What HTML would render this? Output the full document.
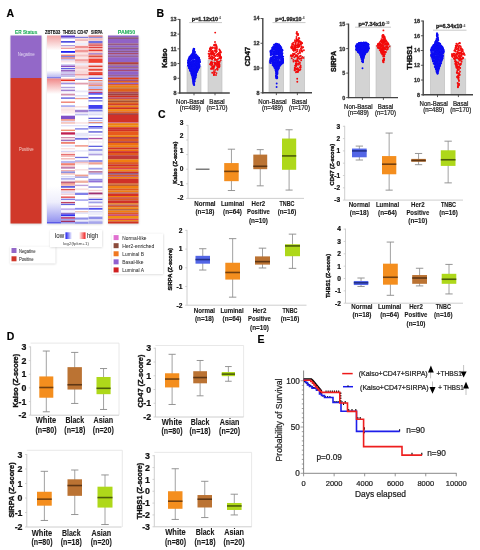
<!DOCTYPE html>
<html><head><meta charset="utf-8"><style>
html,body{margin:0;padding:0;background:#fff;width:480px;height:550px;overflow:hidden}
svg{display:block;will-change:transform}
text{font-family:"Liberation Sans", sans-serif;}
</style></head><body>
<svg width="480" height="550" viewBox="0 0 480 550">
<rect width="480" height="550" fill="#fff"/>
<text x="6.60" y="16.80" font-size="10.5" font-weight="bold" text-anchor="start" fill="#000" stroke="#000" stroke-width="0.15" >A</text>
<text x="26.20" y="33.80" font-size="5.5" font-weight="bold" text-anchor="middle" fill="#1fae5a" stroke="#1fae5a" stroke-width="0.1" textLength="22.3" lengthAdjust="spacingAndGlyphs" >ER Status</text>
<text x="52.60" y="33.50" font-size="4.9" font-weight="bold" text-anchor="middle" fill="#111" stroke="#111" stroke-width="0.12" textLength="15.4" lengthAdjust="spacingAndGlyphs" >ZBTB33</text>
<text x="69.30" y="33.50" font-size="4.9" font-weight="bold" text-anchor="middle" fill="#111" stroke="#111" stroke-width="0.12" textLength="13.3" lengthAdjust="spacingAndGlyphs" >THBS1</text>
<text x="82.70" y="33.50" font-size="4.9" font-weight="bold" text-anchor="middle" fill="#111" stroke="#111" stroke-width="0.12" textLength="10.7" lengthAdjust="spacingAndGlyphs" >CD47</text>
<text x="96.80" y="33.50" font-size="4.9" font-weight="bold" text-anchor="middle" fill="#111" stroke="#111" stroke-width="0.12" textLength="11.7" lengthAdjust="spacingAndGlyphs" >SIRPA</text>
<text x="126.50" y="33.80" font-size="5.5" font-weight="bold" text-anchor="middle" fill="#1fae5a" stroke="#1fae5a" stroke-width="0.1" textLength="17.3" lengthAdjust="spacingAndGlyphs" >PAM50</text>
<defs><filter id="sh" x="-20%" y="-20%" width="140%" height="140%"><feGaussianBlur stdDeviation="1.2"/></filter><linearGradient id="zr1" x1="0" y1="0" x2="0" y2="1"><stop offset="0" stop-color="#f2a2a2"/><stop offset="1" stop-color="#ffffff"/></linearGradient><linearGradient id="zb1" x1="0" y1="0" x2="0" y2="1"><stop offset="0" stop-color="#ffffff"/><stop offset="1" stop-color="#b8b8f0"/></linearGradient><linearGradient id="zr2" x1="0" y1="0" x2="0" y2="1"><stop offset="0" stop-color="#f08888"/><stop offset="1" stop-color="#ffffff"/></linearGradient><linearGradient id="zb2" x1="0" y1="0" x2="0" y2="1"><stop offset="0" stop-color="#ffffff"/><stop offset="0.45" stop-color="#eeeefc"/><stop offset="1" stop-color="#9494f0"/></linearGradient><linearGradient id="lb" x1="0" y1="0" x2="1" y2="0"><stop offset="0" stop-color="#2020f0"/><stop offset="1" stop-color="#ffffff"/></linearGradient><linearGradient id="lr" x1="0" y1="0" x2="1" y2="0"><stop offset="0" stop-color="#ffffff"/><stop offset="1" stop-color="#f02020"/></linearGradient></defs>
<rect x="10.80" y="36.30" width="31.00" height="188.00" fill="#000" opacity="0.18" filter="url(#sh)"/>
<rect x="47.30" y="36.30" width="55.50" height="188.00" fill="#000" opacity="0.18" filter="url(#sh)"/>
<rect x="108.30" y="36.30" width="30.50" height="188.00" fill="#000" opacity="0.18" filter="url(#sh)"/>
<rect x="10.50" y="35.50" width="31.00" height="42.50" fill="#9368c8" />
<rect x="10.50" y="78.00" width="31.00" height="145.50" fill="#d0382a" />
<text x="26.20" y="55.60" font-size="6.0" font-weight="normal" text-anchor="middle" fill="#e2d8f2" textLength="16.8" lengthAdjust="spacingAndGlyphs" >Negative</text>
<text x="26.30" y="151.40" font-size="6.0" font-weight="normal" text-anchor="middle" fill="#f3d2cc" textLength="14.4" lengthAdjust="spacingAndGlyphs" >Positive</text>
<rect x="47.00" y="35.50" width="14.00" height="188.00" fill="#fff" />
<rect x="47.00" y="35.50" width="14.00" height="15.00" fill="url(#zr1)" />
<rect x="47.00" y="70.50" width="14.00" height="6.80" fill="url(#zb1)" />
<rect x="47.00" y="77.20" width="14.00" height="1.30" fill="#6c6ce4" />
<rect x="47.00" y="78.50" width="14.00" height="15.50" fill="url(#zr2)" />
<rect x="47.00" y="186.00" width="14.00" height="36.00" fill="url(#zb2)" />
<rect x="47.00" y="222.00" width="14.00" height="1.50" fill="#5a5ae6" />
<rect x="61.00" y="35.50" width="14.00" height="188.00" fill="#fff" />
<rect x="61.00" y="35.50" width="14.00" height="2.20" fill="#6040d0" />
<rect x="61.00" y="37.70" width="14.00" height="0.90" fill="#b8a8e8" />
<rect x="61.00" y="41.00" width="14.00" height="1.70" fill="#5050e0" />
<rect x="61.00" y="45.00" width="14.00" height="1.40" fill="#b0a0e0" />
<rect x="61.00" y="46.40" width="14.00" height="1.40" fill="#f8dede" />
<rect x="61.00" y="47.80" width="14.00" height="1.20" fill="#f0a0a0" />
<rect x="61.00" y="51.00" width="14.00" height="1.80" fill="#2020f0" />
<rect x="61.00" y="54.60" width="14.00" height="1.40" fill="#e08080" />
<rect x="61.00" y="56.00" width="14.00" height="1.40" fill="#8080e0" />
<rect x="61.00" y="57.40" width="14.00" height="1.40" fill="#e07070" />
<rect x="61.00" y="58.80" width="14.00" height="1.80" fill="#c8c0ec" />
<rect x="61.00" y="60.60" width="14.00" height="1.80" fill="#fae6e6" />
<rect x="61.00" y="64.30" width="14.00" height="1.30" fill="#c0c0f0" />
<rect x="61.00" y="65.60" width="14.00" height="1.40" fill="#9050c0" />
<rect x="61.00" y="67.00" width="14.00" height="1.00" fill="#ece8f8" />
<rect x="61.00" y="68.00" width="14.00" height="1.30" fill="#6060e0" />
<rect x="61.00" y="70.20" width="14.00" height="1.40" fill="#8040b0" />
<rect x="61.00" y="71.60" width="14.00" height="2.40" fill="#d0c8f0" />
<rect x="61.00" y="74.00" width="14.00" height="1.40" fill="#c0a0d8" />
<rect x="61.00" y="75.40" width="14.00" height="1.40" fill="#b0b0e8" />
<rect x="61.00" y="78.00" width="14.00" height="1.50" fill="#f8d8d8" />
<rect x="61.00" y="79.50" width="14.00" height="1.70" fill="#e83020" />
<rect x="61.00" y="81.20" width="14.00" height="1.50" fill="#fae2e2" />
<rect x="61.00" y="82.70" width="14.00" height="1.60" fill="#a090e0" />
<rect x="61.00" y="86.80" width="14.00" height="1.40" fill="#b0a0e0" />
<rect x="61.00" y="89.60" width="14.00" height="1.40" fill="#a080d0" />
<rect x="61.00" y="91.00" width="14.00" height="1.30" fill="#ece8f8" />
<rect x="61.00" y="93.70" width="14.00" height="1.80" fill="#d090b0" />
<rect x="61.00" y="97.40" width="14.00" height="1.40" fill="#6060e0" />
<rect x="61.00" y="101.50" width="14.00" height="1.40" fill="#f08070" />
<rect x="61.00" y="105.20" width="14.00" height="1.80" fill="#b0b0f0" />
<rect x="61.00" y="107.00" width="14.00" height="2.00" fill="#fbeaea" />
<rect x="61.00" y="109.30" width="14.00" height="1.40" fill="#f8d6d6" />
<rect x="61.00" y="110.70" width="14.00" height="2.80" fill="#fcecec" />
<rect x="61.00" y="115.70" width="14.00" height="3.30" fill="#8050c8" />
<rect x="61.00" y="119.00" width="14.00" height="1.90" fill="#f0a090" />
<rect x="61.00" y="120.90" width="14.00" height="1.40" fill="#e4e0f8" />
<rect x="61.00" y="122.30" width="14.00" height="1.30" fill="#f4b4a8" />
<rect x="61.00" y="125.00" width="14.00" height="1.40" fill="#e4e0f8" />
<rect x="61.00" y="129.60" width="14.00" height="1.40" fill="#f09070" />
<rect x="61.00" y="132.30" width="14.00" height="2.30" fill="#c02050" />
<rect x="61.00" y="137.00" width="14.00" height="1.30" fill="#d090b0" />
<rect x="61.00" y="138.30" width="14.00" height="1.40" fill="#fae0e0" />
<rect x="61.00" y="139.70" width="14.00" height="1.30" fill="#a070c0" />
<rect x="61.00" y="141.00" width="14.00" height="1.00" fill="#ece8f8" />
<rect x="61.00" y="142.00" width="14.00" height="1.80" fill="#f08070" />
<rect x="61.00" y="145.20" width="14.00" height="1.40" fill="#e0e0f8" />
<rect x="61.00" y="148.00" width="14.00" height="1.40" fill="#fbe0e0" />
<rect x="61.00" y="150.80" width="14.00" height="1.40" fill="#d8d4f4" />
<rect x="61.00" y="152.20" width="14.00" height="1.80" fill="#fbe4e4" />
<rect x="61.00" y="154.00" width="14.00" height="1.40" fill="#e87070" />
<rect x="61.00" y="155.40" width="14.00" height="1.40" fill="#f0b0b0" />
<rect x="61.00" y="158.10" width="14.00" height="1.40" fill="#f0b8b8" />
<rect x="61.00" y="160.90" width="14.00" height="2.30" fill="#b8b8f0" />
<rect x="61.00" y="163.20" width="14.00" height="2.30" fill="#f08070" />
<rect x="61.00" y="165.50" width="14.00" height="1.30" fill="#f8d0d0" />
<rect x="61.00" y="166.80" width="14.00" height="1.90" fill="#c080b0" />
<rect x="61.00" y="170.00" width="14.00" height="1.40" fill="#f0b0b0" />
<rect x="61.00" y="171.40" width="14.00" height="1.90" fill="#9090e0" />
<rect x="61.00" y="173.30" width="14.00" height="1.30" fill="#f4b8b0" />
<rect x="61.00" y="176.00" width="14.00" height="1.40" fill="#dcdcf6" />
<rect x="61.00" y="178.30" width="14.00" height="1.40" fill="#9090e8" />
<rect x="61.00" y="179.70" width="14.00" height="1.80" fill="#f4eef8" />
<rect x="61.00" y="181.50" width="14.00" height="1.90" fill="#c06080" />
<rect x="61.00" y="183.40" width="14.00" height="1.30" fill="#f08070" />
<rect x="61.00" y="184.70" width="14.00" height="1.30" fill="#f4c0b8" />
<rect x="61.00" y="186.00" width="14.00" height="1.80" fill="#6060e0" />
<rect x="61.00" y="188.90" width="14.00" height="1.30" fill="#e05050" />
<rect x="61.00" y="190.20" width="14.00" height="1.30" fill="#f2b8b8" />
<rect x="61.00" y="191.50" width="14.00" height="2.10" fill="#dcd8f4" />
<rect x="61.00" y="193.60" width="14.00" height="1.40" fill="#f2d0d8" />
<rect x="61.00" y="196.40" width="14.00" height="1.70" fill="#e86060" />
<rect x="61.00" y="198.70" width="14.00" height="1.40" fill="#8080e8" />
<rect x="61.00" y="201.90" width="14.00" height="1.40" fill="#c04060" />
<rect x="61.00" y="203.80" width="14.00" height="1.30" fill="#6060e0" />
<rect x="61.00" y="208.30" width="14.00" height="1.90" fill="#c0b0f0" />
<rect x="61.00" y="211.60" width="14.00" height="1.30" fill="#e4e0f8" />
<rect x="61.00" y="212.90" width="14.00" height="1.40" fill="#9070c8" />
<rect x="61.00" y="214.30" width="14.00" height="1.80" fill="#3030f0" />
<rect x="61.00" y="216.10" width="14.00" height="0.90" fill="#c8c8f4" />
<rect x="61.00" y="217.00" width="14.00" height="1.90" fill="#c05080" />
<rect x="61.00" y="218.90" width="14.00" height="1.80" fill="#a0a0f0" />
<rect x="61.00" y="220.70" width="14.00" height="1.40" fill="#a03060" />
<rect x="61.00" y="222.10" width="14.00" height="1.40" fill="#9090ec" />
<rect x="75.00" y="35.50" width="13.50" height="188.00" fill="#fff" />
<rect x="75.00" y="35.50" width="13.50" height="42.50" fill="#fbe4e4" />
<rect x="75.00" y="35.50" width="13.50" height="1.30" fill="#fbeaea" />
<rect x="75.00" y="36.80" width="13.50" height="1.20" fill="#8080e0" />
<rect x="75.00" y="38.00" width="13.50" height="1.40" fill="#f8dcdc" />
<rect x="75.00" y="39.40" width="13.50" height="1.50" fill="#f0b0b0" />
<rect x="75.00" y="40.90" width="13.50" height="2.10" fill="#fcf0f0" />
<rect x="75.00" y="43.00" width="13.50" height="2.00" fill="#eeeefa" />
<rect x="75.00" y="46.00" width="13.50" height="2.20" fill="#f09090" />
<rect x="75.00" y="48.20" width="13.50" height="1.80" fill="#f8d4d4" />
<rect x="75.00" y="50.00" width="13.50" height="2.30" fill="#f09898" />
<rect x="75.00" y="54.60" width="13.50" height="1.90" fill="#f4c0c0" />
<rect x="75.00" y="59.20" width="13.50" height="2.30" fill="#f0a0a0" />
<rect x="75.00" y="61.50" width="13.50" height="1.90" fill="#f8d0d0" />
<rect x="75.00" y="63.40" width="13.50" height="2.20" fill="#eeeefa" />
<rect x="75.00" y="65.60" width="13.50" height="1.40" fill="#f8d4d4" />
<rect x="75.00" y="67.00" width="13.50" height="1.90" fill="#f6c8c8" />
<rect x="75.00" y="70.70" width="13.50" height="3.30" fill="#f8d8d8" />
<rect x="75.00" y="74.00" width="13.50" height="1.40" fill="#f0a0a0" />
<rect x="75.00" y="78.60" width="13.50" height="1.40" fill="#9090e0" />
<rect x="75.00" y="82.70" width="13.50" height="1.80" fill="#e0a0b0" />
<rect x="75.00" y="90.50" width="13.50" height="1.80" fill="#e8e6f8" />
<rect x="75.00" y="95.10" width="13.50" height="1.40" fill="#dcdcf6" />
<rect x="75.00" y="97.90" width="13.50" height="1.30" fill="#f0a090" />
<rect x="75.00" y="106.10" width="13.50" height="1.40" fill="#f8dcdc" />
<rect x="75.00" y="109.80" width="13.50" height="2.70" fill="#a080d0" />
<rect x="75.00" y="112.50" width="13.50" height="1.50" fill="#ece8f8" />
<rect x="75.00" y="114.00" width="13.50" height="1.40" fill="#c0c0f0" />
<rect x="75.00" y="122.30" width="13.50" height="1.30" fill="#f8dede" />
<rect x="75.00" y="125.00" width="13.50" height="1.40" fill="#e4e4f8" />
<rect x="75.00" y="128.20" width="13.50" height="1.40" fill="#8080e8" />
<rect x="75.00" y="132.80" width="13.50" height="3.70" fill="#e6e6f8" />
<rect x="75.00" y="137.90" width="13.50" height="1.80" fill="#7070e0" />
<rect x="75.00" y="145.20" width="13.50" height="1.40" fill="#f09080" />
<rect x="75.00" y="150.20" width="13.50" height="1.40" fill="#e4e4f8" />
<rect x="75.00" y="156.80" width="13.50" height="1.30" fill="#7070e0" />
<rect x="75.00" y="160.40" width="13.50" height="1.40" fill="#a0a0e8" />
<rect x="75.00" y="161.80" width="13.50" height="1.40" fill="#f4c0c0" />
<rect x="75.00" y="163.20" width="13.50" height="1.30" fill="#f8dcdc" />
<rect x="75.00" y="169.10" width="13.50" height="1.40" fill="#f8e0e0" />
<rect x="75.00" y="174.60" width="13.50" height="1.90" fill="#f0a090" />
<rect x="75.00" y="176.50" width="13.50" height="1.40" fill="#a0a0e8" />
<rect x="75.00" y="180.60" width="13.50" height="2.30" fill="#f0b0a0" />
<rect x="75.00" y="184.70" width="13.50" height="1.40" fill="#c0a0d8" />
<rect x="75.00" y="188.40" width="13.50" height="1.80" fill="#f8dede" />
<rect x="75.00" y="192.50" width="13.50" height="1.50" fill="#e4e4f8" />
<rect x="75.00" y="192.80" width="13.50" height="2.20" fill="#8080e8" />
<rect x="75.00" y="199.20" width="13.50" height="1.80" fill="#b0b0f0" />
<rect x="75.00" y="207.90" width="13.50" height="1.80" fill="#8888f0" />
<rect x="75.00" y="211.10" width="13.50" height="1.40" fill="#f0c0b0" />
<rect x="75.00" y="212.50" width="13.50" height="1.40" fill="#e0e0f8" />
<rect x="75.00" y="217.50" width="13.50" height="2.30" fill="#9090e8" />
<rect x="75.00" y="219.80" width="13.50" height="1.80" fill="#ececfa" />
<rect x="75.00" y="221.60" width="13.50" height="0.90" fill="#a0a0e8" />
<rect x="75.00" y="222.50" width="13.50" height="1.00" fill="#5050e0" />
<rect x="88.50" y="35.50" width="14.00" height="188.00" fill="#fff" />
<rect x="88.50" y="35.50" width="14.00" height="42.50" fill="#fad8d8" />
<rect x="88.50" y="35.50" width="14.00" height="1.30" fill="#e07070" />
<rect x="88.50" y="36.80" width="14.00" height="1.30" fill="#9090e0" />
<rect x="88.50" y="38.10" width="14.00" height="1.90" fill="#f4c0c0" />
<rect x="88.50" y="40.90" width="14.00" height="2.30" fill="#7070e0" />
<rect x="88.50" y="43.20" width="14.00" height="1.30" fill="#d08090" />
<rect x="88.50" y="44.50" width="14.00" height="1.40" fill="#e05050" />
<rect x="88.50" y="45.90" width="14.00" height="0.90" fill="#f4b8b8" />
<rect x="88.50" y="46.80" width="14.00" height="1.40" fill="#e04040" />
<rect x="88.50" y="49.60" width="14.00" height="1.80" fill="#e84030" />
<rect x="88.50" y="51.40" width="14.00" height="1.90" fill="#f6c8c8" />
<rect x="88.50" y="53.30" width="14.00" height="1.30" fill="#9070d0" />
<rect x="88.50" y="54.60" width="14.00" height="1.40" fill="#f09080" />
<rect x="88.50" y="56.00" width="14.00" height="1.40" fill="#e05040" />
<rect x="88.50" y="57.40" width="14.00" height="1.40" fill="#f4b0b0" />
<rect x="88.50" y="58.80" width="14.00" height="4.10" fill="#f04030" />
<rect x="88.50" y="62.90" width="14.00" height="1.40" fill="#ececfa" />
<rect x="88.50" y="65.60" width="14.00" height="1.40" fill="#e04030" />
<rect x="88.50" y="67.00" width="14.00" height="1.90" fill="#f6cccc" />
<rect x="88.50" y="68.90" width="14.00" height="1.80" fill="#e84838" />
<rect x="88.50" y="72.10" width="14.00" height="1.90" fill="#e84838" />
<rect x="88.50" y="74.00" width="14.00" height="1.40" fill="#e83020" />
<rect x="88.50" y="75.40" width="14.00" height="2.30" fill="#e4e4f8" />
<rect x="88.50" y="77.70" width="14.00" height="1.30" fill="#6060e0" />
<rect x="88.50" y="80.00" width="14.00" height="1.30" fill="#f08060" />
<rect x="88.50" y="81.30" width="14.00" height="1.40" fill="#c8c8f0" />
<rect x="88.50" y="82.70" width="14.00" height="0.90" fill="#f08870" />
<rect x="88.50" y="83.60" width="14.00" height="1.40" fill="#d8a0c0" />
<rect x="88.50" y="85.00" width="14.00" height="1.40" fill="#f09070" />
<rect x="88.50" y="86.40" width="14.00" height="2.60" fill="#c0c0f0" />
<rect x="88.50" y="89.00" width="14.00" height="1.50" fill="#f07050" />
<rect x="88.50" y="90.50" width="14.00" height="1.40" fill="#c8c8f0" />
<rect x="88.50" y="91.90" width="14.00" height="1.40" fill="#c04080" />
<rect x="88.50" y="93.30" width="14.00" height="1.30" fill="#3030f0" />
<rect x="88.50" y="97.00" width="14.00" height="1.80" fill="#5050e0" />
<rect x="88.50" y="100.10" width="14.00" height="1.40" fill="#8080e8" />
<rect x="88.50" y="105.00" width="14.00" height="3.90" fill="#4040f0" />
<rect x="88.50" y="108.90" width="14.00" height="1.30" fill="#c8c8f4" />
<rect x="88.50" y="110.20" width="14.00" height="1.40" fill="#6060e0" />
<rect x="88.50" y="111.60" width="14.00" height="2.40" fill="#eaeafa" />
<rect x="88.50" y="114.00" width="14.00" height="1.40" fill="#dcdcf6" />
<rect x="88.50" y="117.70" width="14.00" height="1.30" fill="#6060e0" />
<rect x="88.50" y="120.00" width="14.00" height="1.30" fill="#c0c0f0" />
<rect x="88.50" y="122.30" width="14.00" height="0.90" fill="#e06040" />
<rect x="88.50" y="123.20" width="14.00" height="0.80" fill="#c8c8f0" />
<rect x="88.50" y="126.00" width="14.00" height="1.30" fill="#4040e0" />
<rect x="88.50" y="127.30" width="14.00" height="1.40" fill="#8080e8" />
<rect x="88.50" y="131.00" width="14.00" height="1.80" fill="#8080e0" />
<rect x="88.50" y="134.20" width="14.00" height="1.80" fill="#e0e0f8" />
<rect x="88.50" y="137.90" width="14.00" height="1.30" fill="#b050a0" />
<rect x="88.50" y="141.00" width="14.00" height="2.00" fill="#f6f0f8" />
<rect x="88.50" y="145.70" width="14.00" height="1.30" fill="#6060e0" />
<rect x="88.50" y="148.90" width="14.00" height="2.30" fill="#a0a0e8" />
<rect x="88.50" y="152.50" width="14.00" height="1.50" fill="#d8d8f6" />
<rect x="88.50" y="154.00" width="14.00" height="1.40" fill="#b0a0e0" />
<rect x="88.50" y="160.00" width="14.00" height="2.30" fill="#9090e8" />
<rect x="88.50" y="162.30" width="14.00" height="2.20" fill="#f0a090" />
<rect x="88.50" y="167.80" width="14.00" height="1.80" fill="#a0a0e8" />
<rect x="88.50" y="171.00" width="14.00" height="1.80" fill="#c080a0" />
<rect x="88.50" y="172.80" width="14.00" height="1.80" fill="#b0b0f0" />
<rect x="88.50" y="178.80" width="14.00" height="1.80" fill="#9090e8" />
<rect x="88.50" y="180.60" width="14.00" height="1.80" fill="#9070d8" />
<rect x="88.50" y="186.10" width="14.00" height="1.90" fill="#a0a0e8" />
<rect x="88.50" y="189.80" width="14.00" height="1.40" fill="#f6d0d0" />
<rect x="88.50" y="192.50" width="14.00" height="2.10" fill="#a03070" />
<rect x="88.50" y="194.60" width="14.00" height="1.40" fill="#f8f0f8" />
<rect x="88.50" y="196.90" width="14.00" height="0.90" fill="#f6d8d8" />
<rect x="88.50" y="198.70" width="14.00" height="1.40" fill="#5050e0" />
<rect x="88.50" y="201.50" width="14.00" height="1.80" fill="#a0a0e8" />
<rect x="88.50" y="205.60" width="14.00" height="1.40" fill="#d0b0d0" />
<rect x="88.50" y="207.90" width="14.00" height="1.80" fill="#5050f0" />
<rect x="88.50" y="211.10" width="14.00" height="1.40" fill="#d4d4f4" />
<rect x="88.50" y="212.50" width="14.00" height="2.70" fill="#eeeefa" />
<rect x="88.50" y="216.60" width="14.00" height="2.80" fill="#9090e8" />
<rect x="88.50" y="219.40" width="14.00" height="1.80" fill="#dcdcf6" />
<rect x="88.50" y="221.20" width="14.00" height="1.40" fill="#a8a8ec" />
<rect x="88.50" y="222.60" width="14.00" height="0.90" fill="#7070e0" />
<rect x="108.00" y="35.50" width="30.50" height="1.70" fill="#9162c6" />
<rect x="108.00" y="37.20" width="30.50" height="1.80" fill="#8f5a82" />
<rect x="108.00" y="39.00" width="30.50" height="4.50" fill="#9162c6" />
<rect x="108.00" y="43.50" width="30.50" height="1.90" fill="#9a5a80" />
<rect x="108.00" y="45.40" width="30.50" height="2.20" fill="#9162c6" />
<rect x="108.00" y="47.60" width="30.50" height="1.40" fill="#8f5c84" />
<rect x="108.00" y="49.00" width="30.50" height="1.80" fill="#9162c6" />
<rect x="108.00" y="50.80" width="30.50" height="1.40" fill="#8f5a82" />
<rect x="108.00" y="52.20" width="30.50" height="0.80" fill="#9162c6" />
<rect x="108.00" y="53.00" width="30.50" height="1.50" fill="#a84c70" />
<rect x="108.00" y="54.50" width="30.50" height="1.30" fill="#9162c6" />
<rect x="108.00" y="55.80" width="30.50" height="1.40" fill="#9c6490" />
<rect x="108.00" y="57.20" width="30.50" height="5.00" fill="#9162c6" />
<rect x="108.00" y="62.20" width="30.50" height="2.30" fill="#b04040" />
<rect x="108.00" y="64.50" width="30.50" height="1.30" fill="#9c6490" />
<rect x="108.00" y="65.80" width="30.50" height="1.40" fill="#9162c6" />
<rect x="108.00" y="67.20" width="30.50" height="1.30" fill="#9a5470" />
<rect x="108.00" y="68.50" width="30.50" height="1.50" fill="#9162c6" />
<rect x="108.00" y="70.00" width="30.50" height="1.30" fill="#a84c70" />
<rect x="108.00" y="71.30" width="30.50" height="3.60" fill="#9162c6" />
<rect x="108.00" y="74.90" width="30.50" height="1.40" fill="#9c6490" />
<rect x="108.00" y="76.30" width="30.50" height="1.30" fill="#9162c6" />
<rect x="108.00" y="77.60" width="30.50" height="1.90" fill="#e04018" />
<rect x="108.00" y="79.50" width="30.50" height="1.50" fill="#a05080" />
<rect x="108.00" y="81.00" width="30.50" height="1.70" fill="#e06020" />
<rect x="108.00" y="82.70" width="30.50" height="1.40" fill="#9162c6" />
<rect x="108.00" y="84.10" width="30.50" height="1.40" fill="#e05020" />
<rect x="108.00" y="85.50" width="30.50" height="2.20" fill="#f08010" />
<rect x="108.00" y="87.70" width="30.50" height="0.90" fill="#c06020" />
<rect x="108.00" y="88.60" width="30.50" height="3.20" fill="#e06018" />
<rect x="108.00" y="91.80" width="30.50" height="1.80" fill="#b04858" />
<rect x="108.00" y="93.60" width="30.50" height="1.90" fill="#a04040" />
<rect x="108.00" y="95.50" width="30.50" height="1.80" fill="#d03020" />
<rect x="108.00" y="97.30" width="30.50" height="1.80" fill="#c05060" />
<rect x="108.00" y="99.10" width="30.50" height="1.40" fill="#e87020" />
<rect x="108.00" y="100.50" width="30.50" height="1.80" fill="#a85030" />
<rect x="108.00" y="102.30" width="30.50" height="1.80" fill="#e06020" />
<rect x="108.00" y="104.10" width="30.50" height="1.40" fill="#d03020" />
<rect x="108.00" y="105.50" width="30.50" height="1.80" fill="#f08010" />
<rect x="108.00" y="107.30" width="30.50" height="1.80" fill="#d03020" />
<rect x="108.00" y="109.10" width="30.50" height="2.30" fill="#f08818" />
<rect x="108.00" y="111.40" width="30.50" height="1.80" fill="#e06020" />
<rect x="108.00" y="113.20" width="30.50" height="1.80" fill="#a84040" />
<rect x="108.00" y="115.00" width="30.50" height="7.30" fill="#d03028" />
<rect x="108.00" y="122.30" width="30.50" height="0.90" fill="#d06080" />
<rect x="108.00" y="123.20" width="30.50" height="2.30" fill="#f08010" />
<rect x="108.00" y="125.50" width="30.50" height="1.80" fill="#f09010" />
<rect x="108.00" y="127.30" width="30.50" height="2.50" fill="#d03028" />
<rect x="108.00" y="129.80" width="30.50" height="1.40" fill="#d03028" />
<rect x="108.00" y="131.20" width="30.50" height="4.10" fill="#e85a1c" />
<rect x="108.00" y="135.30" width="30.50" height="1.70" fill="#f08010" />
<rect x="108.00" y="137.00" width="30.50" height="1.90" fill="#b84040" />
<rect x="108.00" y="138.90" width="30.50" height="2.30" fill="#e05a20" />
<rect x="108.00" y="141.20" width="30.50" height="1.80" fill="#b84040" />
<rect x="108.00" y="143.00" width="30.50" height="2.70" fill="#f07010" />
<rect x="108.00" y="145.70" width="30.50" height="1.80" fill="#f08010" />
<rect x="108.00" y="147.50" width="30.50" height="1.90" fill="#d03028" />
<rect x="108.00" y="149.40" width="30.50" height="1.80" fill="#f07010" />
<rect x="108.00" y="151.20" width="30.50" height="1.80" fill="#d03028" />
<rect x="108.00" y="153.00" width="30.50" height="2.30" fill="#e05a20" />
<rect x="108.00" y="155.30" width="30.50" height="4.10" fill="#c03838" />
<rect x="108.00" y="159.40" width="30.50" height="2.70" fill="#f08010" />
<rect x="108.00" y="162.10" width="30.50" height="2.30" fill="#e05a20" />
<rect x="108.00" y="164.40" width="30.50" height="1.80" fill="#d03028" />
<rect x="108.00" y="166.20" width="30.50" height="1.80" fill="#e05a20" />
<rect x="108.00" y="168.00" width="30.50" height="1.40" fill="#e04050" />
<rect x="108.00" y="169.40" width="30.50" height="2.20" fill="#f08818" />
<rect x="108.00" y="171.60" width="30.50" height="1.40" fill="#d03028" />
<rect x="108.00" y="173.00" width="30.50" height="1.80" fill="#9a5a80" />
<rect x="108.00" y="174.80" width="30.50" height="1.40" fill="#e05a20" />
<rect x="108.00" y="176.20" width="30.50" height="0.80" fill="#c05070" />
<rect x="108.00" y="177.00" width="30.50" height="1.70" fill="#f08010" />
<rect x="108.00" y="178.70" width="30.50" height="4.60" fill="#d03028" />
<rect x="108.00" y="183.30" width="30.50" height="1.30" fill="#e05a20" />
<rect x="108.00" y="184.60" width="30.50" height="1.40" fill="#c06030" />
<rect x="108.00" y="186.00" width="30.50" height="2.70" fill="#f08010" />
<rect x="108.00" y="188.70" width="30.50" height="1.80" fill="#e05a20" />
<rect x="108.00" y="190.50" width="30.50" height="1.90" fill="#f08010" />
<rect x="108.00" y="192.40" width="30.50" height="1.30" fill="#c06050" />
<rect x="108.00" y="193.70" width="30.50" height="2.30" fill="#d83020" />
<rect x="108.00" y="196.00" width="30.50" height="1.40" fill="#f08010" />
<rect x="108.00" y="197.40" width="30.50" height="1.30" fill="#d03028" />
<rect x="108.00" y="198.70" width="30.50" height="1.80" fill="#e05a20" />
<rect x="108.00" y="200.50" width="30.50" height="2.80" fill="#d03028" />
<rect x="108.00" y="203.30" width="30.50" height="1.30" fill="#f08010" />
<rect x="108.00" y="204.60" width="30.50" height="1.40" fill="#c06060" />
<rect x="108.00" y="206.00" width="30.50" height="1.40" fill="#e05a20" />
<rect x="108.00" y="207.40" width="30.50" height="1.80" fill="#f08818" />
<rect x="108.00" y="209.20" width="30.50" height="1.30" fill="#b05030" />
<rect x="108.00" y="210.50" width="30.50" height="1.90" fill="#f08010" />
<rect x="108.00" y="212.40" width="30.50" height="1.80" fill="#e05a20" />
<rect x="108.00" y="214.20" width="30.50" height="1.80" fill="#d05070" />
<rect x="108.00" y="216.00" width="30.50" height="2.70" fill="#f09010" />
<rect x="108.00" y="218.70" width="30.50" height="1.40" fill="#e04050" />
<rect x="108.00" y="220.10" width="30.50" height="1.40" fill="#f08010" />
<rect x="108.00" y="221.50" width="30.50" height="2.00" fill="#d03020" />
<rect x="10.30" y="247.10" width="45.50" height="17.00" fill="#000" opacity="0.16" filter="url(#sh)"/>
<rect x="10.00" y="246.50" width="45.50" height="17.00" fill="#fff" />
<rect x="11.50" y="248.00" width="5.00" height="5.00" fill="#9368c8" />
<rect x="11.50" y="256.30" width="5.00" height="5.00" fill="#d0382a" />
<text x="19.00" y="252.60" font-size="4.6" font-weight="normal" text-anchor="start" fill="#333" stroke="#333" stroke-width="0.05" textLength="16.5" lengthAdjust="spacingAndGlyphs" >Negative</text>
<text x="19.00" y="260.80" font-size="4.6" font-weight="normal" text-anchor="start" fill="#333" stroke="#333" stroke-width="0.05" textLength="14.5" lengthAdjust="spacingAndGlyphs" >Positive</text>
<rect x="50.30" y="230.60" width="52.00" height="17.00" fill="#000" opacity="0.16" filter="url(#sh)"/>
<rect x="50.00" y="230.00" width="52.00" height="17.00" fill="#fff" />
<text x="55.00" y="237.60" font-size="6.4" font-weight="normal" text-anchor="start" fill="#222" stroke="#222" stroke-width="0.05" textLength="9.2" lengthAdjust="spacingAndGlyphs" >low</text>
<rect x="65.50" y="232.30" width="6.50" height="6.70" fill="url(#lb)" />
<rect x="79.00" y="232.30" width="6.50" height="6.70" fill="url(#lr)" />
<text x="87.00" y="237.60" font-size="6.4" font-weight="normal" text-anchor="start" fill="#222" stroke="#222" stroke-width="0.05" textLength="11.2" lengthAdjust="spacingAndGlyphs" >high</text>
<text x="76.00" y="245.00" font-size="4.2" font-weight="normal" text-anchor="middle" fill="#444" textLength="26" lengthAdjust="spacingAndGlyphs" >log2(fpkm+1)</text>
<rect x="112.30" y="234.10" width="51.00" height="40.50" fill="#000" opacity="0.16" filter="url(#sh)"/>
<rect x="112.00" y="233.50" width="51.00" height="40.50" fill="#fff" />
<rect x="113.60" y="235.10" width="5.00" height="5.00" fill="#e070d0" />
<text x="122.30" y="239.50" font-size="5.2" font-weight="normal" text-anchor="start" fill="#333" stroke="#333" stroke-width="0.05" textLength="24.2" lengthAdjust="spacingAndGlyphs" >Normal-like</text>
<rect x="113.60" y="243.18" width="5.00" height="5.00" fill="#8b4a3a" />
<text x="122.30" y="247.58" font-size="5.2" font-weight="normal" text-anchor="start" fill="#333" stroke="#333" stroke-width="0.05" textLength="31.9" lengthAdjust="spacingAndGlyphs" >Her2-enriched</text>
<rect x="113.60" y="251.26" width="5.00" height="5.00" fill="#f07820" />
<text x="122.30" y="255.66" font-size="5.2" font-weight="normal" text-anchor="start" fill="#333" stroke="#333" stroke-width="0.05" textLength="21.6" lengthAdjust="spacingAndGlyphs" >Luminal B</text>
<rect x="113.60" y="259.34" width="5.00" height="5.00" fill="#9060d0" />
<text x="122.30" y="263.74" font-size="5.2" font-weight="normal" text-anchor="start" fill="#333" stroke="#333" stroke-width="0.05" textLength="21.2" lengthAdjust="spacingAndGlyphs" >Basal-like</text>
<rect x="113.60" y="267.42" width="5.00" height="5.00" fill="#d02020" />
<text x="122.30" y="271.82" font-size="5.2" font-weight="normal" text-anchor="start" fill="#333" stroke="#333" stroke-width="0.05" textLength="21.7" lengthAdjust="spacingAndGlyphs" >Luminal A</text>
<text x="156.60" y="16.80" font-size="10.5" font-weight="bold" text-anchor="start" fill="#000" stroke="#000" stroke-width="0.15" >B</text>
<rect x="187.00" y="66.50" width="14.00" height="26.50" fill="#d3d3d3" stroke="#bdbdbd" stroke-width="0.6"/>
<rect x="208.00" y="60.03" width="14.00" height="32.97" fill="#d3d3d3" stroke="#bdbdbd" stroke-width="0.6"/>
<circle cx="192.5" cy="67.1" r="0.95" fill="#0c0cf2"/>
<circle cx="195.5" cy="76.0" r="0.95" fill="#0c0cf2"/>
<circle cx="195.2" cy="71.0" r="0.95" fill="#0c0cf2"/>
<circle cx="197.8" cy="58.7" r="0.95" fill="#0c0cf2"/>
<circle cx="193.8" cy="60.4" r="0.95" fill="#0c0cf2"/>
<circle cx="193.5" cy="74.8" r="0.95" fill="#0c0cf2"/>
<circle cx="194.3" cy="49.0" r="0.95" fill="#0c0cf2"/>
<circle cx="195.5" cy="72.7" r="0.95" fill="#0c0cf2"/>
<circle cx="193.1" cy="71.7" r="0.95" fill="#0c0cf2"/>
<circle cx="190.2" cy="63.9" r="0.95" fill="#0c0cf2"/>
<circle cx="196.4" cy="60.5" r="0.95" fill="#0c0cf2"/>
<circle cx="188.6" cy="60.1" r="0.95" fill="#0c0cf2"/>
<circle cx="197.5" cy="59.6" r="0.95" fill="#0c0cf2"/>
<circle cx="188.5" cy="63.4" r="0.95" fill="#0c0cf2"/>
<circle cx="190.7" cy="64.6" r="0.95" fill="#0c0cf2"/>
<circle cx="192.3" cy="65.5" r="0.95" fill="#0c0cf2"/>
<circle cx="193.7" cy="84.4" r="0.95" fill="#0c0cf2"/>
<circle cx="194.1" cy="71.6" r="0.95" fill="#0c0cf2"/>
<circle cx="190.6" cy="67.0" r="0.95" fill="#0c0cf2"/>
<circle cx="193.7" cy="83.5" r="0.95" fill="#0c0cf2"/>
<circle cx="191.3" cy="58.5" r="0.95" fill="#0c0cf2"/>
<circle cx="193.2" cy="57.1" r="0.95" fill="#0c0cf2"/>
<circle cx="196.3" cy="66.8" r="0.95" fill="#0c0cf2"/>
<circle cx="193.1" cy="52.8" r="0.95" fill="#0c0cf2"/>
<circle cx="194.4" cy="52.1" r="0.95" fill="#0c0cf2"/>
<circle cx="199.2" cy="64.8" r="0.95" fill="#0c0cf2"/>
<circle cx="195.4" cy="63.8" r="0.95" fill="#0c0cf2"/>
<circle cx="194.8" cy="77.3" r="0.95" fill="#0c0cf2"/>
<circle cx="191.2" cy="67.0" r="0.95" fill="#0c0cf2"/>
<circle cx="193.8" cy="64.7" r="0.95" fill="#0c0cf2"/>
<circle cx="193.2" cy="64.3" r="0.95" fill="#0c0cf2"/>
<circle cx="189.8" cy="59.4" r="0.95" fill="#0c0cf2"/>
<circle cx="193.5" cy="49.6" r="0.95" fill="#0c0cf2"/>
<circle cx="198.6" cy="58.0" r="0.95" fill="#0c0cf2"/>
<circle cx="190.9" cy="68.5" r="0.95" fill="#0c0cf2"/>
<circle cx="193.6" cy="58.1" r="0.95" fill="#0c0cf2"/>
<circle cx="193.4" cy="61.7" r="0.95" fill="#0c0cf2"/>
<circle cx="193.6" cy="48.7" r="0.95" fill="#0c0cf2"/>
<circle cx="192.1" cy="73.0" r="0.95" fill="#0c0cf2"/>
<circle cx="193.0" cy="57.2" r="0.95" fill="#0c0cf2"/>
<circle cx="197.6" cy="59.8" r="0.95" fill="#0c0cf2"/>
<circle cx="195.9" cy="75.1" r="0.95" fill="#0c0cf2"/>
<circle cx="196.0" cy="64.8" r="0.95" fill="#0c0cf2"/>
<circle cx="194.8" cy="73.6" r="0.95" fill="#0c0cf2"/>
<circle cx="196.8" cy="67.4" r="0.95" fill="#0c0cf2"/>
<circle cx="197.6" cy="69.9" r="0.95" fill="#0c0cf2"/>
<circle cx="191.2" cy="55.4" r="0.95" fill="#0c0cf2"/>
<circle cx="188.0" cy="65.3" r="0.95" fill="#0c0cf2"/>
<circle cx="199.1" cy="64.8" r="0.95" fill="#0c0cf2"/>
<circle cx="194.4" cy="74.9" r="0.95" fill="#0c0cf2"/>
<circle cx="196.1" cy="61.7" r="0.95" fill="#0c0cf2"/>
<circle cx="199.3" cy="66.4" r="0.95" fill="#0c0cf2"/>
<circle cx="193.2" cy="53.9" r="0.95" fill="#0c0cf2"/>
<circle cx="188.0" cy="62.2" r="0.95" fill="#0c0cf2"/>
<circle cx="196.3" cy="61.0" r="0.95" fill="#0c0cf2"/>
<circle cx="197.2" cy="57.0" r="0.95" fill="#0c0cf2"/>
<circle cx="192.9" cy="72.6" r="0.95" fill="#0c0cf2"/>
<circle cx="189.4" cy="61.9" r="0.95" fill="#0c0cf2"/>
<circle cx="193.6" cy="82.1" r="0.95" fill="#0c0cf2"/>
<circle cx="199.2" cy="66.2" r="0.95" fill="#0c0cf2"/>
<circle cx="198.6" cy="66.5" r="0.95" fill="#0c0cf2"/>
<circle cx="197.7" cy="67.4" r="0.95" fill="#0c0cf2"/>
<circle cx="189.0" cy="68.2" r="0.95" fill="#0c0cf2"/>
<circle cx="191.5" cy="57.1" r="0.95" fill="#0c0cf2"/>
<circle cx="197.6" cy="63.2" r="0.95" fill="#0c0cf2"/>
<circle cx="190.7" cy="59.2" r="0.95" fill="#0c0cf2"/>
<circle cx="199.3" cy="62.5" r="0.95" fill="#0c0cf2"/>
<circle cx="195.3" cy="55.4" r="0.95" fill="#0c0cf2"/>
<circle cx="194.5" cy="80.8" r="0.95" fill="#0c0cf2"/>
<circle cx="194.1" cy="58.5" r="0.95" fill="#0c0cf2"/>
<circle cx="194.4" cy="67.9" r="0.95" fill="#0c0cf2"/>
<circle cx="188.8" cy="60.5" r="0.95" fill="#0c0cf2"/>
<circle cx="195.2" cy="74.8" r="0.95" fill="#0c0cf2"/>
<circle cx="192.0" cy="67.9" r="0.95" fill="#0c0cf2"/>
<circle cx="193.5" cy="56.5" r="0.95" fill="#0c0cf2"/>
<circle cx="192.8" cy="73.7" r="0.95" fill="#0c0cf2"/>
<circle cx="194.2" cy="79.1" r="0.95" fill="#0c0cf2"/>
<circle cx="193.4" cy="76.5" r="0.95" fill="#0c0cf2"/>
<circle cx="196.4" cy="65.9" r="0.95" fill="#0c0cf2"/>
<circle cx="189.5" cy="56.8" r="0.95" fill="#0c0cf2"/>
<circle cx="196.1" cy="58.2" r="0.95" fill="#0c0cf2"/>
<circle cx="194.6" cy="77.7" r="0.95" fill="#0c0cf2"/>
<circle cx="193.5" cy="65.4" r="0.95" fill="#0c0cf2"/>
<circle cx="193.4" cy="57.9" r="0.95" fill="#0c0cf2"/>
<circle cx="193.0" cy="75.3" r="0.95" fill="#0c0cf2"/>
<circle cx="190.8" cy="67.2" r="0.95" fill="#0c0cf2"/>
<circle cx="189.8" cy="65.8" r="0.95" fill="#0c0cf2"/>
<circle cx="193.5" cy="61.9" r="0.95" fill="#0c0cf2"/>
<circle cx="196.8" cy="62.6" r="0.95" fill="#0c0cf2"/>
<circle cx="191.4" cy="59.3" r="0.95" fill="#0c0cf2"/>
<circle cx="193.9" cy="52.4" r="0.95" fill="#0c0cf2"/>
<circle cx="192.1" cy="74.8" r="0.95" fill="#0c0cf2"/>
<circle cx="193.6" cy="64.0" r="0.95" fill="#0c0cf2"/>
<circle cx="188.5" cy="65.5" r="0.95" fill="#0c0cf2"/>
<circle cx="198.4" cy="60.9" r="0.95" fill="#0c0cf2"/>
<circle cx="190.0" cy="70.4" r="0.95" fill="#0c0cf2"/>
<circle cx="193.7" cy="51.2" r="0.95" fill="#0c0cf2"/>
<circle cx="188.6" cy="62.0" r="0.95" fill="#0c0cf2"/>
<circle cx="194.5" cy="51.5" r="0.95" fill="#0c0cf2"/>
<circle cx="193.5" cy="56.3" r="0.95" fill="#0c0cf2"/>
<circle cx="193.6" cy="81.1" r="0.95" fill="#0c0cf2"/>
<circle cx="192.8" cy="67.7" r="0.95" fill="#0c0cf2"/>
<circle cx="188.7" cy="62.9" r="0.95" fill="#0c0cf2"/>
<circle cx="199.6" cy="65.0" r="0.95" fill="#0c0cf2"/>
<circle cx="194.6" cy="74.9" r="0.95" fill="#0c0cf2"/>
<circle cx="194.8" cy="61.3" r="0.95" fill="#0c0cf2"/>
<circle cx="195.0" cy="66.3" r="0.95" fill="#0c0cf2"/>
<circle cx="194.4" cy="68.4" r="0.95" fill="#0c0cf2"/>
<circle cx="194.9" cy="61.5" r="0.95" fill="#0c0cf2"/>
<circle cx="189.7" cy="64.9" r="0.95" fill="#0c0cf2"/>
<circle cx="196.3" cy="70.7" r="0.95" fill="#0c0cf2"/>
<circle cx="194.1" cy="76.6" r="0.95" fill="#0c0cf2"/>
<circle cx="193.0" cy="57.1" r="0.95" fill="#0c0cf2"/>
<circle cx="193.5" cy="78.1" r="0.95" fill="#0c0cf2"/>
<circle cx="194.1" cy="49.0" r="0.95" fill="#0c0cf2"/>
<circle cx="190.8" cy="70.3" r="0.95" fill="#0c0cf2"/>
<circle cx="196.5" cy="72.3" r="0.95" fill="#0c0cf2"/>
<circle cx="191.6" cy="56.6" r="0.95" fill="#0c0cf2"/>
<circle cx="198.2" cy="62.7" r="0.95" fill="#0c0cf2"/>
<circle cx="191.2" cy="72.5" r="0.95" fill="#0c0cf2"/>
<circle cx="193.5" cy="49.9" r="0.95" fill="#0c0cf2"/>
<circle cx="198.6" cy="67.1" r="0.95" fill="#0c0cf2"/>
<circle cx="191.6" cy="71.4" r="0.95" fill="#0c0cf2"/>
<circle cx="194.2" cy="64.8" r="0.95" fill="#0c0cf2"/>
<circle cx="193.4" cy="69.6" r="0.95" fill="#0c0cf2"/>
<circle cx="192.3" cy="58.8" r="0.95" fill="#0c0cf2"/>
<circle cx="196.5" cy="58.4" r="0.95" fill="#0c0cf2"/>
<circle cx="197.7" cy="61.6" r="0.95" fill="#0c0cf2"/>
<circle cx="196.7" cy="57.7" r="0.95" fill="#0c0cf2"/>
<circle cx="198.4" cy="61.2" r="0.95" fill="#0c0cf2"/>
<circle cx="193.8" cy="79.2" r="0.95" fill="#0c0cf2"/>
<circle cx="194.0" cy="66.0" r="0.95" fill="#0c0cf2"/>
<circle cx="189.5" cy="61.2" r="0.95" fill="#0c0cf2"/>
<circle cx="188.7" cy="59.7" r="0.95" fill="#0c0cf2"/>
<circle cx="193.0" cy="79.5" r="0.95" fill="#0c0cf2"/>
<circle cx="192.1" cy="63.4" r="0.95" fill="#0c0cf2"/>
<circle cx="193.6" cy="82.4" r="0.95" fill="#0c0cf2"/>
<circle cx="191.8" cy="64.6" r="0.95" fill="#0c0cf2"/>
<circle cx="190.8" cy="64.9" r="0.95" fill="#0c0cf2"/>
<circle cx="195.0" cy="76.0" r="0.95" fill="#0c0cf2"/>
<circle cx="197.1" cy="70.0" r="0.95" fill="#0c0cf2"/>
<circle cx="191.6" cy="66.2" r="0.95" fill="#0c0cf2"/>
<circle cx="190.8" cy="63.1" r="0.95" fill="#0c0cf2"/>
<circle cx="193.6" cy="75.0" r="0.95" fill="#0c0cf2"/>
<circle cx="199.3" cy="62.8" r="0.95" fill="#0c0cf2"/>
<circle cx="194.6" cy="77.4" r="0.95" fill="#0c0cf2"/>
<circle cx="192.1" cy="54.4" r="0.95" fill="#0c0cf2"/>
<circle cx="196.3" cy="63.3" r="0.95" fill="#0c0cf2"/>
<circle cx="199.0" cy="64.7" r="0.95" fill="#0c0cf2"/>
<circle cx="192.9" cy="79.5" r="0.95" fill="#0c0cf2"/>
<circle cx="198.9" cy="59.4" r="0.95" fill="#0c0cf2"/>
<circle cx="196.6" cy="71.9" r="0.95" fill="#0c0cf2"/>
<circle cx="189.7" cy="68.3" r="0.95" fill="#0c0cf2"/>
<circle cx="193.5" cy="69.3" r="0.95" fill="#0c0cf2"/>
<circle cx="196.5" cy="67.2" r="0.95" fill="#0c0cf2"/>
<circle cx="194.7" cy="81.4" r="0.95" fill="#0c0cf2"/>
<circle cx="197.7" cy="61.0" r="0.95" fill="#0c0cf2"/>
<circle cx="197.4" cy="62.4" r="0.95" fill="#0c0cf2"/>
<circle cx="199.1" cy="58.4" r="0.95" fill="#0c0cf2"/>
<circle cx="193.8" cy="53.3" r="0.95" fill="#0c0cf2"/>
<circle cx="198.7" cy="58.6" r="0.95" fill="#0c0cf2"/>
<circle cx="195.5" cy="77.1" r="0.95" fill="#0c0cf2"/>
<circle cx="193.2" cy="73.4" r="0.95" fill="#0c0cf2"/>
<circle cx="193.7" cy="56.0" r="0.95" fill="#0c0cf2"/>
<circle cx="192.5" cy="66.5" r="0.95" fill="#0c0cf2"/>
<circle cx="189.4" cy="64.0" r="0.95" fill="#0c0cf2"/>
<circle cx="197.0" cy="66.2" r="0.95" fill="#0c0cf2"/>
<circle cx="195.7" cy="67.8" r="0.95" fill="#0c0cf2"/>
<circle cx="190.6" cy="60.6" r="0.95" fill="#0c0cf2"/>
<circle cx="193.4" cy="80.3" r="0.95" fill="#0c0cf2"/>
<circle cx="197.1" cy="63.7" r="0.95" fill="#0c0cf2"/>
<circle cx="191.9" cy="67.0" r="0.95" fill="#0c0cf2"/>
<circle cx="190.5" cy="67.3" r="0.95" fill="#0c0cf2"/>
<circle cx="195.9" cy="57.7" r="0.95" fill="#0c0cf2"/>
<circle cx="193.0" cy="54.1" r="0.95" fill="#0c0cf2"/>
<circle cx="188.1" cy="62.8" r="0.95" fill="#0c0cf2"/>
<circle cx="194.5" cy="70.6" r="0.95" fill="#0c0cf2"/>
<circle cx="193.0" cy="72.3" r="0.95" fill="#0c0cf2"/>
<circle cx="194.7" cy="69.7" r="0.95" fill="#0c0cf2"/>
<circle cx="195.5" cy="55.9" r="0.95" fill="#0c0cf2"/>
<circle cx="195.6" cy="76.9" r="0.95" fill="#0c0cf2"/>
<circle cx="192.3" cy="71.8" r="0.95" fill="#0c0cf2"/>
<circle cx="196.2" cy="75.0" r="0.95" fill="#0c0cf2"/>
<circle cx="195.2" cy="64.9" r="0.95" fill="#0c0cf2"/>
<circle cx="195.4" cy="77.2" r="0.95" fill="#0c0cf2"/>
<circle cx="193.9" cy="52.9" r="0.95" fill="#0c0cf2"/>
<circle cx="194.3" cy="51.6" r="0.95" fill="#0c0cf2"/>
<circle cx="193.6" cy="50.6" r="0.95" fill="#0c0cf2"/>
<circle cx="188.7" cy="59.3" r="0.95" fill="#0c0cf2"/>
<circle cx="189.1" cy="59.4" r="0.95" fill="#0c0cf2"/>
<circle cx="192.2" cy="57.9" r="0.95" fill="#0c0cf2"/>
<circle cx="188.0" cy="65.6" r="0.95" fill="#0c0cf2"/>
<circle cx="193.8" cy="52.6" r="0.95" fill="#0c0cf2"/>
<circle cx="196.5" cy="66.1" r="0.95" fill="#0c0cf2"/>
<circle cx="191.5" cy="57.3" r="0.95" fill="#0c0cf2"/>
<circle cx="197.7" cy="68.4" r="0.95" fill="#0c0cf2"/>
<circle cx="193.2" cy="50.7" r="0.95" fill="#0c0cf2"/>
<circle cx="188.1" cy="60.6" r="0.95" fill="#0c0cf2"/>
<circle cx="192.6" cy="78.5" r="0.95" fill="#0c0cf2"/>
<circle cx="195.6" cy="65.1" r="0.95" fill="#0c0cf2"/>
<circle cx="191.8" cy="72.2" r="0.95" fill="#0c0cf2"/>
<circle cx="192.2" cy="67.9" r="0.95" fill="#0c0cf2"/>
<circle cx="189.0" cy="66.6" r="0.95" fill="#0c0cf2"/>
<circle cx="195.7" cy="58.1" r="0.95" fill="#0c0cf2"/>
<circle cx="195.4" cy="66.0" r="0.95" fill="#0c0cf2"/>
<circle cx="193.4" cy="52.4" r="0.95" fill="#0c0cf2"/>
<circle cx="196.8" cy="72.0" r="0.95" fill="#0c0cf2"/>
<circle cx="194.2" cy="80.4" r="0.95" fill="#0c0cf2"/>
<circle cx="191.4" cy="74.0" r="0.95" fill="#0c0cf2"/>
<circle cx="192.5" cy="53.5" r="0.95" fill="#0c0cf2"/>
<circle cx="196.3" cy="61.1" r="0.95" fill="#0c0cf2"/>
<circle cx="197.4" cy="60.9" r="0.95" fill="#0c0cf2"/>
<circle cx="191.4" cy="55.9" r="0.95" fill="#0c0cf2"/>
<circle cx="197.9" cy="66.9" r="0.95" fill="#0c0cf2"/>
<circle cx="192.2" cy="71.9" r="0.95" fill="#0c0cf2"/>
<circle cx="192.7" cy="60.8" r="0.95" fill="#0c0cf2"/>
<circle cx="193.9" cy="74.4" r="0.95" fill="#0c0cf2"/>
<circle cx="193.5" cy="71.6" r="0.95" fill="#0c0cf2"/>
<circle cx="195.8" cy="56.4" r="0.95" fill="#0c0cf2"/>
<circle cx="196.7" cy="70.7" r="0.95" fill="#0c0cf2"/>
<circle cx="193.1" cy="75.5" r="0.95" fill="#0c0cf2"/>
<circle cx="198.4" cy="58.1" r="0.95" fill="#0c0cf2"/>
<circle cx="188.8" cy="66.0" r="0.95" fill="#0c0cf2"/>
<circle cx="199.3" cy="67.2" r="0.95" fill="#0c0cf2"/>
<circle cx="188.7" cy="66.7" r="0.95" fill="#0c0cf2"/>
<circle cx="193.9" cy="55.5" r="0.95" fill="#0c0cf2"/>
<circle cx="198.5" cy="67.8" r="0.95" fill="#0c0cf2"/>
<circle cx="189.8" cy="67.3" r="0.95" fill="#0c0cf2"/>
<circle cx="193.4" cy="72.7" r="0.95" fill="#0c0cf2"/>
<circle cx="194.7" cy="72.0" r="0.95" fill="#0c0cf2"/>
<circle cx="194.8" cy="61.1" r="0.95" fill="#0c0cf2"/>
<circle cx="196.7" cy="69.4" r="0.95" fill="#0c0cf2"/>
<circle cx="194.9" cy="74.5" r="0.95" fill="#0c0cf2"/>
<circle cx="193.8" cy="75.7" r="0.95" fill="#0c0cf2"/>
<circle cx="194.3" cy="57.5" r="0.95" fill="#0c0cf2"/>
<circle cx="193.8" cy="51.1" r="0.95" fill="#0c0cf2"/>
<circle cx="189.3" cy="67.7" r="0.95" fill="#0c0cf2"/>
<circle cx="188.8" cy="58.5" r="0.95" fill="#0c0cf2"/>
<circle cx="192.4" cy="65.8" r="0.95" fill="#0c0cf2"/>
<circle cx="193.4" cy="79.0" r="0.95" fill="#0c0cf2"/>
<circle cx="189.9" cy="62.1" r="0.95" fill="#0c0cf2"/>
<circle cx="199.2" cy="59.6" r="0.95" fill="#0c0cf2"/>
<circle cx="193.5" cy="63.6" r="0.95" fill="#0c0cf2"/>
<circle cx="191.7" cy="67.8" r="0.95" fill="#0c0cf2"/>
<circle cx="192.3" cy="55.7" r="0.95" fill="#0c0cf2"/>
<circle cx="191.9" cy="62.2" r="0.95" fill="#0c0cf2"/>
<circle cx="197.8" cy="56.6" r="0.95" fill="#0c0cf2"/>
<circle cx="197.1" cy="67.8" r="0.95" fill="#0c0cf2"/>
<circle cx="193.2" cy="73.1" r="0.95" fill="#0c0cf2"/>
<circle cx="188.6" cy="62.0" r="0.95" fill="#0c0cf2"/>
<circle cx="195.4" cy="61.8" r="0.95" fill="#0c0cf2"/>
<circle cx="196.0" cy="65.1" r="0.95" fill="#0c0cf2"/>
<circle cx="199.1" cy="58.7" r="0.95" fill="#0c0cf2"/>
<circle cx="197.4" cy="59.5" r="0.95" fill="#0c0cf2"/>
<circle cx="199.7" cy="61.0" r="0.95" fill="#0c0cf2"/>
<circle cx="198.5" cy="63.6" r="0.95" fill="#0c0cf2"/>
<circle cx="194.7" cy="55.0" r="0.95" fill="#0c0cf2"/>
<circle cx="191.5" cy="70.3" r="0.95" fill="#0c0cf2"/>
<circle cx="191.3" cy="66.1" r="0.95" fill="#0c0cf2"/>
<circle cx="189.4" cy="60.3" r="0.95" fill="#0c0cf2"/>
<circle cx="196.3" cy="54.8" r="0.95" fill="#0c0cf2"/>
<circle cx="190.2" cy="70.5" r="0.95" fill="#0c0cf2"/>
<circle cx="190.7" cy="56.4" r="0.95" fill="#0c0cf2"/>
<circle cx="194.6" cy="56.5" r="0.95" fill="#0c0cf2"/>
<circle cx="193.3" cy="56.5" r="0.95" fill="#0c0cf2"/>
<circle cx="194.8" cy="54.8" r="0.95" fill="#0c0cf2"/>
<circle cx="193.5" cy="76.5" r="0.95" fill="#0c0cf2"/>
<circle cx="198.6" cy="59.8" r="0.95" fill="#0c0cf2"/>
<circle cx="196.6" cy="60.5" r="0.95" fill="#0c0cf2"/>
<circle cx="196.2" cy="73.1" r="0.95" fill="#0c0cf2"/>
<circle cx="194.0" cy="66.8" r="0.95" fill="#0c0cf2"/>
<circle cx="195.7" cy="58.1" r="0.95" fill="#0c0cf2"/>
<circle cx="189.4" cy="63.1" r="0.95" fill="#0c0cf2"/>
<circle cx="191.8" cy="75.5" r="0.95" fill="#0c0cf2"/>
<circle cx="199.5" cy="61.9" r="0.95" fill="#0c0cf2"/>
<circle cx="190.8" cy="68.9" r="0.95" fill="#0c0cf2"/>
<circle cx="191.1" cy="55.4" r="0.95" fill="#0c0cf2"/>
<circle cx="194.7" cy="69.5" r="0.95" fill="#0c0cf2"/>
<circle cx="191.0" cy="71.0" r="0.95" fill="#0c0cf2"/>
<circle cx="195.7" cy="73.0" r="0.95" fill="#0c0cf2"/>
<circle cx="190.3" cy="68.2" r="0.95" fill="#0c0cf2"/>
<circle cx="195.5" cy="61.9" r="0.95" fill="#0c0cf2"/>
<circle cx="195.5" cy="54.2" r="0.95" fill="#0c0cf2"/>
<circle cx="194.0" cy="64.8" r="0.95" fill="#0c0cf2"/>
<circle cx="194.4" cy="70.4" r="0.95" fill="#0c0cf2"/>
<circle cx="196.3" cy="58.1" r="0.95" fill="#0c0cf2"/>
<circle cx="199.6" cy="59.6" r="0.95" fill="#0c0cf2"/>
<circle cx="192.9" cy="65.3" r="0.95" fill="#0c0cf2"/>
<circle cx="196.1" cy="70.2" r="0.95" fill="#0c0cf2"/>
<circle cx="194.5" cy="75.9" r="0.95" fill="#0c0cf2"/>
<circle cx="194.0" cy="56.4" r="0.95" fill="#0c0cf2"/>
<circle cx="193.6" cy="58.0" r="0.95" fill="#0c0cf2"/>
<circle cx="192.5" cy="71.8" r="0.95" fill="#0c0cf2"/>
<circle cx="192.0" cy="67.6" r="0.95" fill="#0c0cf2"/>
<circle cx="193.1" cy="69.4" r="0.95" fill="#0c0cf2"/>
<circle cx="194.2" cy="84.7" r="0.95" fill="#0c0cf2"/>
<circle cx="195.3" cy="78.5" r="0.95" fill="#0c0cf2"/>
<circle cx="191.6" cy="73.5" r="0.95" fill="#0c0cf2"/>
<circle cx="190.7" cy="71.1" r="0.95" fill="#0c0cf2"/>
<circle cx="190.0" cy="62.4" r="0.95" fill="#0c0cf2"/>
<circle cx="191.8" cy="67.3" r="0.95" fill="#0c0cf2"/>
<circle cx="197.2" cy="57.9" r="0.95" fill="#0c0cf2"/>
<circle cx="192.6" cy="70.6" r="0.95" fill="#0c0cf2"/>
<circle cx="190.1" cy="70.5" r="0.95" fill="#0c0cf2"/>
<circle cx="198.0" cy="69.3" r="0.95" fill="#0c0cf2"/>
<circle cx="198.5" cy="63.3" r="0.95" fill="#0c0cf2"/>
<circle cx="191.4" cy="62.1" r="0.95" fill="#0c0cf2"/>
<circle cx="191.3" cy="62.9" r="0.95" fill="#0c0cf2"/>
<circle cx="193.1" cy="52.0" r="0.95" fill="#0c0cf2"/>
<circle cx="195.3" cy="73.5" r="0.95" fill="#0c0cf2"/>
<circle cx="189.5" cy="65.3" r="0.95" fill="#0c0cf2"/>
<circle cx="191.4" cy="62.2" r="0.95" fill="#0c0cf2"/>
<circle cx="197.0" cy="65.4" r="0.95" fill="#0c0cf2"/>
<circle cx="190.1" cy="69.5" r="0.95" fill="#0c0cf2"/>
<circle cx="199.9" cy="62.1" r="0.95" fill="#0c0cf2"/>
<circle cx="195.4" cy="73.0" r="0.95" fill="#0c0cf2"/>
<circle cx="195.2" cy="77.2" r="0.95" fill="#0c0cf2"/>
<circle cx="198.7" cy="62.2" r="0.95" fill="#0c0cf2"/>
<circle cx="197.3" cy="56.8" r="0.95" fill="#0c0cf2"/>
<circle cx="195.6" cy="70.4" r="0.95" fill="#0c0cf2"/>
<circle cx="193.7" cy="83.9" r="0.95" fill="#0c0cf2"/>
<circle cx="194.8" cy="56.9" r="0.95" fill="#0c0cf2"/>
<circle cx="197.7" cy="69.2" r="0.95" fill="#0c0cf2"/>
<circle cx="192.1" cy="72.6" r="0.95" fill="#0c0cf2"/>
<circle cx="195.0" cy="77.3" r="0.95" fill="#0c0cf2"/>
<circle cx="194.0" cy="56.3" r="0.95" fill="#0c0cf2"/>
<circle cx="195.0" cy="55.4" r="0.95" fill="#0c0cf2"/>
<circle cx="193.5" cy="83.2" r="0.95" fill="#0c0cf2"/>
<circle cx="197.0" cy="56.1" r="0.95" fill="#0c0cf2"/>
<circle cx="189.4" cy="57.7" r="0.95" fill="#0c0cf2"/>
<circle cx="192.4" cy="65.9" r="0.95" fill="#0c0cf2"/>
<circle cx="195.0" cy="63.4" r="0.95" fill="#0c0cf2"/>
<circle cx="192.6" cy="70.3" r="0.95" fill="#0c0cf2"/>
<circle cx="195.1" cy="58.0" r="0.95" fill="#0c0cf2"/>
<circle cx="194.6" cy="77.1" r="0.95" fill="#0c0cf2"/>
<circle cx="197.3" cy="58.6" r="0.95" fill="#0c0cf2"/>
<circle cx="197.3" cy="70.8" r="0.95" fill="#0c0cf2"/>
<circle cx="192.2" cy="54.2" r="0.95" fill="#0c0cf2"/>
<circle cx="191.4" cy="64.0" r="0.95" fill="#0c0cf2"/>
<circle cx="194.1" cy="52.0" r="0.95" fill="#0c0cf2"/>
<circle cx="188.9" cy="60.7" r="0.95" fill="#0c0cf2"/>
<circle cx="188.6" cy="60.8" r="0.95" fill="#0c0cf2"/>
<circle cx="197.2" cy="69.5" r="0.95" fill="#0c0cf2"/>
<circle cx="189.3" cy="63.5" r="0.95" fill="#0c0cf2"/>
<circle cx="193.8" cy="53.8" r="0.95" fill="#0c0cf2"/>
<circle cx="193.9" cy="84.2" r="0.95" fill="#0c0cf2"/>
<circle cx="193.5" cy="75.5" r="0.95" fill="#0c0cf2"/>
<circle cx="195.3" cy="77.1" r="0.95" fill="#0c0cf2"/>
<circle cx="190.1" cy="59.4" r="0.95" fill="#0c0cf2"/>
<circle cx="193.8" cy="62.4" r="0.95" fill="#0c0cf2"/>
<circle cx="189.3" cy="59.0" r="0.95" fill="#0c0cf2"/>
<circle cx="197.5" cy="56.3" r="0.95" fill="#0c0cf2"/>
<circle cx="193.4" cy="51.9" r="0.95" fill="#0c0cf2"/>
<circle cx="191.7" cy="64.6" r="0.95" fill="#0c0cf2"/>
<circle cx="190.2" cy="56.4" r="0.95" fill="#0c0cf2"/>
<circle cx="189.8" cy="57.6" r="0.95" fill="#0c0cf2"/>
<circle cx="192.9" cy="74.3" r="0.95" fill="#0c0cf2"/>
<circle cx="198.8" cy="64.2" r="0.95" fill="#0c0cf2"/>
<circle cx="191.4" cy="58.0" r="0.95" fill="#0c0cf2"/>
<circle cx="192.8" cy="67.9" r="0.95" fill="#0c0cf2"/>
<circle cx="197.0" cy="59.8" r="0.95" fill="#0c0cf2"/>
<circle cx="196.4" cy="64.9" r="0.95" fill="#0c0cf2"/>
<circle cx="199.5" cy="60.2" r="0.95" fill="#0c0cf2"/>
<circle cx="198.4" cy="64.8" r="0.95" fill="#0c0cf2"/>
<circle cx="192.3" cy="67.2" r="0.95" fill="#0c0cf2"/>
<circle cx="196.8" cy="65.1" r="0.95" fill="#0c0cf2"/>
<circle cx="192.5" cy="62.3" r="0.95" fill="#0c0cf2"/>
<circle cx="194.3" cy="71.7" r="0.95" fill="#0c0cf2"/>
<circle cx="196.0" cy="74.9" r="0.95" fill="#0c0cf2"/>
<circle cx="198.9" cy="57.7" r="0.95" fill="#0c0cf2"/>
<circle cx="192.6" cy="56.8" r="0.95" fill="#0c0cf2"/>
<circle cx="190.9" cy="56.0" r="0.95" fill="#0c0cf2"/>
<circle cx="193.5" cy="82.4" r="0.95" fill="#0c0cf2"/>
<circle cx="195.0" cy="78.7" r="0.95" fill="#0c0cf2"/>
<circle cx="195.8" cy="59.0" r="0.95" fill="#0c0cf2"/>
<circle cx="193.1" cy="81.3" r="0.95" fill="#0c0cf2"/>
<circle cx="193.9" cy="58.3" r="0.95" fill="#0c0cf2"/>
<circle cx="194.0" cy="64.4" r="0.95" fill="#0c0cf2"/>
<circle cx="195.9" cy="64.5" r="0.95" fill="#0c0cf2"/>
<circle cx="192.3" cy="77.1" r="0.95" fill="#0c0cf2"/>
<circle cx="194.7" cy="52.5" r="0.95" fill="#0c0cf2"/>
<circle cx="194.3" cy="60.6" r="0.95" fill="#0c0cf2"/>
<circle cx="199.2" cy="66.4" r="0.95" fill="#0c0cf2"/>
<circle cx="193.5" cy="54.2" r="0.95" fill="#0c0cf2"/>
<circle cx="196.3" cy="59.1" r="0.95" fill="#0c0cf2"/>
<circle cx="196.8" cy="63.9" r="0.95" fill="#0c0cf2"/>
<circle cx="192.0" cy="75.2" r="0.95" fill="#0c0cf2"/>
<circle cx="197.5" cy="70.6" r="0.95" fill="#0c0cf2"/>
<circle cx="195.5" cy="72.8" r="0.95" fill="#0c0cf2"/>
<circle cx="193.6" cy="70.5" r="0.95" fill="#0c0cf2"/>
<circle cx="194.9" cy="69.0" r="0.95" fill="#0c0cf2"/>
<circle cx="194.9" cy="73.9" r="0.95" fill="#0c0cf2"/>
<circle cx="196.0" cy="68.3" r="0.95" fill="#0c0cf2"/>
<circle cx="193.2" cy="69.8" r="0.95" fill="#0c0cf2"/>
<circle cx="193.8" cy="60.4" r="0.95" fill="#0c0cf2"/>
<circle cx="191.4" cy="57.3" r="0.95" fill="#0c0cf2"/>
<circle cx="193.4" cy="70.3" r="0.95" fill="#0c0cf2"/>
<circle cx="197.2" cy="57.3" r="0.95" fill="#0c0cf2"/>
<circle cx="193.4" cy="77.5" r="0.95" fill="#0c0cf2"/>
<circle cx="198.7" cy="66.5" r="0.95" fill="#0c0cf2"/>
<circle cx="194.6" cy="61.0" r="0.95" fill="#0c0cf2"/>
<circle cx="194.3" cy="78.5" r="0.95" fill="#0c0cf2"/>
<circle cx="190.4" cy="57.3" r="0.95" fill="#0c0cf2"/>
<circle cx="196.0" cy="64.9" r="0.95" fill="#0c0cf2"/>
<circle cx="194.8" cy="55.4" r="0.95" fill="#0c0cf2"/>
<circle cx="193.6" cy="80.9" r="0.95" fill="#0c0cf2"/>
<circle cx="190.9" cy="66.0" r="0.95" fill="#0c0cf2"/>
<circle cx="195.1" cy="71.9" r="0.95" fill="#0c0cf2"/>
<circle cx="188.7" cy="60.0" r="0.95" fill="#0c0cf2"/>
<circle cx="195.9" cy="72.0" r="0.95" fill="#0c0cf2"/>
<circle cx="192.3" cy="69.0" r="0.95" fill="#0c0cf2"/>
<circle cx="189.5" cy="67.5" r="0.95" fill="#0c0cf2"/>
<circle cx="194.1" cy="79.5" r="0.95" fill="#0c0cf2"/>
<circle cx="193.2" cy="63.1" r="0.95" fill="#0c0cf2"/>
<circle cx="196.7" cy="62.7" r="0.95" fill="#0c0cf2"/>
<circle cx="196.2" cy="68.6" r="0.95" fill="#0c0cf2"/>
<circle cx="191.6" cy="73.2" r="0.95" fill="#0c0cf2"/>
<circle cx="195.4" cy="61.2" r="0.95" fill="#0c0cf2"/>
<circle cx="197.7" cy="68.2" r="0.95" fill="#0c0cf2"/>
<circle cx="196.7" cy="58.3" r="0.95" fill="#0c0cf2"/>
<circle cx="196.4" cy="65.4" r="0.95" fill="#0c0cf2"/>
<circle cx="192.6" cy="70.8" r="0.95" fill="#0c0cf2"/>
<circle cx="194.0" cy="54.2" r="0.95" fill="#0c0cf2"/>
<circle cx="195.1" cy="69.6" r="0.95" fill="#0c0cf2"/>
<circle cx="193.7" cy="50.2" r="0.95" fill="#0c0cf2"/>
<circle cx="193.6" cy="80.2" r="0.95" fill="#0c0cf2"/>
<circle cx="193.4" cy="63.9" r="0.95" fill="#0c0cf2"/>
<circle cx="187.9" cy="62.7" r="0.95" fill="#0c0cf2"/>
<circle cx="191.4" cy="69.4" r="0.95" fill="#0c0cf2"/>
<circle cx="188.6" cy="64.9" r="0.95" fill="#0c0cf2"/>
<circle cx="197.2" cy="69.7" r="0.95" fill="#0c0cf2"/>
<circle cx="191.5" cy="55.0" r="0.95" fill="#0c0cf2"/>
<circle cx="189.2" cy="65.7" r="0.95" fill="#0c0cf2"/>
<circle cx="189.2" cy="65.7" r="0.95" fill="#0c0cf2"/>
<circle cx="193.9" cy="78.1" r="0.95" fill="#0c0cf2"/>
<circle cx="193.5" cy="52.3" r="0.95" fill="#0c0cf2"/>
<circle cx="196.5" cy="63.5" r="0.95" fill="#0c0cf2"/>
<circle cx="192.4" cy="67.3" r="0.95" fill="#0c0cf2"/>
<circle cx="189.4" cy="65.6" r="0.95" fill="#0c0cf2"/>
<circle cx="193.5" cy="54.7" r="0.95" fill="#0c0cf2"/>
<circle cx="197.8" cy="66.3" r="0.95" fill="#0c0cf2"/>
<circle cx="189.9" cy="58.9" r="0.95" fill="#0c0cf2"/>
<circle cx="197.2" cy="58.1" r="0.95" fill="#0c0cf2"/>
<circle cx="194.4" cy="75.3" r="0.95" fill="#0c0cf2"/>
<circle cx="198.9" cy="58.3" r="0.95" fill="#0c0cf2"/>
<circle cx="195.7" cy="63.6" r="0.95" fill="#0c0cf2"/>
<circle cx="192.9" cy="70.1" r="0.95" fill="#0c0cf2"/>
<circle cx="197.8" cy="69.0" r="0.95" fill="#0c0cf2"/>
<circle cx="192.6" cy="65.4" r="0.95" fill="#0c0cf2"/>
<circle cx="195.2" cy="72.0" r="0.95" fill="#0c0cf2"/>
<circle cx="197.6" cy="63.7" r="0.95" fill="#0c0cf2"/>
<circle cx="195.7" cy="66.8" r="0.95" fill="#0c0cf2"/>
<circle cx="193.7" cy="72.6" r="0.95" fill="#0c0cf2"/>
<circle cx="192.9" cy="68.2" r="0.95" fill="#0c0cf2"/>
<circle cx="190.6" cy="67.4" r="0.95" fill="#0c0cf2"/>
<circle cx="193.4" cy="62.4" r="0.95" fill="#0c0cf2"/>
<circle cx="197.7" cy="65.5" r="0.95" fill="#0c0cf2"/>
<circle cx="199.4" cy="62.5" r="0.95" fill="#0c0cf2"/>
<circle cx="195.1" cy="70.1" r="0.95" fill="#0c0cf2"/>
<circle cx="197.9" cy="62.0" r="0.95" fill="#0c0cf2"/>
<circle cx="197.0" cy="63.9" r="0.95" fill="#0c0cf2"/>
<circle cx="196.5" cy="70.4" r="0.95" fill="#0c0cf2"/>
<circle cx="196.1" cy="64.5" r="0.95" fill="#0c0cf2"/>
<circle cx="191.9" cy="61.2" r="0.95" fill="#0c0cf2"/>
<circle cx="191.9" cy="72.8" r="0.95" fill="#0c0cf2"/>
<circle cx="192.3" cy="62.1" r="0.95" fill="#0c0cf2"/>
<circle cx="195.8" cy="73.6" r="0.95" fill="#0c0cf2"/>
<circle cx="195.2" cy="71.3" r="0.95" fill="#0c0cf2"/>
<circle cx="190.4" cy="63.5" r="0.95" fill="#0c0cf2"/>
<circle cx="190.3" cy="69.2" r="0.95" fill="#0c0cf2"/>
<circle cx="194.8" cy="51.9" r="0.95" fill="#0c0cf2"/>
<circle cx="197.1" cy="62.2" r="0.95" fill="#0c0cf2"/>
<circle cx="193.9" cy="74.3" r="0.95" fill="#0c0cf2"/>
<circle cx="193.2" cy="66.1" r="0.95" fill="#0c0cf2"/>
<circle cx="194.0" cy="65.5" r="0.95" fill="#0c0cf2"/>
<circle cx="191.9" cy="67.8" r="0.95" fill="#0c0cf2"/>
<circle cx="198.7" cy="68.2" r="0.95" fill="#0c0cf2"/>
<circle cx="190.5" cy="66.1" r="0.95" fill="#0c0cf2"/>
<circle cx="189.4" cy="63.1" r="0.95" fill="#0c0cf2"/>
<circle cx="197.5" cy="58.0" r="0.95" fill="#0c0cf2"/>
<circle cx="193.0" cy="60.3" r="0.95" fill="#0c0cf2"/>
<circle cx="189.2" cy="60.2" r="0.95" fill="#0c0cf2"/>
<circle cx="192.0" cy="63.0" r="0.95" fill="#0c0cf2"/>
<circle cx="194.2" cy="84.9" r="0.95" fill="#0c0cf2"/>
<circle cx="199.9" cy="61.6" r="0.95" fill="#0c0cf2"/>
<circle cx="189.5" cy="63.5" r="0.95" fill="#0c0cf2"/>
<circle cx="189.7" cy="61.9" r="0.95" fill="#0c0cf2"/>
<circle cx="199.5" cy="65.9" r="0.95" fill="#0c0cf2"/>
<circle cx="193.1" cy="79.2" r="0.95" fill="#0c0cf2"/>
<circle cx="209.9" cy="48.8" r="0.95" fill="#f20c0c"/>
<circle cx="211.8" cy="62.4" r="0.95" fill="#f20c0c"/>
<circle cx="210.5" cy="57.8" r="0.95" fill="#f20c0c"/>
<circle cx="214.1" cy="45.1" r="0.95" fill="#f20c0c"/>
<circle cx="215.2" cy="64.2" r="0.95" fill="#f20c0c"/>
<circle cx="211.5" cy="52.9" r="0.95" fill="#f20c0c"/>
<circle cx="217.2" cy="66.1" r="0.95" fill="#f20c0c"/>
<circle cx="209.2" cy="58.5" r="0.95" fill="#f20c0c"/>
<circle cx="215.8" cy="59.8" r="0.95" fill="#f20c0c"/>
<circle cx="213.9" cy="57.6" r="0.95" fill="#f20c0c"/>
<circle cx="215.0" cy="63.1" r="0.95" fill="#f20c0c"/>
<circle cx="214.0" cy="74.7" r="0.95" fill="#f20c0c"/>
<circle cx="217.6" cy="66.5" r="0.95" fill="#f20c0c"/>
<circle cx="210.7" cy="47.7" r="0.95" fill="#f20c0c"/>
<circle cx="210.9" cy="58.6" r="0.95" fill="#f20c0c"/>
<circle cx="221.0" cy="52.1" r="0.95" fill="#f20c0c"/>
<circle cx="215.2" cy="48.7" r="0.95" fill="#f20c0c"/>
<circle cx="209.0" cy="51.3" r="0.95" fill="#f20c0c"/>
<circle cx="220.5" cy="52.7" r="0.95" fill="#f20c0c"/>
<circle cx="214.3" cy="72.7" r="0.95" fill="#f20c0c"/>
<circle cx="211.1" cy="65.0" r="0.95" fill="#f20c0c"/>
<circle cx="217.3" cy="68.4" r="0.95" fill="#f20c0c"/>
<circle cx="216.9" cy="63.8" r="0.95" fill="#f20c0c"/>
<circle cx="211.3" cy="54.1" r="0.95" fill="#f20c0c"/>
<circle cx="217.4" cy="56.1" r="0.95" fill="#f20c0c"/>
<circle cx="214.1" cy="57.3" r="0.95" fill="#f20c0c"/>
<circle cx="208.6" cy="53.8" r="0.95" fill="#f20c0c"/>
<circle cx="212.1" cy="56.7" r="0.95" fill="#f20c0c"/>
<circle cx="211.9" cy="65.9" r="0.95" fill="#f20c0c"/>
<circle cx="214.0" cy="47.8" r="0.95" fill="#f20c0c"/>
<circle cx="210.3" cy="53.3" r="0.95" fill="#f20c0c"/>
<circle cx="210.9" cy="58.3" r="0.95" fill="#f20c0c"/>
<circle cx="210.7" cy="63.2" r="0.95" fill="#f20c0c"/>
<circle cx="211.0" cy="62.4" r="0.95" fill="#f20c0c"/>
<circle cx="218.7" cy="64.5" r="0.95" fill="#f20c0c"/>
<circle cx="210.5" cy="48.8" r="0.95" fill="#f20c0c"/>
<circle cx="214.8" cy="50.9" r="0.95" fill="#f20c0c"/>
<circle cx="218.5" cy="54.1" r="0.95" fill="#f20c0c"/>
<circle cx="214.8" cy="53.4" r="0.95" fill="#f20c0c"/>
<circle cx="214.3" cy="65.3" r="0.95" fill="#f20c0c"/>
<circle cx="213.9" cy="75.0" r="0.95" fill="#f20c0c"/>
<circle cx="211.9" cy="63.2" r="0.95" fill="#f20c0c"/>
<circle cx="216.6" cy="46.2" r="0.95" fill="#f20c0c"/>
<circle cx="211.0" cy="53.7" r="0.95" fill="#f20c0c"/>
<circle cx="212.9" cy="66.7" r="0.95" fill="#f20c0c"/>
<circle cx="213.9" cy="71.1" r="0.95" fill="#f20c0c"/>
<circle cx="217.1" cy="61.1" r="0.95" fill="#f20c0c"/>
<circle cx="219.4" cy="55.2" r="0.95" fill="#f20c0c"/>
<circle cx="214.2" cy="55.1" r="0.95" fill="#f20c0c"/>
<circle cx="211.4" cy="62.0" r="0.95" fill="#f20c0c"/>
<circle cx="211.1" cy="68.9" r="0.95" fill="#f20c0c"/>
<circle cx="216.9" cy="54.8" r="0.95" fill="#f20c0c"/>
<circle cx="212.0" cy="51.2" r="0.95" fill="#f20c0c"/>
<circle cx="214.5" cy="44.6" r="0.95" fill="#f20c0c"/>
<circle cx="210.1" cy="49.8" r="0.95" fill="#f20c0c"/>
<circle cx="211.3" cy="68.4" r="0.95" fill="#f20c0c"/>
<circle cx="219.8" cy="61.8" r="0.95" fill="#f20c0c"/>
<circle cx="216.0" cy="75.0" r="0.95" fill="#f20c0c"/>
<circle cx="212.4" cy="47.8" r="0.95" fill="#f20c0c"/>
<circle cx="214.2" cy="55.3" r="0.95" fill="#f20c0c"/>
<circle cx="219.5" cy="66.4" r="0.95" fill="#f20c0c"/>
<circle cx="212.6" cy="62.6" r="0.95" fill="#f20c0c"/>
<circle cx="210.6" cy="47.5" r="0.95" fill="#f20c0c"/>
<circle cx="209.3" cy="56.3" r="0.95" fill="#f20c0c"/>
<circle cx="217.2" cy="62.3" r="0.95" fill="#f20c0c"/>
<circle cx="218.9" cy="63.4" r="0.95" fill="#f20c0c"/>
<circle cx="212.5" cy="57.7" r="0.95" fill="#f20c0c"/>
<circle cx="220.3" cy="51.2" r="0.95" fill="#f20c0c"/>
<circle cx="214.0" cy="73.1" r="0.95" fill="#f20c0c"/>
<circle cx="220.6" cy="58.0" r="0.95" fill="#f20c0c"/>
<circle cx="210.0" cy="64.2" r="0.95" fill="#f20c0c"/>
<circle cx="216.9" cy="59.8" r="0.95" fill="#f20c0c"/>
<circle cx="215.4" cy="48.0" r="0.95" fill="#f20c0c"/>
<circle cx="220.2" cy="52.2" r="0.95" fill="#f20c0c"/>
<circle cx="212.2" cy="47.4" r="0.95" fill="#f20c0c"/>
<circle cx="212.8" cy="51.0" r="0.95" fill="#f20c0c"/>
<circle cx="211.1" cy="51.5" r="0.95" fill="#f20c0c"/>
<circle cx="220.9" cy="56.6" r="0.95" fill="#f20c0c"/>
<circle cx="212.1" cy="54.2" r="0.95" fill="#f20c0c"/>
<circle cx="209.5" cy="55.5" r="0.95" fill="#f20c0c"/>
<circle cx="218.0" cy="67.3" r="0.95" fill="#f20c0c"/>
<circle cx="215.3" cy="45.6" r="0.95" fill="#f20c0c"/>
<circle cx="216.8" cy="48.8" r="0.95" fill="#f20c0c"/>
<circle cx="213.7" cy="66.8" r="0.95" fill="#f20c0c"/>
<circle cx="212.1" cy="59.5" r="0.95" fill="#f20c0c"/>
<circle cx="220.1" cy="57.2" r="0.95" fill="#f20c0c"/>
<circle cx="213.0" cy="53.2" r="0.95" fill="#f20c0c"/>
<circle cx="214.7" cy="59.9" r="0.95" fill="#f20c0c"/>
<circle cx="212.8" cy="51.9" r="0.95" fill="#f20c0c"/>
<circle cx="213.4" cy="68.7" r="0.95" fill="#f20c0c"/>
<circle cx="219.0" cy="67.4" r="0.95" fill="#f20c0c"/>
<circle cx="218.8" cy="54.3" r="0.95" fill="#f20c0c"/>
<circle cx="216.1" cy="45.8" r="0.95" fill="#f20c0c"/>
<circle cx="217.5" cy="69.7" r="0.95" fill="#f20c0c"/>
<circle cx="217.5" cy="54.0" r="0.95" fill="#f20c0c"/>
<circle cx="212.0" cy="62.8" r="0.95" fill="#f20c0c"/>
<circle cx="212.3" cy="68.5" r="0.95" fill="#f20c0c"/>
<circle cx="214.2" cy="66.4" r="0.95" fill="#f20c0c"/>
<circle cx="217.2" cy="68.8" r="0.95" fill="#f20c0c"/>
<circle cx="220.5" cy="58.3" r="0.95" fill="#f20c0c"/>
<circle cx="212.9" cy="67.9" r="0.95" fill="#f20c0c"/>
<circle cx="219.9" cy="57.9" r="0.95" fill="#f20c0c"/>
<circle cx="212.6" cy="53.0" r="0.95" fill="#f20c0c"/>
<circle cx="219.1" cy="58.3" r="0.95" fill="#f20c0c"/>
<circle cx="218.8" cy="54.6" r="0.95" fill="#f20c0c"/>
<circle cx="214.5" cy="65.7" r="0.95" fill="#f20c0c"/>
<circle cx="213.7" cy="67.8" r="0.95" fill="#f20c0c"/>
<circle cx="216.4" cy="50.0" r="0.95" fill="#f20c0c"/>
<circle cx="215.2" cy="50.5" r="0.95" fill="#f20c0c"/>
<circle cx="215.3" cy="55.9" r="0.95" fill="#f20c0c"/>
<circle cx="221.2" cy="57.7" r="0.95" fill="#f20c0c"/>
<circle cx="212.2" cy="72.8" r="0.95" fill="#f20c0c"/>
<circle cx="215.0" cy="72.1" r="0.95" fill="#f20c0c"/>
<circle cx="216.5" cy="73.1" r="0.95" fill="#f20c0c"/>
<circle cx="217.2" cy="64.5" r="0.95" fill="#f20c0c"/>
<circle cx="215.3" cy="63.3" r="0.95" fill="#f20c0c"/>
<circle cx="219.0" cy="53.0" r="0.95" fill="#f20c0c"/>
<circle cx="220.1" cy="55.7" r="0.95" fill="#f20c0c"/>
<circle cx="215.7" cy="44.4" r="0.95" fill="#f20c0c"/>
<circle cx="213.5" cy="67.8" r="0.95" fill="#f20c0c"/>
<circle cx="212.6" cy="53.2" r="0.95" fill="#f20c0c"/>
<circle cx="212.3" cy="47.9" r="0.95" fill="#f20c0c"/>
<circle cx="209.7" cy="54.2" r="0.95" fill="#f20c0c"/>
<circle cx="213.9" cy="54.5" r="0.95" fill="#f20c0c"/>
<circle cx="212.3" cy="64.4" r="0.95" fill="#f20c0c"/>
<circle cx="215.7" cy="44.7" r="0.95" fill="#f20c0c"/>
<circle cx="216.1" cy="52.1" r="0.95" fill="#f20c0c"/>
<circle cx="215.2" cy="69.9" r="0.95" fill="#f20c0c"/>
<circle cx="212.8" cy="68.6" r="0.95" fill="#f20c0c"/>
<circle cx="217.2" cy="61.9" r="0.95" fill="#f20c0c"/>
<circle cx="220.8" cy="60.1" r="0.95" fill="#f20c0c"/>
<circle cx="211.5" cy="51.9" r="0.95" fill="#f20c0c"/>
<circle cx="217.4" cy="69.2" r="0.95" fill="#f20c0c"/>
<circle cx="219.3" cy="65.5" r="0.95" fill="#f20c0c"/>
<circle cx="215.2" cy="59.0" r="0.95" fill="#f20c0c"/>
<circle cx="219.9" cy="50.4" r="0.95" fill="#f20c0c"/>
<circle cx="216.1" cy="51.8" r="0.95" fill="#f20c0c"/>
<circle cx="215.7" cy="55.8" r="0.95" fill="#f20c0c"/>
<circle cx="220.1" cy="54.6" r="0.95" fill="#f20c0c"/>
<circle cx="216.8" cy="47.5" r="0.95" fill="#f20c0c"/>
<circle cx="209.2" cy="56.6" r="0.95" fill="#f20c0c"/>
<circle cx="214.3" cy="57.6" r="0.95" fill="#f20c0c"/>
<circle cx="212.2" cy="53.6" r="0.95" fill="#f20c0c"/>
<circle cx="219.0" cy="55.9" r="0.95" fill="#f20c0c"/>
<circle cx="212.1" cy="54.5" r="0.95" fill="#f20c0c"/>
<circle cx="219.4" cy="55.7" r="0.95" fill="#f20c0c"/>
<circle cx="219.0" cy="61.6" r="0.95" fill="#f20c0c"/>
<circle cx="212.2" cy="58.6" r="0.95" fill="#f20c0c"/>
<circle cx="216.8" cy="51.3" r="0.95" fill="#f20c0c"/>
<circle cx="218.6" cy="66.6" r="0.95" fill="#f20c0c"/>
<circle cx="218.0" cy="59.0" r="0.95" fill="#f20c0c"/>
<circle cx="213.3" cy="57.8" r="0.95" fill="#f20c0c"/>
<circle cx="219.4" cy="64.2" r="0.95" fill="#f20c0c"/>
<circle cx="219.4" cy="65.1" r="0.95" fill="#f20c0c"/>
<circle cx="211.8" cy="68.1" r="0.95" fill="#f20c0c"/>
<circle cx="212.9" cy="67.0" r="0.95" fill="#f20c0c"/>
<circle cx="214.8" cy="63.0" r="0.95" fill="#f20c0c"/>
<circle cx="217.8" cy="64.2" r="0.95" fill="#f20c0c"/>
<circle cx="210.5" cy="50.4" r="0.95" fill="#f20c0c"/>
<circle cx="218.4" cy="63.7" r="0.95" fill="#f20c0c"/>
<circle cx="219.6" cy="52.8" r="0.95" fill="#f20c0c"/>
<circle cx="213.1" cy="52.8" r="0.95" fill="#f20c0c"/>
<circle cx="211.3" cy="49.2" r="0.95" fill="#f20c0c"/>
<circle cx="211.3" cy="56.3" r="0.95" fill="#f20c0c"/>
<circle cx="214.2" cy="45.5" r="0.95" fill="#f20c0c"/>
<circle cx="214.4" cy="62.5" r="0.95" fill="#f20c0c"/>
<circle cx="216.5" cy="65.1" r="0.95" fill="#f20c0c"/>
<circle cx="218.8" cy="66.0" r="0.95" fill="#f20c0c"/>
<circle cx="219.3" cy="49.5" r="0.95" fill="#f20c0c"/>
<circle cx="218.6" cy="62.2" r="0.95" fill="#f20c0c"/>
<circle cx="215.2" cy="32.6" r="0.95" fill="#f20c0c"/>
<circle cx="215.0" cy="42.0" r="0.95" fill="#f20c0c"/>
<line x1="179.80" y1="18.90" x2="179.80" y2="93.60" stroke="#444" stroke-width="1.4" />
<line x1="179.20" y1="93.00" x2="229.80" y2="93.00" stroke="#444" stroke-width="1.4" />
<line x1="177.50" y1="93.00" x2="179.80" y2="93.00" stroke="#444" stroke-width="0.9" />
<text x="176.50" y="94.95" font-size="5.4" font-weight="bold" text-anchor="end" fill="#333" stroke="#333" stroke-width="0.3" >8</text>
<line x1="177.50" y1="78.28" x2="179.80" y2="78.28" stroke="#444" stroke-width="0.9" />
<text x="176.50" y="80.23" font-size="5.4" font-weight="bold" text-anchor="end" fill="#333" stroke="#333" stroke-width="0.3" >9</text>
<line x1="177.50" y1="63.56" x2="179.80" y2="63.56" stroke="#444" stroke-width="0.9" />
<text x="176.50" y="65.51" font-size="5.4" font-weight="bold" text-anchor="end" fill="#333" stroke="#333" stroke-width="0.3" >10</text>
<line x1="177.50" y1="48.84" x2="179.80" y2="48.84" stroke="#444" stroke-width="0.9" />
<text x="176.50" y="50.79" font-size="5.4" font-weight="bold" text-anchor="end" fill="#333" stroke="#333" stroke-width="0.3" >11</text>
<line x1="177.50" y1="34.12" x2="179.80" y2="34.12" stroke="#444" stroke-width="0.9" />
<text x="176.50" y="36.07" font-size="5.4" font-weight="bold" text-anchor="end" fill="#333" stroke="#333" stroke-width="0.3" >12</text>
<line x1="177.50" y1="19.40" x2="179.80" y2="19.40" stroke="#444" stroke-width="0.9" />
<text x="176.50" y="21.35" font-size="5.4" font-weight="bold" text-anchor="end" fill="#333" stroke="#333" stroke-width="0.3" >13</text>
<line x1="194.00" y1="93.00" x2="194.00" y2="95.30" stroke="#444" stroke-width="0.9" />
<line x1="215.00" y1="93.00" x2="215.00" y2="95.30" stroke="#444" stroke-width="0.9" />
<text x="167.20" y="58.00" font-size="7.4" font-weight="bold" text-anchor="middle" fill="#111" stroke="#111" stroke-width="0.4" textLength="19.3" lengthAdjust="spacingAndGlyphs" transform="rotate(-90 167.20 58.00)" >Kaiso</text>
<text x="191.80" y="21.00" font-size="5.4" font-weight="bold" text-anchor="start" fill="#222" stroke="#222" stroke-width="0.3" textLength="26.3" lengthAdjust="spacingAndGlyphs" >p=1.12x10</text>
<text x="218.60" y="19.30" font-size="2.9" font-weight="bold" text-anchor="start" fill="#555" stroke="#555" stroke-width="0.1" >-6</text>
<line x1="189.20" y1="22.60" x2="222.00" y2="22.60" stroke="#c8c8c8" stroke-width="1.0" />
<text x="190.20" y="103.90" font-size="6.6" font-weight="normal" text-anchor="middle" fill="#222" stroke="#222" stroke-width="0.22" textLength="28.4" lengthAdjust="spacingAndGlyphs" >Non-Basal</text>
<text x="190.20" y="109.90" font-size="6.6" font-weight="normal" text-anchor="middle" fill="#222" stroke="#222" stroke-width="0.22" textLength="21" lengthAdjust="spacingAndGlyphs" >(n=489)</text>
<text x="217.00" y="103.90" font-size="6.6" font-weight="normal" text-anchor="middle" fill="#222" stroke="#222" stroke-width="0.22" textLength="15.5" lengthAdjust="spacingAndGlyphs" >Basal</text>
<text x="217.00" y="109.90" font-size="6.6" font-weight="normal" text-anchor="middle" fill="#222" stroke="#222" stroke-width="0.22" textLength="21" lengthAdjust="spacingAndGlyphs" >(n=170)</text>
<rect x="269.00" y="60.98" width="14.70" height="31.82" fill="#d3d3d3" stroke="#bdbdbd" stroke-width="0.6"/>
<rect x="290.00" y="56.65" width="14.70" height="36.15" fill="#d3d3d3" stroke="#bdbdbd" stroke-width="0.6"/>
<circle cx="270.8" cy="52.3" r="0.95" fill="#0c0cf2"/>
<circle cx="276.4" cy="57.9" r="0.95" fill="#0c0cf2"/>
<circle cx="276.0" cy="75.9" r="0.95" fill="#0c0cf2"/>
<circle cx="274.6" cy="59.5" r="0.95" fill="#0c0cf2"/>
<circle cx="272.6" cy="57.3" r="0.95" fill="#0c0cf2"/>
<circle cx="275.7" cy="63.7" r="0.95" fill="#0c0cf2"/>
<circle cx="278.8" cy="53.0" r="0.95" fill="#0c0cf2"/>
<circle cx="274.7" cy="65.2" r="0.95" fill="#0c0cf2"/>
<circle cx="278.5" cy="44.4" r="0.95" fill="#0c0cf2"/>
<circle cx="278.5" cy="51.3" r="0.95" fill="#0c0cf2"/>
<circle cx="279.2" cy="49.8" r="0.95" fill="#0c0cf2"/>
<circle cx="275.7" cy="51.7" r="0.95" fill="#0c0cf2"/>
<circle cx="276.7" cy="71.8" r="0.95" fill="#0c0cf2"/>
<circle cx="276.3" cy="44.7" r="0.95" fill="#0c0cf2"/>
<circle cx="270.7" cy="52.6" r="0.95" fill="#0c0cf2"/>
<circle cx="273.8" cy="58.8" r="0.95" fill="#0c0cf2"/>
<circle cx="280.8" cy="61.8" r="0.95" fill="#0c0cf2"/>
<circle cx="278.6" cy="63.4" r="0.95" fill="#0c0cf2"/>
<circle cx="273.5" cy="54.6" r="0.95" fill="#0c0cf2"/>
<circle cx="281.0" cy="50.7" r="0.95" fill="#0c0cf2"/>
<circle cx="274.5" cy="66.1" r="0.95" fill="#0c0cf2"/>
<circle cx="281.4" cy="48.1" r="0.95" fill="#0c0cf2"/>
<circle cx="277.6" cy="46.6" r="0.95" fill="#0c0cf2"/>
<circle cx="277.9" cy="51.1" r="0.95" fill="#0c0cf2"/>
<circle cx="273.3" cy="57.1" r="0.95" fill="#0c0cf2"/>
<circle cx="277.1" cy="71.5" r="0.95" fill="#0c0cf2"/>
<circle cx="279.5" cy="62.2" r="0.95" fill="#0c0cf2"/>
<circle cx="279.5" cy="58.5" r="0.95" fill="#0c0cf2"/>
<circle cx="275.7" cy="57.8" r="0.95" fill="#0c0cf2"/>
<circle cx="278.4" cy="61.6" r="0.95" fill="#0c0cf2"/>
<circle cx="270.4" cy="60.1" r="0.95" fill="#0c0cf2"/>
<circle cx="279.4" cy="53.4" r="0.95" fill="#0c0cf2"/>
<circle cx="277.9" cy="47.5" r="0.95" fill="#0c0cf2"/>
<circle cx="271.3" cy="50.4" r="0.95" fill="#0c0cf2"/>
<circle cx="280.5" cy="63.7" r="0.95" fill="#0c0cf2"/>
<circle cx="275.8" cy="60.2" r="0.95" fill="#0c0cf2"/>
<circle cx="274.2" cy="64.1" r="0.95" fill="#0c0cf2"/>
<circle cx="278.1" cy="45.8" r="0.95" fill="#0c0cf2"/>
<circle cx="275.6" cy="68.3" r="0.95" fill="#0c0cf2"/>
<circle cx="272.7" cy="54.3" r="0.95" fill="#0c0cf2"/>
<circle cx="275.9" cy="70.1" r="0.95" fill="#0c0cf2"/>
<circle cx="273.4" cy="59.2" r="0.95" fill="#0c0cf2"/>
<circle cx="277.8" cy="58.2" r="0.95" fill="#0c0cf2"/>
<circle cx="279.8" cy="64.8" r="0.95" fill="#0c0cf2"/>
<circle cx="281.8" cy="60.1" r="0.95" fill="#0c0cf2"/>
<circle cx="272.0" cy="61.1" r="0.95" fill="#0c0cf2"/>
<circle cx="273.5" cy="49.4" r="0.95" fill="#0c0cf2"/>
<circle cx="273.6" cy="59.6" r="0.95" fill="#0c0cf2"/>
<circle cx="272.8" cy="54.1" r="0.95" fill="#0c0cf2"/>
<circle cx="274.3" cy="46.8" r="0.95" fill="#0c0cf2"/>
<circle cx="278.0" cy="48.7" r="0.95" fill="#0c0cf2"/>
<circle cx="274.2" cy="56.7" r="0.95" fill="#0c0cf2"/>
<circle cx="281.2" cy="51.6" r="0.95" fill="#0c0cf2"/>
<circle cx="279.5" cy="63.3" r="0.95" fill="#0c0cf2"/>
<circle cx="277.3" cy="48.4" r="0.95" fill="#0c0cf2"/>
<circle cx="277.2" cy="44.2" r="0.95" fill="#0c0cf2"/>
<circle cx="276.7" cy="78.3" r="0.95" fill="#0c0cf2"/>
<circle cx="277.5" cy="53.0" r="0.95" fill="#0c0cf2"/>
<circle cx="280.8" cy="57.5" r="0.95" fill="#0c0cf2"/>
<circle cx="280.6" cy="50.5" r="0.95" fill="#0c0cf2"/>
<circle cx="280.1" cy="50.6" r="0.95" fill="#0c0cf2"/>
<circle cx="282.0" cy="55.0" r="0.95" fill="#0c0cf2"/>
<circle cx="272.7" cy="63.8" r="0.95" fill="#0c0cf2"/>
<circle cx="277.7" cy="45.5" r="0.95" fill="#0c0cf2"/>
<circle cx="276.1" cy="65.3" r="0.95" fill="#0c0cf2"/>
<circle cx="276.3" cy="77.4" r="0.95" fill="#0c0cf2"/>
<circle cx="270.7" cy="58.4" r="0.95" fill="#0c0cf2"/>
<circle cx="274.4" cy="54.1" r="0.95" fill="#0c0cf2"/>
<circle cx="282.1" cy="51.1" r="0.95" fill="#0c0cf2"/>
<circle cx="280.5" cy="49.9" r="0.95" fill="#0c0cf2"/>
<circle cx="282.5" cy="53.2" r="0.95" fill="#0c0cf2"/>
<circle cx="275.8" cy="65.7" r="0.95" fill="#0c0cf2"/>
<circle cx="276.6" cy="43.7" r="0.95" fill="#0c0cf2"/>
<circle cx="273.6" cy="63.9" r="0.95" fill="#0c0cf2"/>
<circle cx="281.9" cy="60.8" r="0.95" fill="#0c0cf2"/>
<circle cx="276.7" cy="44.5" r="0.95" fill="#0c0cf2"/>
<circle cx="274.3" cy="46.8" r="0.95" fill="#0c0cf2"/>
<circle cx="275.4" cy="62.6" r="0.95" fill="#0c0cf2"/>
<circle cx="273.2" cy="61.0" r="0.95" fill="#0c0cf2"/>
<circle cx="276.3" cy="53.0" r="0.95" fill="#0c0cf2"/>
<circle cx="273.8" cy="66.4" r="0.95" fill="#0c0cf2"/>
<circle cx="272.4" cy="50.4" r="0.95" fill="#0c0cf2"/>
<circle cx="280.4" cy="55.6" r="0.95" fill="#0c0cf2"/>
<circle cx="277.9" cy="48.1" r="0.95" fill="#0c0cf2"/>
<circle cx="270.4" cy="60.5" r="0.95" fill="#0c0cf2"/>
<circle cx="281.2" cy="47.1" r="0.95" fill="#0c0cf2"/>
<circle cx="282.1" cy="49.7" r="0.95" fill="#0c0cf2"/>
<circle cx="273.3" cy="63.2" r="0.95" fill="#0c0cf2"/>
<circle cx="272.9" cy="57.0" r="0.95" fill="#0c0cf2"/>
<circle cx="275.9" cy="60.7" r="0.95" fill="#0c0cf2"/>
<circle cx="277.3" cy="62.5" r="0.95" fill="#0c0cf2"/>
<circle cx="270.5" cy="59.5" r="0.95" fill="#0c0cf2"/>
<circle cx="282.4" cy="50.2" r="0.95" fill="#0c0cf2"/>
<circle cx="279.8" cy="61.5" r="0.95" fill="#0c0cf2"/>
<circle cx="278.8" cy="48.1" r="0.95" fill="#0c0cf2"/>
<circle cx="275.1" cy="51.9" r="0.95" fill="#0c0cf2"/>
<circle cx="282.2" cy="56.0" r="0.95" fill="#0c0cf2"/>
<circle cx="272.6" cy="48.0" r="0.95" fill="#0c0cf2"/>
<circle cx="280.4" cy="47.7" r="0.95" fill="#0c0cf2"/>
<circle cx="271.7" cy="60.6" r="0.95" fill="#0c0cf2"/>
<circle cx="281.2" cy="62.7" r="0.95" fill="#0c0cf2"/>
<circle cx="272.2" cy="54.3" r="0.95" fill="#0c0cf2"/>
<circle cx="273.6" cy="54.6" r="0.95" fill="#0c0cf2"/>
<circle cx="282.4" cy="50.3" r="0.95" fill="#0c0cf2"/>
<circle cx="271.8" cy="57.7" r="0.95" fill="#0c0cf2"/>
<circle cx="283.1" cy="59.0" r="0.95" fill="#0c0cf2"/>
<circle cx="276.2" cy="70.7" r="0.95" fill="#0c0cf2"/>
<circle cx="276.9" cy="45.5" r="0.95" fill="#0c0cf2"/>
<circle cx="278.2" cy="68.7" r="0.95" fill="#0c0cf2"/>
<circle cx="277.2" cy="77.5" r="0.95" fill="#0c0cf2"/>
<circle cx="277.8" cy="53.6" r="0.95" fill="#0c0cf2"/>
<circle cx="276.9" cy="62.2" r="0.95" fill="#0c0cf2"/>
<circle cx="273.3" cy="64.8" r="0.95" fill="#0c0cf2"/>
<circle cx="274.1" cy="60.5" r="0.95" fill="#0c0cf2"/>
<circle cx="279.3" cy="52.3" r="0.95" fill="#0c0cf2"/>
<circle cx="271.6" cy="59.8" r="0.95" fill="#0c0cf2"/>
<circle cx="277.7" cy="67.0" r="0.95" fill="#0c0cf2"/>
<circle cx="278.9" cy="47.9" r="0.95" fill="#0c0cf2"/>
<circle cx="277.4" cy="56.8" r="0.95" fill="#0c0cf2"/>
<circle cx="274.4" cy="44.8" r="0.95" fill="#0c0cf2"/>
<circle cx="278.5" cy="65.6" r="0.95" fill="#0c0cf2"/>
<circle cx="277.0" cy="63.4" r="0.95" fill="#0c0cf2"/>
<circle cx="276.2" cy="45.7" r="0.95" fill="#0c0cf2"/>
<circle cx="278.8" cy="62.8" r="0.95" fill="#0c0cf2"/>
<circle cx="273.7" cy="61.5" r="0.95" fill="#0c0cf2"/>
<circle cx="278.4" cy="48.5" r="0.95" fill="#0c0cf2"/>
<circle cx="281.6" cy="57.8" r="0.95" fill="#0c0cf2"/>
<circle cx="283.0" cy="61.5" r="0.95" fill="#0c0cf2"/>
<circle cx="281.9" cy="53.5" r="0.95" fill="#0c0cf2"/>
<circle cx="279.5" cy="57.3" r="0.95" fill="#0c0cf2"/>
<circle cx="276.1" cy="75.5" r="0.95" fill="#0c0cf2"/>
<circle cx="278.1" cy="60.2" r="0.95" fill="#0c0cf2"/>
<circle cx="280.6" cy="57.1" r="0.95" fill="#0c0cf2"/>
<circle cx="280.3" cy="46.6" r="0.95" fill="#0c0cf2"/>
<circle cx="276.4" cy="48.2" r="0.95" fill="#0c0cf2"/>
<circle cx="276.1" cy="66.0" r="0.95" fill="#0c0cf2"/>
<circle cx="275.7" cy="62.8" r="0.95" fill="#0c0cf2"/>
<circle cx="274.9" cy="65.3" r="0.95" fill="#0c0cf2"/>
<circle cx="275.8" cy="58.8" r="0.95" fill="#0c0cf2"/>
<circle cx="281.0" cy="58.7" r="0.95" fill="#0c0cf2"/>
<circle cx="271.4" cy="58.0" r="0.95" fill="#0c0cf2"/>
<circle cx="270.2" cy="62.3" r="0.95" fill="#0c0cf2"/>
<circle cx="271.2" cy="53.5" r="0.95" fill="#0c0cf2"/>
<circle cx="274.1" cy="57.1" r="0.95" fill="#0c0cf2"/>
<circle cx="273.3" cy="56.4" r="0.95" fill="#0c0cf2"/>
<circle cx="270.4" cy="60.8" r="0.95" fill="#0c0cf2"/>
<circle cx="277.5" cy="50.8" r="0.95" fill="#0c0cf2"/>
<circle cx="275.1" cy="44.8" r="0.95" fill="#0c0cf2"/>
<circle cx="277.9" cy="47.4" r="0.95" fill="#0c0cf2"/>
<circle cx="274.7" cy="49.7" r="0.95" fill="#0c0cf2"/>
<circle cx="279.5" cy="66.1" r="0.95" fill="#0c0cf2"/>
<circle cx="281.1" cy="62.0" r="0.95" fill="#0c0cf2"/>
<circle cx="277.5" cy="62.9" r="0.95" fill="#0c0cf2"/>
<circle cx="279.1" cy="55.9" r="0.95" fill="#0c0cf2"/>
<circle cx="278.9" cy="47.7" r="0.95" fill="#0c0cf2"/>
<circle cx="274.3" cy="56.3" r="0.95" fill="#0c0cf2"/>
<circle cx="276.0" cy="66.5" r="0.95" fill="#0c0cf2"/>
<circle cx="282.5" cy="57.4" r="0.95" fill="#0c0cf2"/>
<circle cx="271.5" cy="60.2" r="0.95" fill="#0c0cf2"/>
<circle cx="278.9" cy="54.4" r="0.95" fill="#0c0cf2"/>
<circle cx="280.7" cy="48.9" r="0.95" fill="#0c0cf2"/>
<circle cx="270.9" cy="60.0" r="0.95" fill="#0c0cf2"/>
<circle cx="273.1" cy="56.7" r="0.95" fill="#0c0cf2"/>
<circle cx="280.8" cy="53.7" r="0.95" fill="#0c0cf2"/>
<circle cx="270.7" cy="51.5" r="0.95" fill="#0c0cf2"/>
<circle cx="275.5" cy="61.6" r="0.95" fill="#0c0cf2"/>
<circle cx="280.8" cy="53.1" r="0.95" fill="#0c0cf2"/>
<circle cx="282.9" cy="59.0" r="0.95" fill="#0c0cf2"/>
<circle cx="270.5" cy="51.7" r="0.95" fill="#0c0cf2"/>
<circle cx="277.8" cy="62.8" r="0.95" fill="#0c0cf2"/>
<circle cx="271.2" cy="54.5" r="0.95" fill="#0c0cf2"/>
<circle cx="275.3" cy="56.7" r="0.95" fill="#0c0cf2"/>
<circle cx="276.1" cy="70.1" r="0.95" fill="#0c0cf2"/>
<circle cx="273.3" cy="62.1" r="0.95" fill="#0c0cf2"/>
<circle cx="277.4" cy="62.4" r="0.95" fill="#0c0cf2"/>
<circle cx="279.5" cy="53.5" r="0.95" fill="#0c0cf2"/>
<circle cx="280.2" cy="65.5" r="0.95" fill="#0c0cf2"/>
<circle cx="281.7" cy="54.5" r="0.95" fill="#0c0cf2"/>
<circle cx="276.9" cy="77.1" r="0.95" fill="#0c0cf2"/>
<circle cx="276.2" cy="68.1" r="0.95" fill="#0c0cf2"/>
<circle cx="278.4" cy="60.8" r="0.95" fill="#0c0cf2"/>
<circle cx="277.0" cy="65.0" r="0.95" fill="#0c0cf2"/>
<circle cx="273.0" cy="58.0" r="0.95" fill="#0c0cf2"/>
<circle cx="282.9" cy="62.5" r="0.95" fill="#0c0cf2"/>
<circle cx="274.1" cy="48.5" r="0.95" fill="#0c0cf2"/>
<circle cx="276.7" cy="77.0" r="0.95" fill="#0c0cf2"/>
<circle cx="275.5" cy="64.1" r="0.95" fill="#0c0cf2"/>
<circle cx="279.0" cy="48.9" r="0.95" fill="#0c0cf2"/>
<circle cx="278.2" cy="51.3" r="0.95" fill="#0c0cf2"/>
<circle cx="279.0" cy="58.9" r="0.95" fill="#0c0cf2"/>
<circle cx="282.1" cy="63.2" r="0.95" fill="#0c0cf2"/>
<circle cx="280.8" cy="49.1" r="0.95" fill="#0c0cf2"/>
<circle cx="276.6" cy="73.4" r="0.95" fill="#0c0cf2"/>
<circle cx="274.0" cy="53.8" r="0.95" fill="#0c0cf2"/>
<circle cx="276.2" cy="78.1" r="0.95" fill="#0c0cf2"/>
<circle cx="275.4" cy="62.8" r="0.95" fill="#0c0cf2"/>
<circle cx="275.7" cy="56.8" r="0.95" fill="#0c0cf2"/>
<circle cx="281.4" cy="54.0" r="0.95" fill="#0c0cf2"/>
<circle cx="275.6" cy="47.4" r="0.95" fill="#0c0cf2"/>
<circle cx="277.2" cy="47.3" r="0.95" fill="#0c0cf2"/>
<circle cx="273.0" cy="59.9" r="0.95" fill="#0c0cf2"/>
<circle cx="273.3" cy="63.4" r="0.95" fill="#0c0cf2"/>
<circle cx="277.2" cy="68.6" r="0.95" fill="#0c0cf2"/>
<circle cx="273.7" cy="54.1" r="0.95" fill="#0c0cf2"/>
<circle cx="277.0" cy="71.1" r="0.95" fill="#0c0cf2"/>
<circle cx="273.8" cy="52.4" r="0.95" fill="#0c0cf2"/>
<circle cx="277.5" cy="71.2" r="0.95" fill="#0c0cf2"/>
<circle cx="276.2" cy="69.3" r="0.95" fill="#0c0cf2"/>
<circle cx="278.9" cy="49.1" r="0.95" fill="#0c0cf2"/>
<circle cx="273.8" cy="66.4" r="0.95" fill="#0c0cf2"/>
<circle cx="279.3" cy="61.9" r="0.95" fill="#0c0cf2"/>
<circle cx="282.1" cy="61.7" r="0.95" fill="#0c0cf2"/>
<circle cx="279.0" cy="65.4" r="0.95" fill="#0c0cf2"/>
<circle cx="276.1" cy="57.8" r="0.95" fill="#0c0cf2"/>
<circle cx="282.0" cy="57.3" r="0.95" fill="#0c0cf2"/>
<circle cx="277.3" cy="54.3" r="0.95" fill="#0c0cf2"/>
<circle cx="276.2" cy="66.3" r="0.95" fill="#0c0cf2"/>
<circle cx="278.9" cy="68.2" r="0.95" fill="#0c0cf2"/>
<circle cx="275.6" cy="49.4" r="0.95" fill="#0c0cf2"/>
<circle cx="279.8" cy="63.3" r="0.95" fill="#0c0cf2"/>
<circle cx="280.7" cy="52.0" r="0.95" fill="#0c0cf2"/>
<circle cx="275.9" cy="49.9" r="0.95" fill="#0c0cf2"/>
<circle cx="275.4" cy="50.3" r="0.95" fill="#0c0cf2"/>
<circle cx="275.6" cy="58.7" r="0.95" fill="#0c0cf2"/>
<circle cx="271.5" cy="52.0" r="0.95" fill="#0c0cf2"/>
<circle cx="280.8" cy="51.3" r="0.95" fill="#0c0cf2"/>
<circle cx="276.7" cy="47.5" r="0.95" fill="#0c0cf2"/>
<circle cx="280.9" cy="53.4" r="0.95" fill="#0c0cf2"/>
<circle cx="278.6" cy="63.5" r="0.95" fill="#0c0cf2"/>
<circle cx="277.1" cy="44.8" r="0.95" fill="#0c0cf2"/>
<circle cx="276.2" cy="56.8" r="0.95" fill="#0c0cf2"/>
<circle cx="273.2" cy="59.4" r="0.95" fill="#0c0cf2"/>
<circle cx="275.8" cy="45.8" r="0.95" fill="#0c0cf2"/>
<circle cx="277.4" cy="52.6" r="0.95" fill="#0c0cf2"/>
<circle cx="278.0" cy="68.5" r="0.95" fill="#0c0cf2"/>
<circle cx="277.2" cy="77.9" r="0.95" fill="#0c0cf2"/>
<circle cx="277.1" cy="65.9" r="0.95" fill="#0c0cf2"/>
<circle cx="280.5" cy="49.5" r="0.95" fill="#0c0cf2"/>
<circle cx="270.5" cy="63.0" r="0.95" fill="#0c0cf2"/>
<circle cx="274.0" cy="56.1" r="0.95" fill="#0c0cf2"/>
<circle cx="277.1" cy="49.5" r="0.95" fill="#0c0cf2"/>
<circle cx="283.2" cy="56.6" r="0.95" fill="#0c0cf2"/>
<circle cx="275.5" cy="69.8" r="0.95" fill="#0c0cf2"/>
<circle cx="276.9" cy="67.1" r="0.95" fill="#0c0cf2"/>
<circle cx="279.8" cy="54.8" r="0.95" fill="#0c0cf2"/>
<circle cx="273.5" cy="46.6" r="0.95" fill="#0c0cf2"/>
<circle cx="276.6" cy="68.4" r="0.95" fill="#0c0cf2"/>
<circle cx="276.5" cy="76.7" r="0.95" fill="#0c0cf2"/>
<circle cx="282.0" cy="57.4" r="0.95" fill="#0c0cf2"/>
<circle cx="271.3" cy="50.9" r="0.95" fill="#0c0cf2"/>
<circle cx="276.7" cy="58.2" r="0.95" fill="#0c0cf2"/>
<circle cx="270.8" cy="61.7" r="0.95" fill="#0c0cf2"/>
<circle cx="281.9" cy="56.9" r="0.95" fill="#0c0cf2"/>
<circle cx="276.4" cy="53.7" r="0.95" fill="#0c0cf2"/>
<circle cx="277.1" cy="51.3" r="0.95" fill="#0c0cf2"/>
<circle cx="281.6" cy="52.4" r="0.95" fill="#0c0cf2"/>
<circle cx="277.9" cy="45.9" r="0.95" fill="#0c0cf2"/>
<circle cx="274.5" cy="51.6" r="0.95" fill="#0c0cf2"/>
<circle cx="277.5" cy="72.6" r="0.95" fill="#0c0cf2"/>
<circle cx="275.8" cy="43.8" r="0.95" fill="#0c0cf2"/>
<circle cx="277.8" cy="62.2" r="0.95" fill="#0c0cf2"/>
<circle cx="272.8" cy="63.8" r="0.95" fill="#0c0cf2"/>
<circle cx="279.7" cy="55.0" r="0.95" fill="#0c0cf2"/>
<circle cx="276.6" cy="59.3" r="0.95" fill="#0c0cf2"/>
<circle cx="270.6" cy="50.7" r="0.95" fill="#0c0cf2"/>
<circle cx="278.4" cy="61.0" r="0.95" fill="#0c0cf2"/>
<circle cx="282.7" cy="61.8" r="0.95" fill="#0c0cf2"/>
<circle cx="280.8" cy="62.4" r="0.95" fill="#0c0cf2"/>
<circle cx="282.0" cy="57.0" r="0.95" fill="#0c0cf2"/>
<circle cx="276.3" cy="74.8" r="0.95" fill="#0c0cf2"/>
<circle cx="276.1" cy="66.6" r="0.95" fill="#0c0cf2"/>
<circle cx="282.7" cy="58.8" r="0.95" fill="#0c0cf2"/>
<circle cx="277.8" cy="61.3" r="0.95" fill="#0c0cf2"/>
<circle cx="277.9" cy="51.9" r="0.95" fill="#0c0cf2"/>
<circle cx="276.5" cy="71.6" r="0.95" fill="#0c0cf2"/>
<circle cx="282.9" cy="60.4" r="0.95" fill="#0c0cf2"/>
<circle cx="277.8" cy="67.9" r="0.95" fill="#0c0cf2"/>
<circle cx="274.2" cy="52.3" r="0.95" fill="#0c0cf2"/>
<circle cx="276.2" cy="76.3" r="0.95" fill="#0c0cf2"/>
<circle cx="276.0" cy="47.9" r="0.95" fill="#0c0cf2"/>
<circle cx="276.9" cy="57.8" r="0.95" fill="#0c0cf2"/>
<circle cx="276.4" cy="47.9" r="0.95" fill="#0c0cf2"/>
<circle cx="279.2" cy="50.0" r="0.95" fill="#0c0cf2"/>
<circle cx="272.5" cy="63.1" r="0.95" fill="#0c0cf2"/>
<circle cx="273.3" cy="46.5" r="0.95" fill="#0c0cf2"/>
<circle cx="276.6" cy="54.6" r="0.95" fill="#0c0cf2"/>
<circle cx="271.9" cy="50.1" r="0.95" fill="#0c0cf2"/>
<circle cx="278.7" cy="65.8" r="0.95" fill="#0c0cf2"/>
<circle cx="279.7" cy="47.0" r="0.95" fill="#0c0cf2"/>
<circle cx="270.8" cy="53.6" r="0.95" fill="#0c0cf2"/>
<circle cx="278.5" cy="66.1" r="0.95" fill="#0c0cf2"/>
<circle cx="279.0" cy="61.4" r="0.95" fill="#0c0cf2"/>
<circle cx="279.0" cy="61.9" r="0.95" fill="#0c0cf2"/>
<circle cx="277.1" cy="77.5" r="0.95" fill="#0c0cf2"/>
<circle cx="274.1" cy="44.8" r="0.95" fill="#0c0cf2"/>
<circle cx="277.9" cy="60.8" r="0.95" fill="#0c0cf2"/>
<circle cx="278.1" cy="62.9" r="0.95" fill="#0c0cf2"/>
<circle cx="283.1" cy="62.7" r="0.95" fill="#0c0cf2"/>
<circle cx="273.1" cy="62.0" r="0.95" fill="#0c0cf2"/>
<circle cx="275.4" cy="46.8" r="0.95" fill="#0c0cf2"/>
<circle cx="278.6" cy="47.0" r="0.95" fill="#0c0cf2"/>
<circle cx="282.0" cy="63.4" r="0.95" fill="#0c0cf2"/>
<circle cx="282.1" cy="59.5" r="0.95" fill="#0c0cf2"/>
<circle cx="273.6" cy="51.8" r="0.95" fill="#0c0cf2"/>
<circle cx="277.2" cy="44.0" r="0.95" fill="#0c0cf2"/>
<circle cx="271.5" cy="57.9" r="0.95" fill="#0c0cf2"/>
<circle cx="273.6" cy="47.4" r="0.95" fill="#0c0cf2"/>
<circle cx="275.9" cy="62.7" r="0.95" fill="#0c0cf2"/>
<circle cx="277.5" cy="53.7" r="0.95" fill="#0c0cf2"/>
<circle cx="281.2" cy="64.3" r="0.95" fill="#0c0cf2"/>
<circle cx="278.8" cy="47.4" r="0.95" fill="#0c0cf2"/>
<circle cx="280.1" cy="57.0" r="0.95" fill="#0c0cf2"/>
<circle cx="279.9" cy="47.7" r="0.95" fill="#0c0cf2"/>
<circle cx="273.7" cy="63.5" r="0.95" fill="#0c0cf2"/>
<circle cx="282.1" cy="58.5" r="0.95" fill="#0c0cf2"/>
<circle cx="270.7" cy="51.1" r="0.95" fill="#0c0cf2"/>
<circle cx="277.5" cy="73.7" r="0.95" fill="#0c0cf2"/>
<circle cx="270.9" cy="61.1" r="0.95" fill="#0c0cf2"/>
<circle cx="281.8" cy="53.4" r="0.95" fill="#0c0cf2"/>
<circle cx="278.1" cy="66.0" r="0.95" fill="#0c0cf2"/>
<circle cx="275.8" cy="54.6" r="0.95" fill="#0c0cf2"/>
<circle cx="276.6" cy="71.6" r="0.95" fill="#0c0cf2"/>
<circle cx="274.2" cy="52.6" r="0.95" fill="#0c0cf2"/>
<circle cx="276.8" cy="76.3" r="0.95" fill="#0c0cf2"/>
<circle cx="274.9" cy="46.3" r="0.95" fill="#0c0cf2"/>
<circle cx="274.9" cy="62.6" r="0.95" fill="#0c0cf2"/>
<circle cx="278.4" cy="52.3" r="0.95" fill="#0c0cf2"/>
<circle cx="270.8" cy="55.5" r="0.95" fill="#0c0cf2"/>
<circle cx="278.2" cy="60.2" r="0.95" fill="#0c0cf2"/>
<circle cx="280.1" cy="45.7" r="0.95" fill="#0c0cf2"/>
<circle cx="276.8" cy="50.9" r="0.95" fill="#0c0cf2"/>
<circle cx="272.1" cy="47.9" r="0.95" fill="#0c0cf2"/>
<circle cx="282.1" cy="62.5" r="0.95" fill="#0c0cf2"/>
<circle cx="272.6" cy="50.8" r="0.95" fill="#0c0cf2"/>
<circle cx="279.8" cy="57.2" r="0.95" fill="#0c0cf2"/>
<circle cx="270.8" cy="53.4" r="0.95" fill="#0c0cf2"/>
<circle cx="275.5" cy="51.0" r="0.95" fill="#0c0cf2"/>
<circle cx="275.8" cy="70.7" r="0.95" fill="#0c0cf2"/>
<circle cx="275.9" cy="57.4" r="0.95" fill="#0c0cf2"/>
<circle cx="281.6" cy="60.4" r="0.95" fill="#0c0cf2"/>
<circle cx="281.7" cy="61.7" r="0.95" fill="#0c0cf2"/>
<circle cx="277.7" cy="64.8" r="0.95" fill="#0c0cf2"/>
<circle cx="278.9" cy="51.7" r="0.95" fill="#0c0cf2"/>
<circle cx="274.6" cy="46.9" r="0.95" fill="#0c0cf2"/>
<circle cx="272.7" cy="56.6" r="0.95" fill="#0c0cf2"/>
<circle cx="279.6" cy="49.5" r="0.95" fill="#0c0cf2"/>
<circle cx="276.0" cy="44.6" r="0.95" fill="#0c0cf2"/>
<circle cx="275.8" cy="69.6" r="0.95" fill="#0c0cf2"/>
<circle cx="281.8" cy="59.9" r="0.95" fill="#0c0cf2"/>
<circle cx="274.5" cy="55.2" r="0.95" fill="#0c0cf2"/>
<circle cx="274.7" cy="48.7" r="0.95" fill="#0c0cf2"/>
<circle cx="280.6" cy="63.2" r="0.95" fill="#0c0cf2"/>
<circle cx="273.1" cy="58.0" r="0.95" fill="#0c0cf2"/>
<circle cx="279.7" cy="49.5" r="0.95" fill="#0c0cf2"/>
<circle cx="276.3" cy="76.3" r="0.95" fill="#0c0cf2"/>
<circle cx="276.2" cy="72.3" r="0.95" fill="#0c0cf2"/>
<circle cx="276.5" cy="70.0" r="0.95" fill="#0c0cf2"/>
<circle cx="277.8" cy="65.0" r="0.95" fill="#0c0cf2"/>
<circle cx="272.6" cy="57.7" r="0.95" fill="#0c0cf2"/>
<circle cx="273.8" cy="52.5" r="0.95" fill="#0c0cf2"/>
<circle cx="282.4" cy="60.5" r="0.95" fill="#0c0cf2"/>
<circle cx="272.6" cy="49.0" r="0.95" fill="#0c0cf2"/>
<circle cx="282.9" cy="59.9" r="0.95" fill="#0c0cf2"/>
<circle cx="277.9" cy="46.6" r="0.95" fill="#0c0cf2"/>
<circle cx="276.3" cy="44.3" r="0.95" fill="#0c0cf2"/>
<circle cx="280.7" cy="62.0" r="0.95" fill="#0c0cf2"/>
<circle cx="276.6" cy="53.7" r="0.95" fill="#0c0cf2"/>
<circle cx="278.7" cy="61.7" r="0.95" fill="#0c0cf2"/>
<circle cx="274.2" cy="63.6" r="0.95" fill="#0c0cf2"/>
<circle cx="274.5" cy="65.2" r="0.95" fill="#0c0cf2"/>
<circle cx="280.7" cy="59.9" r="0.95" fill="#0c0cf2"/>
<circle cx="279.1" cy="65.8" r="0.95" fill="#0c0cf2"/>
<circle cx="275.9" cy="60.8" r="0.95" fill="#0c0cf2"/>
<circle cx="275.8" cy="70.2" r="0.95" fill="#0c0cf2"/>
<circle cx="274.6" cy="68.0" r="0.95" fill="#0c0cf2"/>
<circle cx="279.4" cy="45.8" r="0.95" fill="#0c0cf2"/>
<circle cx="280.1" cy="51.8" r="0.95" fill="#0c0cf2"/>
<circle cx="270.7" cy="54.8" r="0.95" fill="#0c0cf2"/>
<circle cx="275.7" cy="51.5" r="0.95" fill="#0c0cf2"/>
<circle cx="281.4" cy="49.7" r="0.95" fill="#0c0cf2"/>
<circle cx="275.0" cy="66.9" r="0.95" fill="#0c0cf2"/>
<circle cx="277.0" cy="44.9" r="0.95" fill="#0c0cf2"/>
<circle cx="272.3" cy="49.6" r="0.95" fill="#0c0cf2"/>
<circle cx="272.6" cy="63.1" r="0.95" fill="#0c0cf2"/>
<circle cx="278.9" cy="50.8" r="0.95" fill="#0c0cf2"/>
<circle cx="276.2" cy="51.8" r="0.95" fill="#0c0cf2"/>
<circle cx="277.1" cy="74.4" r="0.95" fill="#0c0cf2"/>
<circle cx="278.6" cy="63.1" r="0.95" fill="#0c0cf2"/>
<circle cx="281.6" cy="55.8" r="0.95" fill="#0c0cf2"/>
<circle cx="273.3" cy="48.5" r="0.95" fill="#0c0cf2"/>
<circle cx="277.8" cy="51.9" r="0.95" fill="#0c0cf2"/>
<circle cx="276.4" cy="76.2" r="0.95" fill="#0c0cf2"/>
<circle cx="278.0" cy="64.0" r="0.95" fill="#0c0cf2"/>
<circle cx="276.5" cy="46.8" r="0.95" fill="#0c0cf2"/>
<circle cx="270.3" cy="61.7" r="0.95" fill="#0c0cf2"/>
<circle cx="275.7" cy="54.4" r="0.95" fill="#0c0cf2"/>
<circle cx="274.4" cy="62.1" r="0.95" fill="#0c0cf2"/>
<circle cx="276.4" cy="52.4" r="0.95" fill="#0c0cf2"/>
<circle cx="280.8" cy="48.4" r="0.95" fill="#0c0cf2"/>
<circle cx="279.0" cy="44.5" r="0.95" fill="#0c0cf2"/>
<circle cx="275.2" cy="52.6" r="0.95" fill="#0c0cf2"/>
<circle cx="277.2" cy="66.3" r="0.95" fill="#0c0cf2"/>
<circle cx="278.2" cy="67.7" r="0.95" fill="#0c0cf2"/>
<circle cx="272.8" cy="61.4" r="0.95" fill="#0c0cf2"/>
<circle cx="270.6" cy="62.9" r="0.95" fill="#0c0cf2"/>
<circle cx="276.5" cy="50.0" r="0.95" fill="#0c0cf2"/>
<circle cx="275.7" cy="53.8" r="0.95" fill="#0c0cf2"/>
<circle cx="276.6" cy="68.1" r="0.95" fill="#0c0cf2"/>
<circle cx="277.2" cy="76.9" r="0.95" fill="#0c0cf2"/>
<circle cx="273.9" cy="55.9" r="0.95" fill="#0c0cf2"/>
<circle cx="273.4" cy="63.5" r="0.95" fill="#0c0cf2"/>
<circle cx="277.2" cy="70.6" r="0.95" fill="#0c0cf2"/>
<circle cx="277.0" cy="78.2" r="0.95" fill="#0c0cf2"/>
<circle cx="275.3" cy="52.6" r="0.95" fill="#0c0cf2"/>
<circle cx="277.2" cy="60.5" r="0.95" fill="#0c0cf2"/>
<circle cx="280.9" cy="54.6" r="0.95" fill="#0c0cf2"/>
<circle cx="274.1" cy="56.4" r="0.95" fill="#0c0cf2"/>
<circle cx="278.1" cy="56.4" r="0.95" fill="#0c0cf2"/>
<circle cx="275.6" cy="52.0" r="0.95" fill="#0c0cf2"/>
<circle cx="278.9" cy="44.6" r="0.95" fill="#0c0cf2"/>
<circle cx="276.1" cy="63.1" r="0.95" fill="#0c0cf2"/>
<circle cx="275.7" cy="61.7" r="0.95" fill="#0c0cf2"/>
<circle cx="273.6" cy="65.6" r="0.95" fill="#0c0cf2"/>
<circle cx="273.1" cy="49.0" r="0.95" fill="#0c0cf2"/>
<circle cx="277.4" cy="51.2" r="0.95" fill="#0c0cf2"/>
<circle cx="271.3" cy="59.2" r="0.95" fill="#0c0cf2"/>
<circle cx="275.8" cy="71.0" r="0.95" fill="#0c0cf2"/>
<circle cx="279.8" cy="56.5" r="0.95" fill="#0c0cf2"/>
<circle cx="272.6" cy="50.3" r="0.95" fill="#0c0cf2"/>
<circle cx="272.3" cy="59.2" r="0.95" fill="#0c0cf2"/>
<circle cx="276.0" cy="73.3" r="0.95" fill="#0c0cf2"/>
<circle cx="275.7" cy="66.6" r="0.95" fill="#0c0cf2"/>
<circle cx="277.9" cy="68.2" r="0.95" fill="#0c0cf2"/>
<circle cx="280.1" cy="55.1" r="0.95" fill="#0c0cf2"/>
<circle cx="277.5" cy="51.9" r="0.95" fill="#0c0cf2"/>
<circle cx="275.6" cy="66.7" r="0.95" fill="#0c0cf2"/>
<circle cx="279.2" cy="63.7" r="0.95" fill="#0c0cf2"/>
<circle cx="274.6" cy="65.9" r="0.95" fill="#0c0cf2"/>
<circle cx="274.8" cy="54.6" r="0.95" fill="#0c0cf2"/>
<circle cx="275.0" cy="52.3" r="0.95" fill="#0c0cf2"/>
<circle cx="280.3" cy="51.3" r="0.95" fill="#0c0cf2"/>
<circle cx="277.3" cy="66.8" r="0.95" fill="#0c0cf2"/>
<circle cx="278.2" cy="69.6" r="0.95" fill="#0c0cf2"/>
<circle cx="277.7" cy="54.1" r="0.95" fill="#0c0cf2"/>
<circle cx="278.5" cy="66.7" r="0.95" fill="#0c0cf2"/>
<circle cx="279.9" cy="54.4" r="0.95" fill="#0c0cf2"/>
<circle cx="278.7" cy="55.9" r="0.95" fill="#0c0cf2"/>
<circle cx="282.1" cy="58.7" r="0.95" fill="#0c0cf2"/>
<circle cx="275.9" cy="50.9" r="0.95" fill="#0c0cf2"/>
<circle cx="272.7" cy="52.0" r="0.95" fill="#0c0cf2"/>
<circle cx="279.4" cy="51.7" r="0.95" fill="#0c0cf2"/>
<circle cx="279.8" cy="51.9" r="0.95" fill="#0c0cf2"/>
<circle cx="278.4" cy="57.5" r="0.95" fill="#0c0cf2"/>
<circle cx="277.4" cy="47.7" r="0.95" fill="#0c0cf2"/>
<circle cx="280.6" cy="63.5" r="0.95" fill="#0c0cf2"/>
<circle cx="281.6" cy="49.7" r="0.95" fill="#0c0cf2"/>
<circle cx="280.6" cy="56.0" r="0.95" fill="#0c0cf2"/>
<circle cx="283.1" cy="60.4" r="0.95" fill="#0c0cf2"/>
<circle cx="276.7" cy="48.9" r="0.95" fill="#0c0cf2"/>
<circle cx="279.8" cy="55.1" r="0.95" fill="#0c0cf2"/>
<circle cx="278.4" cy="58.7" r="0.95" fill="#0c0cf2"/>
<circle cx="270.6" cy="58.2" r="0.95" fill="#0c0cf2"/>
<circle cx="278.1" cy="67.8" r="0.95" fill="#0c0cf2"/>
<circle cx="275.4" cy="63.8" r="0.95" fill="#0c0cf2"/>
<circle cx="276.8" cy="48.3" r="0.95" fill="#0c0cf2"/>
<circle cx="272.6" cy="65.1" r="0.95" fill="#0c0cf2"/>
<circle cx="276.8" cy="58.3" r="0.95" fill="#0c0cf2"/>
<circle cx="272.5" cy="61.3" r="0.95" fill="#0c0cf2"/>
<circle cx="274.0" cy="49.4" r="0.95" fill="#0c0cf2"/>
<circle cx="279.5" cy="56.5" r="0.95" fill="#0c0cf2"/>
<circle cx="282.5" cy="61.6" r="0.95" fill="#0c0cf2"/>
<circle cx="281.2" cy="64.2" r="0.95" fill="#0c0cf2"/>
<circle cx="278.1" cy="64.2" r="0.95" fill="#0c0cf2"/>
<circle cx="281.4" cy="50.7" r="0.95" fill="#0c0cf2"/>
<circle cx="273.6" cy="65.1" r="0.95" fill="#0c0cf2"/>
<circle cx="273.5" cy="58.8" r="0.95" fill="#0c0cf2"/>
<circle cx="271.3" cy="60.8" r="0.95" fill="#0c0cf2"/>
<circle cx="277.0" cy="65.9" r="0.95" fill="#0c0cf2"/>
<circle cx="280.8" cy="55.1" r="0.95" fill="#0c0cf2"/>
<circle cx="278.2" cy="69.3" r="0.95" fill="#0c0cf2"/>
<circle cx="279.0" cy="67.3" r="0.95" fill="#0c0cf2"/>
<circle cx="275.6" cy="64.4" r="0.95" fill="#0c0cf2"/>
<circle cx="282.1" cy="54.4" r="0.95" fill="#0c0cf2"/>
<circle cx="276.5" cy="57.7" r="0.95" fill="#0c0cf2"/>
<circle cx="279.0" cy="49.7" r="0.95" fill="#0c0cf2"/>
<circle cx="278.3" cy="63.1" r="0.95" fill="#0c0cf2"/>
<circle cx="278.0" cy="67.7" r="0.95" fill="#0c0cf2"/>
<circle cx="273.9" cy="49.3" r="0.95" fill="#0c0cf2"/>
<circle cx="281.2" cy="62.9" r="0.95" fill="#0c0cf2"/>
<circle cx="276.7" cy="83.5" r="0.95" fill="#0c0cf2"/>
<circle cx="276.6" cy="87.0" r="0.95" fill="#0c0cf2"/>
<circle cx="299.2" cy="58.9" r="0.95" fill="#f20c0c"/>
<circle cx="300.6" cy="43.3" r="0.95" fill="#f20c0c"/>
<circle cx="296.5" cy="37.0" r="0.95" fill="#f20c0c"/>
<circle cx="297.6" cy="68.1" r="0.95" fill="#f20c0c"/>
<circle cx="294.7" cy="68.9" r="0.95" fill="#f20c0c"/>
<circle cx="301.6" cy="46.5" r="0.95" fill="#f20c0c"/>
<circle cx="295.7" cy="56.4" r="0.95" fill="#f20c0c"/>
<circle cx="298.1" cy="33.9" r="0.95" fill="#f20c0c"/>
<circle cx="301.0" cy="49.9" r="0.95" fill="#f20c0c"/>
<circle cx="300.3" cy="58.6" r="0.95" fill="#f20c0c"/>
<circle cx="293.0" cy="48.9" r="0.95" fill="#f20c0c"/>
<circle cx="299.9" cy="62.4" r="0.95" fill="#f20c0c"/>
<circle cx="294.8" cy="67.7" r="0.95" fill="#f20c0c"/>
<circle cx="298.5" cy="42.0" r="0.95" fill="#f20c0c"/>
<circle cx="291.8" cy="58.2" r="0.95" fill="#f20c0c"/>
<circle cx="294.1" cy="49.3" r="0.95" fill="#f20c0c"/>
<circle cx="295.6" cy="43.6" r="0.95" fill="#f20c0c"/>
<circle cx="300.9" cy="48.5" r="0.95" fill="#f20c0c"/>
<circle cx="296.1" cy="52.2" r="0.95" fill="#f20c0c"/>
<circle cx="296.0" cy="66.6" r="0.95" fill="#f20c0c"/>
<circle cx="295.1" cy="60.6" r="0.95" fill="#f20c0c"/>
<circle cx="296.9" cy="32.0" r="0.95" fill="#f20c0c"/>
<circle cx="298.9" cy="38.0" r="0.95" fill="#f20c0c"/>
<circle cx="296.0" cy="72.3" r="0.95" fill="#f20c0c"/>
<circle cx="293.2" cy="54.5" r="0.95" fill="#f20c0c"/>
<circle cx="297.5" cy="55.8" r="0.95" fill="#f20c0c"/>
<circle cx="295.1" cy="48.7" r="0.95" fill="#f20c0c"/>
<circle cx="298.2" cy="63.5" r="0.95" fill="#f20c0c"/>
<circle cx="294.3" cy="54.4" r="0.95" fill="#f20c0c"/>
<circle cx="295.7" cy="55.3" r="0.95" fill="#f20c0c"/>
<circle cx="298.4" cy="45.7" r="0.95" fill="#f20c0c"/>
<circle cx="296.4" cy="61.1" r="0.95" fill="#f20c0c"/>
<circle cx="301.0" cy="44.7" r="0.95" fill="#f20c0c"/>
<circle cx="295.7" cy="42.2" r="0.95" fill="#f20c0c"/>
<circle cx="292.0" cy="55.7" r="0.95" fill="#f20c0c"/>
<circle cx="296.6" cy="63.6" r="0.95" fill="#f20c0c"/>
<circle cx="301.6" cy="47.0" r="0.95" fill="#f20c0c"/>
<circle cx="303.2" cy="47.3" r="0.95" fill="#f20c0c"/>
<circle cx="293.3" cy="42.7" r="0.95" fill="#f20c0c"/>
<circle cx="300.7" cy="55.6" r="0.95" fill="#f20c0c"/>
<circle cx="297.6" cy="60.8" r="0.95" fill="#f20c0c"/>
<circle cx="294.9" cy="41.9" r="0.95" fill="#f20c0c"/>
<circle cx="294.4" cy="53.6" r="0.95" fill="#f20c0c"/>
<circle cx="294.4" cy="53.8" r="0.95" fill="#f20c0c"/>
<circle cx="299.7" cy="40.9" r="0.95" fill="#f20c0c"/>
<circle cx="298.4" cy="53.6" r="0.95" fill="#f20c0c"/>
<circle cx="291.7" cy="46.3" r="0.95" fill="#f20c0c"/>
<circle cx="295.4" cy="44.4" r="0.95" fill="#f20c0c"/>
<circle cx="296.6" cy="71.6" r="0.95" fill="#f20c0c"/>
<circle cx="298.3" cy="40.1" r="0.95" fill="#f20c0c"/>
<circle cx="291.6" cy="48.4" r="0.95" fill="#f20c0c"/>
<circle cx="292.3" cy="56.0" r="0.95" fill="#f20c0c"/>
<circle cx="293.1" cy="50.1" r="0.95" fill="#f20c0c"/>
<circle cx="297.1" cy="33.8" r="0.95" fill="#f20c0c"/>
<circle cx="296.0" cy="65.2" r="0.95" fill="#f20c0c"/>
<circle cx="299.5" cy="45.4" r="0.95" fill="#f20c0c"/>
<circle cx="303.9" cy="50.2" r="0.95" fill="#f20c0c"/>
<circle cx="300.2" cy="67.3" r="0.95" fill="#f20c0c"/>
<circle cx="294.6" cy="70.2" r="0.95" fill="#f20c0c"/>
<circle cx="300.1" cy="67.4" r="0.95" fill="#f20c0c"/>
<circle cx="301.8" cy="50.2" r="0.95" fill="#f20c0c"/>
<circle cx="293.3" cy="59.9" r="0.95" fill="#f20c0c"/>
<circle cx="296.0" cy="64.2" r="0.95" fill="#f20c0c"/>
<circle cx="300.3" cy="44.1" r="0.95" fill="#f20c0c"/>
<circle cx="299.7" cy="70.2" r="0.95" fill="#f20c0c"/>
<circle cx="296.2" cy="40.6" r="0.95" fill="#f20c0c"/>
<circle cx="294.3" cy="57.3" r="0.95" fill="#f20c0c"/>
<circle cx="296.2" cy="45.5" r="0.95" fill="#f20c0c"/>
<circle cx="293.4" cy="44.7" r="0.95" fill="#f20c0c"/>
<circle cx="300.5" cy="42.1" r="0.95" fill="#f20c0c"/>
<circle cx="296.7" cy="68.9" r="0.95" fill="#f20c0c"/>
<circle cx="300.9" cy="41.9" r="0.95" fill="#f20c0c"/>
<circle cx="300.7" cy="67.3" r="0.95" fill="#f20c0c"/>
<circle cx="298.4" cy="43.1" r="0.95" fill="#f20c0c"/>
<circle cx="294.0" cy="48.0" r="0.95" fill="#f20c0c"/>
<circle cx="298.5" cy="44.6" r="0.95" fill="#f20c0c"/>
<circle cx="298.0" cy="71.6" r="0.95" fill="#f20c0c"/>
<circle cx="295.0" cy="40.3" r="0.95" fill="#f20c0c"/>
<circle cx="298.0" cy="64.8" r="0.95" fill="#f20c0c"/>
<circle cx="294.8" cy="47.2" r="0.95" fill="#f20c0c"/>
<circle cx="298.6" cy="69.4" r="0.95" fill="#f20c0c"/>
<circle cx="301.2" cy="60.2" r="0.95" fill="#f20c0c"/>
<circle cx="295.3" cy="46.3" r="0.95" fill="#f20c0c"/>
<circle cx="300.0" cy="53.1" r="0.95" fill="#f20c0c"/>
<circle cx="301.9" cy="42.9" r="0.95" fill="#f20c0c"/>
<circle cx="299.6" cy="50.1" r="0.95" fill="#f20c0c"/>
<circle cx="298.1" cy="35.0" r="0.95" fill="#f20c0c"/>
<circle cx="303.5" cy="57.9" r="0.95" fill="#f20c0c"/>
<circle cx="291.1" cy="55.3" r="0.95" fill="#f20c0c"/>
<circle cx="298.1" cy="46.3" r="0.95" fill="#f20c0c"/>
<circle cx="296.5" cy="33.2" r="0.95" fill="#f20c0c"/>
<circle cx="297.8" cy="68.7" r="0.95" fill="#f20c0c"/>
<circle cx="299.5" cy="41.6" r="0.95" fill="#f20c0c"/>
<circle cx="302.1" cy="47.9" r="0.95" fill="#f20c0c"/>
<circle cx="297.2" cy="34.9" r="0.95" fill="#f20c0c"/>
<circle cx="293.4" cy="49.5" r="0.95" fill="#f20c0c"/>
<circle cx="295.3" cy="50.0" r="0.95" fill="#f20c0c"/>
<circle cx="293.0" cy="53.7" r="0.95" fill="#f20c0c"/>
<circle cx="292.2" cy="47.8" r="0.95" fill="#f20c0c"/>
<circle cx="297.8" cy="45.8" r="0.95" fill="#f20c0c"/>
<circle cx="295.7" cy="61.4" r="0.95" fill="#f20c0c"/>
<circle cx="292.9" cy="46.5" r="0.95" fill="#f20c0c"/>
<circle cx="293.1" cy="48.2" r="0.95" fill="#f20c0c"/>
<circle cx="299.9" cy="52.4" r="0.95" fill="#f20c0c"/>
<circle cx="299.4" cy="46.5" r="0.95" fill="#f20c0c"/>
<circle cx="297.2" cy="59.2" r="0.95" fill="#f20c0c"/>
<circle cx="296.8" cy="39.7" r="0.95" fill="#f20c0c"/>
<circle cx="295.2" cy="47.8" r="0.95" fill="#f20c0c"/>
<circle cx="293.8" cy="50.7" r="0.95" fill="#f20c0c"/>
<circle cx="295.3" cy="45.9" r="0.95" fill="#f20c0c"/>
<circle cx="299.8" cy="64.0" r="0.95" fill="#f20c0c"/>
<circle cx="295.4" cy="48.7" r="0.95" fill="#f20c0c"/>
<circle cx="301.6" cy="50.6" r="0.95" fill="#f20c0c"/>
<circle cx="299.4" cy="51.9" r="0.95" fill="#f20c0c"/>
<circle cx="296.4" cy="63.5" r="0.95" fill="#f20c0c"/>
<circle cx="298.5" cy="44.7" r="0.95" fill="#f20c0c"/>
<circle cx="296.2" cy="63.3" r="0.95" fill="#f20c0c"/>
<circle cx="300.4" cy="69.2" r="0.95" fill="#f20c0c"/>
<circle cx="291.9" cy="46.2" r="0.95" fill="#f20c0c"/>
<circle cx="302.1" cy="43.3" r="0.95" fill="#f20c0c"/>
<circle cx="298.4" cy="61.5" r="0.95" fill="#f20c0c"/>
<circle cx="297.9" cy="47.4" r="0.95" fill="#f20c0c"/>
<circle cx="299.1" cy="45.0" r="0.95" fill="#f20c0c"/>
<circle cx="298.1" cy="39.4" r="0.95" fill="#f20c0c"/>
<circle cx="291.6" cy="55.9" r="0.95" fill="#f20c0c"/>
<circle cx="295.6" cy="68.6" r="0.95" fill="#f20c0c"/>
<circle cx="295.1" cy="65.8" r="0.95" fill="#f20c0c"/>
<circle cx="296.4" cy="55.2" r="0.95" fill="#f20c0c"/>
<circle cx="297.2" cy="51.2" r="0.95" fill="#f20c0c"/>
<circle cx="298.2" cy="70.8" r="0.95" fill="#f20c0c"/>
<circle cx="298.3" cy="57.3" r="0.95" fill="#f20c0c"/>
<circle cx="296.9" cy="69.5" r="0.95" fill="#f20c0c"/>
<circle cx="298.6" cy="57.9" r="0.95" fill="#f20c0c"/>
<circle cx="297.7" cy="58.1" r="0.95" fill="#f20c0c"/>
<circle cx="301.7" cy="58.3" r="0.95" fill="#f20c0c"/>
<circle cx="298.6" cy="41.6" r="0.95" fill="#f20c0c"/>
<circle cx="294.4" cy="45.9" r="0.95" fill="#f20c0c"/>
<circle cx="296.4" cy="38.6" r="0.95" fill="#f20c0c"/>
<circle cx="295.5" cy="68.4" r="0.95" fill="#f20c0c"/>
<circle cx="297.7" cy="72.1" r="0.95" fill="#f20c0c"/>
<circle cx="293.2" cy="55.6" r="0.95" fill="#f20c0c"/>
<circle cx="300.3" cy="42.7" r="0.95" fill="#f20c0c"/>
<circle cx="296.9" cy="41.6" r="0.95" fill="#f20c0c"/>
<circle cx="301.3" cy="51.3" r="0.95" fill="#f20c0c"/>
<circle cx="297.4" cy="49.8" r="0.95" fill="#f20c0c"/>
<circle cx="297.4" cy="44.1" r="0.95" fill="#f20c0c"/>
<circle cx="297.7" cy="40.2" r="0.95" fill="#f20c0c"/>
<circle cx="302.3" cy="56.9" r="0.95" fill="#f20c0c"/>
<circle cx="293.5" cy="61.6" r="0.95" fill="#f20c0c"/>
<circle cx="299.3" cy="38.6" r="0.95" fill="#f20c0c"/>
<circle cx="291.1" cy="47.3" r="0.95" fill="#f20c0c"/>
<circle cx="298.2" cy="47.1" r="0.95" fill="#f20c0c"/>
<circle cx="298.0" cy="53.8" r="0.95" fill="#f20c0c"/>
<circle cx="290.8" cy="55.7" r="0.95" fill="#f20c0c"/>
<circle cx="293.9" cy="50.4" r="0.95" fill="#f20c0c"/>
<circle cx="296.2" cy="65.2" r="0.95" fill="#f20c0c"/>
<circle cx="295.9" cy="49.7" r="0.95" fill="#f20c0c"/>
<circle cx="296.3" cy="47.2" r="0.95" fill="#f20c0c"/>
<circle cx="295.9" cy="60.6" r="0.95" fill="#f20c0c"/>
<circle cx="296.0" cy="63.8" r="0.95" fill="#f20c0c"/>
<circle cx="300.6" cy="65.8" r="0.95" fill="#f20c0c"/>
<circle cx="301.2" cy="43.2" r="0.95" fill="#f20c0c"/>
<circle cx="292.4" cy="44.2" r="0.95" fill="#f20c0c"/>
<circle cx="302.3" cy="51.6" r="0.95" fill="#f20c0c"/>
<circle cx="294.9" cy="70.2" r="0.95" fill="#f20c0c"/>
<circle cx="299.9" cy="56.2" r="0.95" fill="#f20c0c"/>
<circle cx="297.2" cy="56.4" r="0.95" fill="#f20c0c"/>
<circle cx="294.9" cy="47.9" r="0.95" fill="#f20c0c"/>
<circle cx="297.7" cy="71.8" r="0.95" fill="#f20c0c"/>
<circle cx="292.3" cy="43.9" r="0.95" fill="#f20c0c"/>
<circle cx="297.2" cy="78.8" r="0.95" fill="#f20c0c"/>
<circle cx="297.3" cy="81.7" r="0.95" fill="#f20c0c"/>
<line x1="262.80" y1="18.02" x2="262.80" y2="93.40" stroke="#444" stroke-width="1.4" />
<line x1="262.20" y1="92.80" x2="312.00" y2="92.80" stroke="#444" stroke-width="1.4" />
<line x1="260.50" y1="92.80" x2="262.80" y2="92.80" stroke="#444" stroke-width="0.9" />
<text x="259.50" y="94.75" font-size="5.4" font-weight="bold" text-anchor="end" fill="#333" stroke="#333" stroke-width="0.3" >8</text>
<line x1="260.50" y1="68.04" x2="262.80" y2="68.04" stroke="#444" stroke-width="0.9" />
<text x="259.50" y="69.99" font-size="5.4" font-weight="bold" text-anchor="end" fill="#333" stroke="#333" stroke-width="0.3" >10</text>
<line x1="260.50" y1="43.28" x2="262.80" y2="43.28" stroke="#444" stroke-width="0.9" />
<text x="259.50" y="45.23" font-size="5.4" font-weight="bold" text-anchor="end" fill="#333" stroke="#333" stroke-width="0.3" >12</text>
<line x1="260.50" y1="18.52" x2="262.80" y2="18.52" stroke="#444" stroke-width="0.9" />
<text x="259.50" y="20.47" font-size="5.4" font-weight="bold" text-anchor="end" fill="#333" stroke="#333" stroke-width="0.3" >14</text>
<line x1="276.35" y1="92.80" x2="276.35" y2="95.10" stroke="#444" stroke-width="0.9" />
<line x1="297.35" y1="92.80" x2="297.35" y2="95.10" stroke="#444" stroke-width="0.9" />
<text x="250.00" y="56.50" font-size="7.4" font-weight="bold" text-anchor="middle" fill="#111" stroke="#111" stroke-width="0.4" textLength="19.3" lengthAdjust="spacingAndGlyphs" transform="rotate(-90 250.00 56.50)" >CD47</text>
<text x="275.30" y="21.00" font-size="5.4" font-weight="bold" text-anchor="start" fill="#222" stroke="#222" stroke-width="0.3" textLength="26.3" lengthAdjust="spacingAndGlyphs" >p=1.99x10</text>
<text x="302.10" y="19.30" font-size="2.9" font-weight="bold" text-anchor="start" fill="#555" stroke="#555" stroke-width="0.1" >-6</text>
<line x1="272.50" y1="22.60" x2="305.50" y2="22.60" stroke="#c8c8c8" stroke-width="1.0" />
<text x="272.50" y="103.70" font-size="6.6" font-weight="normal" text-anchor="middle" fill="#222" stroke="#222" stroke-width="0.22" textLength="28.4" lengthAdjust="spacingAndGlyphs" >Non-Basal</text>
<text x="272.50" y="109.70" font-size="6.6" font-weight="normal" text-anchor="middle" fill="#222" stroke="#222" stroke-width="0.22" textLength="21" lengthAdjust="spacingAndGlyphs" >(n=489)</text>
<text x="299.50" y="103.70" font-size="6.6" font-weight="normal" text-anchor="middle" fill="#222" stroke="#222" stroke-width="0.22" textLength="15.5" lengthAdjust="spacingAndGlyphs" >Basal</text>
<text x="299.50" y="109.70" font-size="6.6" font-weight="normal" text-anchor="middle" fill="#222" stroke="#222" stroke-width="0.22" textLength="21" lengthAdjust="spacingAndGlyphs" >(n=170)</text>
<rect x="355.30" y="48.60" width="14.20" height="49.00" fill="#d3d3d3" stroke="#bdbdbd" stroke-width="0.6"/>
<rect x="376.00" y="45.66" width="14.80" height="51.94" fill="#d3d3d3" stroke="#bdbdbd" stroke-width="0.6"/>
<circle cx="368.2" cy="47.6" r="0.95" fill="#0c0cf2"/>
<circle cx="360.0" cy="47.2" r="0.95" fill="#0c0cf2"/>
<circle cx="363.5" cy="44.1" r="0.95" fill="#0c0cf2"/>
<circle cx="359.0" cy="50.1" r="0.95" fill="#0c0cf2"/>
<circle cx="362.4" cy="61.1" r="0.95" fill="#0c0cf2"/>
<circle cx="361.2" cy="46.4" r="0.95" fill="#0c0cf2"/>
<circle cx="365.9" cy="51.9" r="0.95" fill="#0c0cf2"/>
<circle cx="364.0" cy="56.5" r="0.95" fill="#0c0cf2"/>
<circle cx="359.6" cy="46.2" r="0.95" fill="#0c0cf2"/>
<circle cx="362.0" cy="57.1" r="0.95" fill="#0c0cf2"/>
<circle cx="359.9" cy="52.3" r="0.95" fill="#0c0cf2"/>
<circle cx="360.1" cy="50.7" r="0.95" fill="#0c0cf2"/>
<circle cx="361.8" cy="45.5" r="0.95" fill="#0c0cf2"/>
<circle cx="356.6" cy="46.5" r="0.95" fill="#0c0cf2"/>
<circle cx="367.7" cy="44.1" r="0.95" fill="#0c0cf2"/>
<circle cx="361.0" cy="56.1" r="0.95" fill="#0c0cf2"/>
<circle cx="361.2" cy="53.6" r="0.95" fill="#0c0cf2"/>
<circle cx="363.7" cy="43.9" r="0.95" fill="#0c0cf2"/>
<circle cx="358.4" cy="49.4" r="0.95" fill="#0c0cf2"/>
<circle cx="361.9" cy="45.6" r="0.95" fill="#0c0cf2"/>
<circle cx="359.3" cy="52.8" r="0.95" fill="#0c0cf2"/>
<circle cx="363.3" cy="49.8" r="0.95" fill="#0c0cf2"/>
<circle cx="363.2" cy="58.4" r="0.95" fill="#0c0cf2"/>
<circle cx="361.0" cy="52.1" r="0.95" fill="#0c0cf2"/>
<circle cx="359.5" cy="44.3" r="0.95" fill="#0c0cf2"/>
<circle cx="358.7" cy="47.6" r="0.95" fill="#0c0cf2"/>
<circle cx="356.9" cy="49.7" r="0.95" fill="#0c0cf2"/>
<circle cx="361.2" cy="56.8" r="0.95" fill="#0c0cf2"/>
<circle cx="364.2" cy="47.6" r="0.95" fill="#0c0cf2"/>
<circle cx="364.1" cy="45.3" r="0.95" fill="#0c0cf2"/>
<circle cx="367.6" cy="46.4" r="0.95" fill="#0c0cf2"/>
<circle cx="361.6" cy="46.1" r="0.95" fill="#0c0cf2"/>
<circle cx="358.1" cy="44.8" r="0.95" fill="#0c0cf2"/>
<circle cx="360.5" cy="47.1" r="0.95" fill="#0c0cf2"/>
<circle cx="368.0" cy="45.9" r="0.95" fill="#0c0cf2"/>
<circle cx="363.0" cy="49.0" r="0.95" fill="#0c0cf2"/>
<circle cx="362.7" cy="56.0" r="0.95" fill="#0c0cf2"/>
<circle cx="361.8" cy="59.1" r="0.95" fill="#0c0cf2"/>
<circle cx="358.3" cy="45.1" r="0.95" fill="#0c0cf2"/>
<circle cx="365.6" cy="49.7" r="0.95" fill="#0c0cf2"/>
<circle cx="366.5" cy="51.1" r="0.95" fill="#0c0cf2"/>
<circle cx="360.2" cy="44.8" r="0.95" fill="#0c0cf2"/>
<circle cx="367.2" cy="49.4" r="0.95" fill="#0c0cf2"/>
<circle cx="359.8" cy="45.5" r="0.95" fill="#0c0cf2"/>
<circle cx="361.3" cy="47.4" r="0.95" fill="#0c0cf2"/>
<circle cx="358.9" cy="47.0" r="0.95" fill="#0c0cf2"/>
<circle cx="363.7" cy="53.8" r="0.95" fill="#0c0cf2"/>
<circle cx="360.1" cy="45.7" r="0.95" fill="#0c0cf2"/>
<circle cx="368.1" cy="49.4" r="0.95" fill="#0c0cf2"/>
<circle cx="364.0" cy="50.0" r="0.95" fill="#0c0cf2"/>
<circle cx="361.1" cy="47.1" r="0.95" fill="#0c0cf2"/>
<circle cx="362.1" cy="57.8" r="0.95" fill="#0c0cf2"/>
<circle cx="357.2" cy="46.9" r="0.95" fill="#0c0cf2"/>
<circle cx="360.9" cy="47.0" r="0.95" fill="#0c0cf2"/>
<circle cx="362.8" cy="51.5" r="0.95" fill="#0c0cf2"/>
<circle cx="360.6" cy="48.9" r="0.95" fill="#0c0cf2"/>
<circle cx="364.3" cy="52.0" r="0.95" fill="#0c0cf2"/>
<circle cx="362.4" cy="44.8" r="0.95" fill="#0c0cf2"/>
<circle cx="367.8" cy="44.9" r="0.95" fill="#0c0cf2"/>
<circle cx="358.7" cy="52.1" r="0.95" fill="#0c0cf2"/>
<circle cx="361.8" cy="47.8" r="0.95" fill="#0c0cf2"/>
<circle cx="363.6" cy="55.0" r="0.95" fill="#0c0cf2"/>
<circle cx="367.0" cy="45.8" r="0.95" fill="#0c0cf2"/>
<circle cx="365.3" cy="45.9" r="0.95" fill="#0c0cf2"/>
<circle cx="362.8" cy="55.2" r="0.95" fill="#0c0cf2"/>
<circle cx="361.1" cy="47.5" r="0.95" fill="#0c0cf2"/>
<circle cx="364.2" cy="44.3" r="0.95" fill="#0c0cf2"/>
<circle cx="365.2" cy="45.6" r="0.95" fill="#0c0cf2"/>
<circle cx="364.3" cy="52.7" r="0.95" fill="#0c0cf2"/>
<circle cx="363.4" cy="46.3" r="0.95" fill="#0c0cf2"/>
<circle cx="366.2" cy="49.8" r="0.95" fill="#0c0cf2"/>
<circle cx="360.2" cy="54.4" r="0.95" fill="#0c0cf2"/>
<circle cx="364.2" cy="50.1" r="0.95" fill="#0c0cf2"/>
<circle cx="365.5" cy="52.4" r="0.95" fill="#0c0cf2"/>
<circle cx="362.8" cy="60.5" r="0.95" fill="#0c0cf2"/>
<circle cx="364.2" cy="46.5" r="0.95" fill="#0c0cf2"/>
<circle cx="363.9" cy="55.6" r="0.95" fill="#0c0cf2"/>
<circle cx="362.3" cy="49.6" r="0.95" fill="#0c0cf2"/>
<circle cx="360.5" cy="45.4" r="0.95" fill="#0c0cf2"/>
<circle cx="368.2" cy="44.6" r="0.95" fill="#0c0cf2"/>
<circle cx="360.0" cy="47.1" r="0.95" fill="#0c0cf2"/>
<circle cx="368.1" cy="44.7" r="0.95" fill="#0c0cf2"/>
<circle cx="365.1" cy="52.7" r="0.95" fill="#0c0cf2"/>
<circle cx="367.5" cy="49.7" r="0.95" fill="#0c0cf2"/>
<circle cx="366.3" cy="43.3" r="0.95" fill="#0c0cf2"/>
<circle cx="361.5" cy="55.7" r="0.95" fill="#0c0cf2"/>
<circle cx="357.3" cy="50.1" r="0.95" fill="#0c0cf2"/>
<circle cx="365.3" cy="48.3" r="0.95" fill="#0c0cf2"/>
<circle cx="366.9" cy="44.8" r="0.95" fill="#0c0cf2"/>
<circle cx="357.4" cy="48.5" r="0.95" fill="#0c0cf2"/>
<circle cx="361.3" cy="57.2" r="0.95" fill="#0c0cf2"/>
<circle cx="359.1" cy="49.9" r="0.95" fill="#0c0cf2"/>
<circle cx="361.7" cy="48.6" r="0.95" fill="#0c0cf2"/>
<circle cx="364.6" cy="50.3" r="0.95" fill="#0c0cf2"/>
<circle cx="366.2" cy="49.7" r="0.95" fill="#0c0cf2"/>
<circle cx="359.9" cy="50.6" r="0.95" fill="#0c0cf2"/>
<circle cx="364.1" cy="45.4" r="0.95" fill="#0c0cf2"/>
<circle cx="366.0" cy="44.8" r="0.95" fill="#0c0cf2"/>
<circle cx="360.9" cy="42.9" r="0.95" fill="#0c0cf2"/>
<circle cx="363.8" cy="54.0" r="0.95" fill="#0c0cf2"/>
<circle cx="360.9" cy="42.7" r="0.95" fill="#0c0cf2"/>
<circle cx="356.3" cy="46.0" r="0.95" fill="#0c0cf2"/>
<circle cx="359.6" cy="49.9" r="0.95" fill="#0c0cf2"/>
<circle cx="356.6" cy="48.9" r="0.95" fill="#0c0cf2"/>
<circle cx="362.0" cy="56.3" r="0.95" fill="#0c0cf2"/>
<circle cx="358.8" cy="45.5" r="0.95" fill="#0c0cf2"/>
<circle cx="366.8" cy="44.4" r="0.95" fill="#0c0cf2"/>
<circle cx="361.3" cy="45.0" r="0.95" fill="#0c0cf2"/>
<circle cx="359.5" cy="48.8" r="0.95" fill="#0c0cf2"/>
<circle cx="361.3" cy="46.6" r="0.95" fill="#0c0cf2"/>
<circle cx="365.6" cy="48.5" r="0.95" fill="#0c0cf2"/>
<circle cx="366.1" cy="51.4" r="0.95" fill="#0c0cf2"/>
<circle cx="359.8" cy="46.7" r="0.95" fill="#0c0cf2"/>
<circle cx="362.7" cy="50.9" r="0.95" fill="#0c0cf2"/>
<circle cx="360.5" cy="43.0" r="0.95" fill="#0c0cf2"/>
<circle cx="362.0" cy="49.4" r="0.95" fill="#0c0cf2"/>
<circle cx="361.6" cy="56.6" r="0.95" fill="#0c0cf2"/>
<circle cx="363.5" cy="57.9" r="0.95" fill="#0c0cf2"/>
<circle cx="365.2" cy="49.8" r="0.95" fill="#0c0cf2"/>
<circle cx="362.4" cy="61.0" r="0.95" fill="#0c0cf2"/>
<circle cx="358.4" cy="45.8" r="0.95" fill="#0c0cf2"/>
<circle cx="361.6" cy="46.7" r="0.95" fill="#0c0cf2"/>
<circle cx="368.9" cy="48.3" r="0.95" fill="#0c0cf2"/>
<circle cx="359.4" cy="49.2" r="0.95" fill="#0c0cf2"/>
<circle cx="362.9" cy="53.8" r="0.95" fill="#0c0cf2"/>
<circle cx="361.5" cy="48.3" r="0.95" fill="#0c0cf2"/>
<circle cx="365.4" cy="43.4" r="0.95" fill="#0c0cf2"/>
<circle cx="367.4" cy="51.4" r="0.95" fill="#0c0cf2"/>
<circle cx="360.3" cy="45.6" r="0.95" fill="#0c0cf2"/>
<circle cx="364.1" cy="55.6" r="0.95" fill="#0c0cf2"/>
<circle cx="357.0" cy="45.7" r="0.95" fill="#0c0cf2"/>
<circle cx="361.1" cy="46.6" r="0.95" fill="#0c0cf2"/>
<circle cx="360.5" cy="44.7" r="0.95" fill="#0c0cf2"/>
<circle cx="358.7" cy="46.8" r="0.95" fill="#0c0cf2"/>
<circle cx="359.6" cy="50.3" r="0.95" fill="#0c0cf2"/>
<circle cx="361.6" cy="46.3" r="0.95" fill="#0c0cf2"/>
<circle cx="362.7" cy="43.5" r="0.95" fill="#0c0cf2"/>
<circle cx="356.9" cy="50.0" r="0.95" fill="#0c0cf2"/>
<circle cx="366.7" cy="51.9" r="0.95" fill="#0c0cf2"/>
<circle cx="360.8" cy="44.2" r="0.95" fill="#0c0cf2"/>
<circle cx="364.4" cy="48.0" r="0.95" fill="#0c0cf2"/>
<circle cx="361.4" cy="43.9" r="0.95" fill="#0c0cf2"/>
<circle cx="361.3" cy="42.8" r="0.95" fill="#0c0cf2"/>
<circle cx="357.0" cy="47.4" r="0.95" fill="#0c0cf2"/>
<circle cx="360.2" cy="46.3" r="0.95" fill="#0c0cf2"/>
<circle cx="361.1" cy="55.6" r="0.95" fill="#0c0cf2"/>
<circle cx="360.2" cy="42.9" r="0.95" fill="#0c0cf2"/>
<circle cx="366.5" cy="50.6" r="0.95" fill="#0c0cf2"/>
<circle cx="359.3" cy="52.0" r="0.95" fill="#0c0cf2"/>
<circle cx="359.1" cy="48.1" r="0.95" fill="#0c0cf2"/>
<circle cx="368.3" cy="48.9" r="0.95" fill="#0c0cf2"/>
<circle cx="366.8" cy="45.9" r="0.95" fill="#0c0cf2"/>
<circle cx="363.4" cy="46.0" r="0.95" fill="#0c0cf2"/>
<circle cx="360.9" cy="43.5" r="0.95" fill="#0c0cf2"/>
<circle cx="363.7" cy="56.7" r="0.95" fill="#0c0cf2"/>
<circle cx="364.4" cy="43.0" r="0.95" fill="#0c0cf2"/>
<circle cx="360.0" cy="44.5" r="0.95" fill="#0c0cf2"/>
<circle cx="363.9" cy="51.8" r="0.95" fill="#0c0cf2"/>
<circle cx="365.8" cy="48.5" r="0.95" fill="#0c0cf2"/>
<circle cx="361.1" cy="49.2" r="0.95" fill="#0c0cf2"/>
<circle cx="356.0" cy="46.5" r="0.95" fill="#0c0cf2"/>
<circle cx="367.9" cy="44.9" r="0.95" fill="#0c0cf2"/>
<circle cx="363.2" cy="53.4" r="0.95" fill="#0c0cf2"/>
<circle cx="367.0" cy="44.6" r="0.95" fill="#0c0cf2"/>
<circle cx="363.7" cy="46.6" r="0.95" fill="#0c0cf2"/>
<circle cx="364.5" cy="52.3" r="0.95" fill="#0c0cf2"/>
<circle cx="365.2" cy="46.6" r="0.95" fill="#0c0cf2"/>
<circle cx="363.3" cy="58.8" r="0.95" fill="#0c0cf2"/>
<circle cx="366.1" cy="45.0" r="0.95" fill="#0c0cf2"/>
<circle cx="357.9" cy="49.4" r="0.95" fill="#0c0cf2"/>
<circle cx="364.4" cy="49.5" r="0.95" fill="#0c0cf2"/>
<circle cx="359.3" cy="49.0" r="0.95" fill="#0c0cf2"/>
<circle cx="360.5" cy="52.8" r="0.95" fill="#0c0cf2"/>
<circle cx="363.9" cy="43.4" r="0.95" fill="#0c0cf2"/>
<circle cx="365.2" cy="49.6" r="0.95" fill="#0c0cf2"/>
<circle cx="361.4" cy="53.1" r="0.95" fill="#0c0cf2"/>
<circle cx="367.2" cy="43.6" r="0.95" fill="#0c0cf2"/>
<circle cx="361.4" cy="49.4" r="0.95" fill="#0c0cf2"/>
<circle cx="368.8" cy="48.2" r="0.95" fill="#0c0cf2"/>
<circle cx="367.7" cy="47.7" r="0.95" fill="#0c0cf2"/>
<circle cx="360.3" cy="49.5" r="0.95" fill="#0c0cf2"/>
<circle cx="361.0" cy="50.5" r="0.95" fill="#0c0cf2"/>
<circle cx="361.8" cy="51.6" r="0.95" fill="#0c0cf2"/>
<circle cx="362.4" cy="56.4" r="0.95" fill="#0c0cf2"/>
<circle cx="363.3" cy="51.0" r="0.95" fill="#0c0cf2"/>
<circle cx="362.9" cy="62.3" r="0.95" fill="#0c0cf2"/>
<circle cx="367.0" cy="50.9" r="0.95" fill="#0c0cf2"/>
<circle cx="367.1" cy="46.4" r="0.95" fill="#0c0cf2"/>
<circle cx="364.0" cy="44.8" r="0.95" fill="#0c0cf2"/>
<circle cx="361.8" cy="43.9" r="0.95" fill="#0c0cf2"/>
<circle cx="366.1" cy="46.4" r="0.95" fill="#0c0cf2"/>
<circle cx="361.8" cy="44.5" r="0.95" fill="#0c0cf2"/>
<circle cx="358.3" cy="51.3" r="0.95" fill="#0c0cf2"/>
<circle cx="358.4" cy="51.3" r="0.95" fill="#0c0cf2"/>
<circle cx="360.7" cy="50.4" r="0.95" fill="#0c0cf2"/>
<circle cx="356.9" cy="47.7" r="0.95" fill="#0c0cf2"/>
<circle cx="366.9" cy="48.5" r="0.95" fill="#0c0cf2"/>
<circle cx="358.9" cy="46.1" r="0.95" fill="#0c0cf2"/>
<circle cx="361.8" cy="57.3" r="0.95" fill="#0c0cf2"/>
<circle cx="360.6" cy="43.0" r="0.95" fill="#0c0cf2"/>
<circle cx="362.2" cy="47.0" r="0.95" fill="#0c0cf2"/>
<circle cx="359.9" cy="50.0" r="0.95" fill="#0c0cf2"/>
<circle cx="360.0" cy="45.3" r="0.95" fill="#0c0cf2"/>
<circle cx="363.1" cy="54.8" r="0.95" fill="#0c0cf2"/>
<circle cx="364.7" cy="48.8" r="0.95" fill="#0c0cf2"/>
<circle cx="359.4" cy="47.5" r="0.95" fill="#0c0cf2"/>
<circle cx="364.7" cy="43.5" r="0.95" fill="#0c0cf2"/>
<circle cx="363.3" cy="46.5" r="0.95" fill="#0c0cf2"/>
<circle cx="368.0" cy="50.0" r="0.95" fill="#0c0cf2"/>
<circle cx="367.9" cy="46.4" r="0.95" fill="#0c0cf2"/>
<circle cx="364.3" cy="43.3" r="0.95" fill="#0c0cf2"/>
<circle cx="358.0" cy="50.0" r="0.95" fill="#0c0cf2"/>
<circle cx="359.5" cy="46.8" r="0.95" fill="#0c0cf2"/>
<circle cx="362.2" cy="54.4" r="0.95" fill="#0c0cf2"/>
<circle cx="360.3" cy="51.4" r="0.95" fill="#0c0cf2"/>
<circle cx="358.1" cy="52.0" r="0.95" fill="#0c0cf2"/>
<circle cx="361.9" cy="55.9" r="0.95" fill="#0c0cf2"/>
<circle cx="361.3" cy="53.6" r="0.95" fill="#0c0cf2"/>
<circle cx="358.6" cy="46.8" r="0.95" fill="#0c0cf2"/>
<circle cx="364.7" cy="49.7" r="0.95" fill="#0c0cf2"/>
<circle cx="365.4" cy="46.1" r="0.95" fill="#0c0cf2"/>
<circle cx="360.5" cy="45.4" r="0.95" fill="#0c0cf2"/>
<circle cx="359.1" cy="45.4" r="0.95" fill="#0c0cf2"/>
<circle cx="361.9" cy="44.5" r="0.95" fill="#0c0cf2"/>
<circle cx="358.9" cy="45.9" r="0.95" fill="#0c0cf2"/>
<circle cx="365.1" cy="45.8" r="0.95" fill="#0c0cf2"/>
<circle cx="365.7" cy="51.2" r="0.95" fill="#0c0cf2"/>
<circle cx="365.5" cy="46.0" r="0.95" fill="#0c0cf2"/>
<circle cx="364.0" cy="43.3" r="0.95" fill="#0c0cf2"/>
<circle cx="364.6" cy="48.0" r="0.95" fill="#0c0cf2"/>
<circle cx="360.6" cy="45.3" r="0.95" fill="#0c0cf2"/>
<circle cx="366.9" cy="51.4" r="0.95" fill="#0c0cf2"/>
<circle cx="358.3" cy="45.6" r="0.95" fill="#0c0cf2"/>
<circle cx="364.7" cy="49.5" r="0.95" fill="#0c0cf2"/>
<circle cx="356.4" cy="45.2" r="0.95" fill="#0c0cf2"/>
<circle cx="358.1" cy="48.7" r="0.95" fill="#0c0cf2"/>
<circle cx="361.0" cy="55.3" r="0.95" fill="#0c0cf2"/>
<circle cx="366.0" cy="46.5" r="0.95" fill="#0c0cf2"/>
<circle cx="366.1" cy="49.4" r="0.95" fill="#0c0cf2"/>
<circle cx="361.3" cy="48.1" r="0.95" fill="#0c0cf2"/>
<circle cx="366.8" cy="43.8" r="0.95" fill="#0c0cf2"/>
<circle cx="358.8" cy="43.1" r="0.95" fill="#0c0cf2"/>
<circle cx="363.8" cy="54.4" r="0.95" fill="#0c0cf2"/>
<circle cx="364.7" cy="47.1" r="0.95" fill="#0c0cf2"/>
<circle cx="367.2" cy="51.5" r="0.95" fill="#0c0cf2"/>
<circle cx="363.5" cy="48.1" r="0.95" fill="#0c0cf2"/>
<circle cx="360.8" cy="54.3" r="0.95" fill="#0c0cf2"/>
<circle cx="364.3" cy="45.3" r="0.95" fill="#0c0cf2"/>
<circle cx="367.2" cy="48.9" r="0.95" fill="#0c0cf2"/>
<circle cx="359.7" cy="49.7" r="0.95" fill="#0c0cf2"/>
<circle cx="360.4" cy="53.2" r="0.95" fill="#0c0cf2"/>
<circle cx="366.4" cy="43.2" r="0.95" fill="#0c0cf2"/>
<circle cx="361.7" cy="47.4" r="0.95" fill="#0c0cf2"/>
<circle cx="367.0" cy="48.6" r="0.95" fill="#0c0cf2"/>
<circle cx="365.9" cy="50.2" r="0.95" fill="#0c0cf2"/>
<circle cx="361.1" cy="44.6" r="0.95" fill="#0c0cf2"/>
<circle cx="368.0" cy="49.5" r="0.95" fill="#0c0cf2"/>
<circle cx="361.7" cy="51.4" r="0.95" fill="#0c0cf2"/>
<circle cx="358.1" cy="51.9" r="0.95" fill="#0c0cf2"/>
<circle cx="366.5" cy="45.6" r="0.95" fill="#0c0cf2"/>
<circle cx="362.2" cy="48.3" r="0.95" fill="#0c0cf2"/>
<circle cx="359.4" cy="46.6" r="0.95" fill="#0c0cf2"/>
<circle cx="362.3" cy="47.7" r="0.95" fill="#0c0cf2"/>
<circle cx="364.2" cy="47.2" r="0.95" fill="#0c0cf2"/>
<circle cx="361.7" cy="58.7" r="0.95" fill="#0c0cf2"/>
<circle cx="359.2" cy="43.0" r="0.95" fill="#0c0cf2"/>
<circle cx="363.4" cy="58.6" r="0.95" fill="#0c0cf2"/>
<circle cx="359.6" cy="43.3" r="0.95" fill="#0c0cf2"/>
<circle cx="363.8" cy="44.0" r="0.95" fill="#0c0cf2"/>
<circle cx="366.1" cy="45.5" r="0.95" fill="#0c0cf2"/>
<circle cx="358.9" cy="46.5" r="0.95" fill="#0c0cf2"/>
<circle cx="363.4" cy="54.9" r="0.95" fill="#0c0cf2"/>
<circle cx="362.7" cy="54.4" r="0.95" fill="#0c0cf2"/>
<circle cx="361.7" cy="58.1" r="0.95" fill="#0c0cf2"/>
<circle cx="356.3" cy="47.5" r="0.95" fill="#0c0cf2"/>
<circle cx="362.0" cy="42.9" r="0.95" fill="#0c0cf2"/>
<circle cx="368.0" cy="50.6" r="0.95" fill="#0c0cf2"/>
<circle cx="362.1" cy="56.2" r="0.95" fill="#0c0cf2"/>
<circle cx="363.1" cy="44.3" r="0.95" fill="#0c0cf2"/>
<circle cx="363.0" cy="54.2" r="0.95" fill="#0c0cf2"/>
<circle cx="363.6" cy="42.5" r="0.95" fill="#0c0cf2"/>
<circle cx="363.0" cy="52.0" r="0.95" fill="#0c0cf2"/>
<circle cx="363.3" cy="48.8" r="0.95" fill="#0c0cf2"/>
<circle cx="362.9" cy="56.7" r="0.95" fill="#0c0cf2"/>
<circle cx="362.8" cy="55.5" r="0.95" fill="#0c0cf2"/>
<circle cx="358.9" cy="43.5" r="0.95" fill="#0c0cf2"/>
<circle cx="364.1" cy="49.0" r="0.95" fill="#0c0cf2"/>
<circle cx="361.2" cy="46.0" r="0.95" fill="#0c0cf2"/>
<circle cx="368.1" cy="48.1" r="0.95" fill="#0c0cf2"/>
<circle cx="367.6" cy="43.8" r="0.95" fill="#0c0cf2"/>
<circle cx="367.6" cy="47.3" r="0.95" fill="#0c0cf2"/>
<circle cx="363.2" cy="48.0" r="0.95" fill="#0c0cf2"/>
<circle cx="364.9" cy="42.8" r="0.95" fill="#0c0cf2"/>
<circle cx="357.7" cy="48.5" r="0.95" fill="#0c0cf2"/>
<circle cx="362.6" cy="56.2" r="0.95" fill="#0c0cf2"/>
<circle cx="363.2" cy="43.7" r="0.95" fill="#0c0cf2"/>
<circle cx="363.1" cy="58.6" r="0.95" fill="#0c0cf2"/>
<circle cx="360.4" cy="48.7" r="0.95" fill="#0c0cf2"/>
<circle cx="365.8" cy="45.7" r="0.95" fill="#0c0cf2"/>
<circle cx="362.7" cy="59.9" r="0.95" fill="#0c0cf2"/>
<circle cx="362.5" cy="48.5" r="0.95" fill="#0c0cf2"/>
<circle cx="356.9" cy="48.4" r="0.95" fill="#0c0cf2"/>
<circle cx="362.3" cy="47.6" r="0.95" fill="#0c0cf2"/>
<circle cx="363.8" cy="55.8" r="0.95" fill="#0c0cf2"/>
<circle cx="364.3" cy="44.5" r="0.95" fill="#0c0cf2"/>
<circle cx="359.7" cy="45.7" r="0.95" fill="#0c0cf2"/>
<circle cx="359.3" cy="46.5" r="0.95" fill="#0c0cf2"/>
<circle cx="360.8" cy="43.6" r="0.95" fill="#0c0cf2"/>
<circle cx="364.7" cy="54.4" r="0.95" fill="#0c0cf2"/>
<circle cx="361.5" cy="48.8" r="0.95" fill="#0c0cf2"/>
<circle cx="364.9" cy="50.2" r="0.95" fill="#0c0cf2"/>
<circle cx="362.9" cy="56.0" r="0.95" fill="#0c0cf2"/>
<circle cx="357.7" cy="49.0" r="0.95" fill="#0c0cf2"/>
<circle cx="358.2" cy="46.4" r="0.95" fill="#0c0cf2"/>
<circle cx="363.7" cy="49.5" r="0.95" fill="#0c0cf2"/>
<circle cx="367.1" cy="48.8" r="0.95" fill="#0c0cf2"/>
<circle cx="362.3" cy="46.6" r="0.95" fill="#0c0cf2"/>
<circle cx="367.7" cy="45.7" r="0.95" fill="#0c0cf2"/>
<circle cx="367.4" cy="47.3" r="0.95" fill="#0c0cf2"/>
<circle cx="364.1" cy="52.0" r="0.95" fill="#0c0cf2"/>
<circle cx="363.0" cy="44.9" r="0.95" fill="#0c0cf2"/>
<circle cx="362.8" cy="62.1" r="0.95" fill="#0c0cf2"/>
<circle cx="358.2" cy="46.0" r="0.95" fill="#0c0cf2"/>
<circle cx="357.5" cy="46.4" r="0.95" fill="#0c0cf2"/>
<circle cx="360.1" cy="44.3" r="0.95" fill="#0c0cf2"/>
<circle cx="366.1" cy="47.6" r="0.95" fill="#0c0cf2"/>
<circle cx="361.0" cy="47.5" r="0.95" fill="#0c0cf2"/>
<circle cx="367.0" cy="51.3" r="0.95" fill="#0c0cf2"/>
<circle cx="363.0" cy="56.3" r="0.95" fill="#0c0cf2"/>
<circle cx="359.8" cy="46.1" r="0.95" fill="#0c0cf2"/>
<circle cx="360.6" cy="53.8" r="0.95" fill="#0c0cf2"/>
<circle cx="366.8" cy="46.6" r="0.95" fill="#0c0cf2"/>
<circle cx="360.3" cy="47.8" r="0.95" fill="#0c0cf2"/>
<circle cx="357.7" cy="44.5" r="0.95" fill="#0c0cf2"/>
<circle cx="362.0" cy="56.1" r="0.95" fill="#0c0cf2"/>
<circle cx="363.9" cy="47.3" r="0.95" fill="#0c0cf2"/>
<circle cx="359.2" cy="51.5" r="0.95" fill="#0c0cf2"/>
<circle cx="361.7" cy="43.2" r="0.95" fill="#0c0cf2"/>
<circle cx="366.4" cy="51.3" r="0.95" fill="#0c0cf2"/>
<circle cx="357.3" cy="45.7" r="0.95" fill="#0c0cf2"/>
<circle cx="359.3" cy="48.3" r="0.95" fill="#0c0cf2"/>
<circle cx="360.7" cy="51.0" r="0.95" fill="#0c0cf2"/>
<circle cx="358.9" cy="45.0" r="0.95" fill="#0c0cf2"/>
<circle cx="358.0" cy="49.4" r="0.95" fill="#0c0cf2"/>
<circle cx="360.8" cy="54.1" r="0.95" fill="#0c0cf2"/>
<circle cx="358.3" cy="44.9" r="0.95" fill="#0c0cf2"/>
<circle cx="367.5" cy="48.6" r="0.95" fill="#0c0cf2"/>
<circle cx="362.1" cy="45.3" r="0.95" fill="#0c0cf2"/>
<circle cx="366.1" cy="44.8" r="0.95" fill="#0c0cf2"/>
<circle cx="366.5" cy="48.9" r="0.95" fill="#0c0cf2"/>
<circle cx="365.8" cy="48.4" r="0.95" fill="#0c0cf2"/>
<circle cx="365.2" cy="50.7" r="0.95" fill="#0c0cf2"/>
<circle cx="360.6" cy="55.0" r="0.95" fill="#0c0cf2"/>
<circle cx="358.2" cy="51.7" r="0.95" fill="#0c0cf2"/>
<circle cx="363.7" cy="47.0" r="0.95" fill="#0c0cf2"/>
<circle cx="356.7" cy="48.9" r="0.95" fill="#0c0cf2"/>
<circle cx="360.9" cy="51.2" r="0.95" fill="#0c0cf2"/>
<circle cx="361.7" cy="54.2" r="0.95" fill="#0c0cf2"/>
<circle cx="358.2" cy="51.3" r="0.95" fill="#0c0cf2"/>
<circle cx="356.5" cy="49.1" r="0.95" fill="#0c0cf2"/>
<circle cx="360.4" cy="44.5" r="0.95" fill="#0c0cf2"/>
<circle cx="364.3" cy="55.1" r="0.95" fill="#0c0cf2"/>
<circle cx="367.8" cy="46.6" r="0.95" fill="#0c0cf2"/>
<circle cx="366.9" cy="47.8" r="0.95" fill="#0c0cf2"/>
<circle cx="361.7" cy="55.8" r="0.95" fill="#0c0cf2"/>
<circle cx="357.2" cy="45.6" r="0.95" fill="#0c0cf2"/>
<circle cx="363.8" cy="56.8" r="0.95" fill="#0c0cf2"/>
<circle cx="366.3" cy="45.7" r="0.95" fill="#0c0cf2"/>
<circle cx="357.9" cy="44.0" r="0.95" fill="#0c0cf2"/>
<circle cx="358.2" cy="49.1" r="0.95" fill="#0c0cf2"/>
<circle cx="359.2" cy="53.1" r="0.95" fill="#0c0cf2"/>
<circle cx="359.3" cy="47.8" r="0.95" fill="#0c0cf2"/>
<circle cx="364.7" cy="54.4" r="0.95" fill="#0c0cf2"/>
<circle cx="365.2" cy="47.9" r="0.95" fill="#0c0cf2"/>
<circle cx="364.0" cy="53.6" r="0.95" fill="#0c0cf2"/>
<circle cx="362.8" cy="44.4" r="0.95" fill="#0c0cf2"/>
<circle cx="358.7" cy="46.3" r="0.95" fill="#0c0cf2"/>
<circle cx="359.8" cy="44.5" r="0.95" fill="#0c0cf2"/>
<circle cx="362.2" cy="52.3" r="0.95" fill="#0c0cf2"/>
<circle cx="367.7" cy="48.7" r="0.95" fill="#0c0cf2"/>
<circle cx="358.7" cy="50.9" r="0.95" fill="#0c0cf2"/>
<circle cx="367.9" cy="45.8" r="0.95" fill="#0c0cf2"/>
<circle cx="360.0" cy="51.9" r="0.95" fill="#0c0cf2"/>
<circle cx="362.8" cy="61.8" r="0.95" fill="#0c0cf2"/>
<circle cx="365.1" cy="44.0" r="0.95" fill="#0c0cf2"/>
<circle cx="360.8" cy="46.9" r="0.95" fill="#0c0cf2"/>
<circle cx="363.1" cy="55.2" r="0.95" fill="#0c0cf2"/>
<circle cx="363.9" cy="54.6" r="0.95" fill="#0c0cf2"/>
<circle cx="360.5" cy="55.2" r="0.95" fill="#0c0cf2"/>
<circle cx="358.2" cy="45.9" r="0.95" fill="#0c0cf2"/>
<circle cx="356.8" cy="49.7" r="0.95" fill="#0c0cf2"/>
<circle cx="356.8" cy="44.1" r="0.95" fill="#0c0cf2"/>
<circle cx="367.0" cy="48.2" r="0.95" fill="#0c0cf2"/>
<circle cx="356.1" cy="49.8" r="0.95" fill="#0c0cf2"/>
<circle cx="356.8" cy="46.0" r="0.95" fill="#0c0cf2"/>
<circle cx="362.9" cy="48.1" r="0.95" fill="#0c0cf2"/>
<circle cx="364.3" cy="47.5" r="0.95" fill="#0c0cf2"/>
<circle cx="359.1" cy="44.0" r="0.95" fill="#0c0cf2"/>
<circle cx="367.4" cy="43.7" r="0.95" fill="#0c0cf2"/>
<circle cx="362.1" cy="53.1" r="0.95" fill="#0c0cf2"/>
<circle cx="364.1" cy="42.7" r="0.95" fill="#0c0cf2"/>
<circle cx="362.2" cy="61.2" r="0.95" fill="#0c0cf2"/>
<circle cx="364.0" cy="56.3" r="0.95" fill="#0c0cf2"/>
<circle cx="362.3" cy="61.5" r="0.95" fill="#0c0cf2"/>
<circle cx="361.2" cy="52.9" r="0.95" fill="#0c0cf2"/>
<circle cx="365.9" cy="42.5" r="0.95" fill="#0c0cf2"/>
<circle cx="366.7" cy="44.3" r="0.95" fill="#0c0cf2"/>
<circle cx="368.6" cy="46.8" r="0.95" fill="#0c0cf2"/>
<circle cx="366.7" cy="45.2" r="0.95" fill="#0c0cf2"/>
<circle cx="365.2" cy="43.7" r="0.95" fill="#0c0cf2"/>
<circle cx="361.3" cy="57.0" r="0.95" fill="#0c0cf2"/>
<circle cx="363.6" cy="56.7" r="0.95" fill="#0c0cf2"/>
<circle cx="364.1" cy="52.8" r="0.95" fill="#0c0cf2"/>
<circle cx="356.6" cy="46.1" r="0.95" fill="#0c0cf2"/>
<circle cx="363.2" cy="54.9" r="0.95" fill="#0c0cf2"/>
<circle cx="364.4" cy="53.8" r="0.95" fill="#0c0cf2"/>
<circle cx="364.1" cy="46.8" r="0.95" fill="#0c0cf2"/>
<circle cx="365.7" cy="44.6" r="0.95" fill="#0c0cf2"/>
<circle cx="365.3" cy="44.5" r="0.95" fill="#0c0cf2"/>
<circle cx="364.2" cy="48.0" r="0.95" fill="#0c0cf2"/>
<circle cx="364.7" cy="54.1" r="0.95" fill="#0c0cf2"/>
<circle cx="359.7" cy="43.7" r="0.95" fill="#0c0cf2"/>
<circle cx="363.7" cy="48.3" r="0.95" fill="#0c0cf2"/>
<circle cx="366.6" cy="47.2" r="0.95" fill="#0c0cf2"/>
<circle cx="361.2" cy="56.1" r="0.95" fill="#0c0cf2"/>
<circle cx="366.4" cy="44.8" r="0.95" fill="#0c0cf2"/>
<circle cx="357.8" cy="51.0" r="0.95" fill="#0c0cf2"/>
<circle cx="365.3" cy="46.9" r="0.95" fill="#0c0cf2"/>
<circle cx="357.4" cy="50.7" r="0.95" fill="#0c0cf2"/>
<circle cx="364.9" cy="53.9" r="0.95" fill="#0c0cf2"/>
<circle cx="361.0" cy="54.0" r="0.95" fill="#0c0cf2"/>
<circle cx="363.3" cy="54.7" r="0.95" fill="#0c0cf2"/>
<circle cx="359.5" cy="46.5" r="0.95" fill="#0c0cf2"/>
<circle cx="361.3" cy="46.2" r="0.95" fill="#0c0cf2"/>
<circle cx="359.9" cy="44.4" r="0.95" fill="#0c0cf2"/>
<circle cx="365.9" cy="46.2" r="0.95" fill="#0c0cf2"/>
<circle cx="368.2" cy="44.4" r="0.95" fill="#0c0cf2"/>
<circle cx="365.6" cy="53.1" r="0.95" fill="#0c0cf2"/>
<circle cx="363.8" cy="43.5" r="0.95" fill="#0c0cf2"/>
<circle cx="366.0" cy="45.4" r="0.95" fill="#0c0cf2"/>
<circle cx="365.0" cy="53.2" r="0.95" fill="#0c0cf2"/>
<circle cx="361.5" cy="52.7" r="0.95" fill="#0c0cf2"/>
<circle cx="363.1" cy="60.2" r="0.95" fill="#0c0cf2"/>
<circle cx="361.7" cy="47.7" r="0.95" fill="#0c0cf2"/>
<circle cx="359.1" cy="43.4" r="0.95" fill="#0c0cf2"/>
<circle cx="363.5" cy="53.7" r="0.95" fill="#0c0cf2"/>
<circle cx="364.2" cy="46.6" r="0.95" fill="#0c0cf2"/>
<circle cx="364.3" cy="52.8" r="0.95" fill="#0c0cf2"/>
<circle cx="365.4" cy="43.1" r="0.95" fill="#0c0cf2"/>
<circle cx="362.6" cy="43.2" r="0.95" fill="#0c0cf2"/>
<circle cx="362.6" cy="50.3" r="0.95" fill="#0c0cf2"/>
<circle cx="362.8" cy="51.4" r="0.95" fill="#0c0cf2"/>
<circle cx="356.9" cy="49.8" r="0.95" fill="#0c0cf2"/>
<circle cx="357.1" cy="49.2" r="0.95" fill="#0c0cf2"/>
<circle cx="360.8" cy="50.1" r="0.95" fill="#0c0cf2"/>
<circle cx="368.7" cy="44.7" r="0.95" fill="#0c0cf2"/>
<circle cx="365.8" cy="43.6" r="0.95" fill="#0c0cf2"/>
<circle cx="367.1" cy="47.2" r="0.95" fill="#0c0cf2"/>
<circle cx="366.1" cy="49.5" r="0.95" fill="#0c0cf2"/>
<circle cx="362.1" cy="45.9" r="0.95" fill="#0c0cf2"/>
<circle cx="359.4" cy="45.1" r="0.95" fill="#0c0cf2"/>
<circle cx="361.4" cy="48.3" r="0.95" fill="#0c0cf2"/>
<circle cx="362.8" cy="47.9" r="0.95" fill="#0c0cf2"/>
<circle cx="366.8" cy="46.3" r="0.95" fill="#0c0cf2"/>
<circle cx="362.9" cy="57.7" r="0.95" fill="#0c0cf2"/>
<circle cx="362.7" cy="58.4" r="0.95" fill="#0c0cf2"/>
<circle cx="360.0" cy="43.4" r="0.95" fill="#0c0cf2"/>
<circle cx="358.9" cy="48.7" r="0.95" fill="#0c0cf2"/>
<circle cx="356.9" cy="45.9" r="0.95" fill="#0c0cf2"/>
<circle cx="361.3" cy="47.1" r="0.95" fill="#0c0cf2"/>
<circle cx="360.7" cy="42.9" r="0.95" fill="#0c0cf2"/>
<circle cx="363.4" cy="44.1" r="0.95" fill="#0c0cf2"/>
<circle cx="363.2" cy="43.1" r="0.95" fill="#0c0cf2"/>
<circle cx="358.0" cy="44.6" r="0.95" fill="#0c0cf2"/>
<circle cx="359.2" cy="50.8" r="0.95" fill="#0c0cf2"/>
<circle cx="366.0" cy="43.9" r="0.95" fill="#0c0cf2"/>
<circle cx="361.2" cy="55.8" r="0.95" fill="#0c0cf2"/>
<circle cx="363.2" cy="53.3" r="0.95" fill="#0c0cf2"/>
<circle cx="362.8" cy="46.1" r="0.95" fill="#0c0cf2"/>
<circle cx="365.1" cy="51.5" r="0.95" fill="#0c0cf2"/>
<circle cx="361.6" cy="59.0" r="0.95" fill="#0c0cf2"/>
<circle cx="359.4" cy="44.4" r="0.95" fill="#0c0cf2"/>
<circle cx="358.0" cy="49.7" r="0.95" fill="#0c0cf2"/>
<circle cx="368.5" cy="48.4" r="0.95" fill="#0c0cf2"/>
<circle cx="357.1" cy="46.9" r="0.95" fill="#0c0cf2"/>
<circle cx="356.8" cy="46.6" r="0.95" fill="#0c0cf2"/>
<circle cx="368.0" cy="43.9" r="0.95" fill="#0c0cf2"/>
<circle cx="362.1" cy="50.9" r="0.95" fill="#0c0cf2"/>
<circle cx="361.0" cy="45.4" r="0.95" fill="#0c0cf2"/>
<circle cx="362.5" cy="68.2" r="0.95" fill="#0c0cf2"/>
<circle cx="385.0" cy="53.9" r="0.95" fill="#f20c0c"/>
<circle cx="379.5" cy="44.1" r="0.95" fill="#f20c0c"/>
<circle cx="382.0" cy="42.2" r="0.95" fill="#f20c0c"/>
<circle cx="384.2" cy="41.0" r="0.95" fill="#f20c0c"/>
<circle cx="379.4" cy="48.4" r="0.95" fill="#f20c0c"/>
<circle cx="384.9" cy="47.4" r="0.95" fill="#f20c0c"/>
<circle cx="383.6" cy="56.4" r="0.95" fill="#f20c0c"/>
<circle cx="382.2" cy="40.9" r="0.95" fill="#f20c0c"/>
<circle cx="385.8" cy="52.1" r="0.95" fill="#f20c0c"/>
<circle cx="383.6" cy="59.2" r="0.95" fill="#f20c0c"/>
<circle cx="382.5" cy="50.6" r="0.95" fill="#f20c0c"/>
<circle cx="384.6" cy="40.1" r="0.95" fill="#f20c0c"/>
<circle cx="381.9" cy="41.2" r="0.95" fill="#f20c0c"/>
<circle cx="383.0" cy="39.1" r="0.95" fill="#f20c0c"/>
<circle cx="387.2" cy="44.3" r="0.95" fill="#f20c0c"/>
<circle cx="382.6" cy="51.0" r="0.95" fill="#f20c0c"/>
<circle cx="383.8" cy="40.9" r="0.95" fill="#f20c0c"/>
<circle cx="377.1" cy="45.9" r="0.95" fill="#f20c0c"/>
<circle cx="382.4" cy="37.4" r="0.95" fill="#f20c0c"/>
<circle cx="381.2" cy="49.4" r="0.95" fill="#f20c0c"/>
<circle cx="383.6" cy="39.4" r="0.95" fill="#f20c0c"/>
<circle cx="382.8" cy="52.0" r="0.95" fill="#f20c0c"/>
<circle cx="382.5" cy="48.2" r="0.95" fill="#f20c0c"/>
<circle cx="381.9" cy="41.9" r="0.95" fill="#f20c0c"/>
<circle cx="386.9" cy="49.8" r="0.95" fill="#f20c0c"/>
<circle cx="388.6" cy="44.5" r="0.95" fill="#f20c0c"/>
<circle cx="386.2" cy="46.7" r="0.95" fill="#f20c0c"/>
<circle cx="382.5" cy="47.2" r="0.95" fill="#f20c0c"/>
<circle cx="382.7" cy="43.5" r="0.95" fill="#f20c0c"/>
<circle cx="381.5" cy="45.6" r="0.95" fill="#f20c0c"/>
<circle cx="381.3" cy="51.6" r="0.95" fill="#f20c0c"/>
<circle cx="382.3" cy="54.6" r="0.95" fill="#f20c0c"/>
<circle cx="382.3" cy="53.7" r="0.95" fill="#f20c0c"/>
<circle cx="382.8" cy="47.7" r="0.95" fill="#f20c0c"/>
<circle cx="383.8" cy="54.7" r="0.95" fill="#f20c0c"/>
<circle cx="383.7" cy="40.7" r="0.95" fill="#f20c0c"/>
<circle cx="383.6" cy="62.3" r="0.95" fill="#f20c0c"/>
<circle cx="384.7" cy="37.3" r="0.95" fill="#f20c0c"/>
<circle cx="383.3" cy="56.4" r="0.95" fill="#f20c0c"/>
<circle cx="385.7" cy="52.0" r="0.95" fill="#f20c0c"/>
<circle cx="381.7" cy="45.3" r="0.95" fill="#f20c0c"/>
<circle cx="380.9" cy="51.8" r="0.95" fill="#f20c0c"/>
<circle cx="383.8" cy="60.1" r="0.95" fill="#f20c0c"/>
<circle cx="385.6" cy="41.4" r="0.95" fill="#f20c0c"/>
<circle cx="384.0" cy="48.8" r="0.95" fill="#f20c0c"/>
<circle cx="383.4" cy="35.0" r="0.95" fill="#f20c0c"/>
<circle cx="383.3" cy="49.1" r="0.95" fill="#f20c0c"/>
<circle cx="384.2" cy="38.1" r="0.95" fill="#f20c0c"/>
<circle cx="387.8" cy="49.0" r="0.95" fill="#f20c0c"/>
<circle cx="384.1" cy="36.5" r="0.95" fill="#f20c0c"/>
<circle cx="382.8" cy="45.3" r="0.95" fill="#f20c0c"/>
<circle cx="383.3" cy="54.5" r="0.95" fill="#f20c0c"/>
<circle cx="386.7" cy="43.9" r="0.95" fill="#f20c0c"/>
<circle cx="383.4" cy="61.1" r="0.95" fill="#f20c0c"/>
<circle cx="380.7" cy="46.3" r="0.95" fill="#f20c0c"/>
<circle cx="386.8" cy="41.9" r="0.95" fill="#f20c0c"/>
<circle cx="384.2" cy="58.7" r="0.95" fill="#f20c0c"/>
<circle cx="384.6" cy="41.3" r="0.95" fill="#f20c0c"/>
<circle cx="378.6" cy="47.9" r="0.95" fill="#f20c0c"/>
<circle cx="383.9" cy="59.0" r="0.95" fill="#f20c0c"/>
<circle cx="383.7" cy="58.9" r="0.95" fill="#f20c0c"/>
<circle cx="386.5" cy="47.2" r="0.95" fill="#f20c0c"/>
<circle cx="384.4" cy="42.6" r="0.95" fill="#f20c0c"/>
<circle cx="386.4" cy="46.4" r="0.95" fill="#f20c0c"/>
<circle cx="387.4" cy="43.8" r="0.95" fill="#f20c0c"/>
<circle cx="380.9" cy="44.1" r="0.95" fill="#f20c0c"/>
<circle cx="387.4" cy="44.3" r="0.95" fill="#f20c0c"/>
<circle cx="383.6" cy="42.3" r="0.95" fill="#f20c0c"/>
<circle cx="384.5" cy="37.1" r="0.95" fill="#f20c0c"/>
<circle cx="380.7" cy="50.8" r="0.95" fill="#f20c0c"/>
<circle cx="382.6" cy="35.4" r="0.95" fill="#f20c0c"/>
<circle cx="377.9" cy="47.5" r="0.95" fill="#f20c0c"/>
<circle cx="384.9" cy="44.8" r="0.95" fill="#f20c0c"/>
<circle cx="382.5" cy="48.9" r="0.95" fill="#f20c0c"/>
<circle cx="388.1" cy="47.6" r="0.95" fill="#f20c0c"/>
<circle cx="389.5" cy="46.4" r="0.95" fill="#f20c0c"/>
<circle cx="383.9" cy="51.3" r="0.95" fill="#f20c0c"/>
<circle cx="383.8" cy="47.6" r="0.95" fill="#f20c0c"/>
<circle cx="384.3" cy="56.2" r="0.95" fill="#f20c0c"/>
<circle cx="378.2" cy="47.7" r="0.95" fill="#f20c0c"/>
<circle cx="384.0" cy="55.0" r="0.95" fill="#f20c0c"/>
<circle cx="384.2" cy="54.4" r="0.95" fill="#f20c0c"/>
<circle cx="382.9" cy="49.7" r="0.95" fill="#f20c0c"/>
<circle cx="379.0" cy="44.2" r="0.95" fill="#f20c0c"/>
<circle cx="381.4" cy="46.5" r="0.95" fill="#f20c0c"/>
<circle cx="384.9" cy="38.9" r="0.95" fill="#f20c0c"/>
<circle cx="379.7" cy="50.1" r="0.95" fill="#f20c0c"/>
<circle cx="380.9" cy="48.7" r="0.95" fill="#f20c0c"/>
<circle cx="382.0" cy="52.8" r="0.95" fill="#f20c0c"/>
<circle cx="381.5" cy="39.1" r="0.95" fill="#f20c0c"/>
<circle cx="381.8" cy="40.4" r="0.95" fill="#f20c0c"/>
<circle cx="384.3" cy="48.8" r="0.95" fill="#f20c0c"/>
<circle cx="380.4" cy="50.4" r="0.95" fill="#f20c0c"/>
<circle cx="384.8" cy="38.6" r="0.95" fill="#f20c0c"/>
<circle cx="384.0" cy="36.6" r="0.95" fill="#f20c0c"/>
<circle cx="379.9" cy="44.3" r="0.95" fill="#f20c0c"/>
<circle cx="380.5" cy="44.6" r="0.95" fill="#f20c0c"/>
<circle cx="383.8" cy="37.6" r="0.95" fill="#f20c0c"/>
<circle cx="384.5" cy="39.4" r="0.95" fill="#f20c0c"/>
<circle cx="382.5" cy="42.3" r="0.95" fill="#f20c0c"/>
<circle cx="383.4" cy="35.6" r="0.95" fill="#f20c0c"/>
<circle cx="381.0" cy="40.8" r="0.95" fill="#f20c0c"/>
<circle cx="382.4" cy="36.3" r="0.95" fill="#f20c0c"/>
<circle cx="381.7" cy="44.8" r="0.95" fill="#f20c0c"/>
<circle cx="383.5" cy="50.7" r="0.95" fill="#f20c0c"/>
<circle cx="385.8" cy="48.9" r="0.95" fill="#f20c0c"/>
<circle cx="385.1" cy="48.1" r="0.95" fill="#f20c0c"/>
<circle cx="380.3" cy="46.2" r="0.95" fill="#f20c0c"/>
<circle cx="384.0" cy="42.0" r="0.95" fill="#f20c0c"/>
<circle cx="383.9" cy="37.4" r="0.95" fill="#f20c0c"/>
<circle cx="383.9" cy="42.0" r="0.95" fill="#f20c0c"/>
<circle cx="383.8" cy="59.4" r="0.95" fill="#f20c0c"/>
<circle cx="383.8" cy="52.6" r="0.95" fill="#f20c0c"/>
<circle cx="380.2" cy="47.4" r="0.95" fill="#f20c0c"/>
<circle cx="382.4" cy="48.3" r="0.95" fill="#f20c0c"/>
<circle cx="380.9" cy="50.7" r="0.95" fill="#f20c0c"/>
<circle cx="383.9" cy="52.8" r="0.95" fill="#f20c0c"/>
<circle cx="387.8" cy="43.1" r="0.95" fill="#f20c0c"/>
<circle cx="382.5" cy="52.1" r="0.95" fill="#f20c0c"/>
<circle cx="381.8" cy="48.6" r="0.95" fill="#f20c0c"/>
<circle cx="388.2" cy="43.6" r="0.95" fill="#f20c0c"/>
<circle cx="385.3" cy="43.7" r="0.95" fill="#f20c0c"/>
<circle cx="380.2" cy="41.6" r="0.95" fill="#f20c0c"/>
<circle cx="383.9" cy="47.1" r="0.95" fill="#f20c0c"/>
<circle cx="382.9" cy="60.8" r="0.95" fill="#f20c0c"/>
<circle cx="384.3" cy="51.9" r="0.95" fill="#f20c0c"/>
<circle cx="381.0" cy="41.4" r="0.95" fill="#f20c0c"/>
<circle cx="383.3" cy="40.3" r="0.95" fill="#f20c0c"/>
<circle cx="385.7" cy="43.6" r="0.95" fill="#f20c0c"/>
<circle cx="386.5" cy="41.5" r="0.95" fill="#f20c0c"/>
<circle cx="384.9" cy="40.7" r="0.95" fill="#f20c0c"/>
<circle cx="381.6" cy="50.3" r="0.95" fill="#f20c0c"/>
<circle cx="377.8" cy="44.2" r="0.95" fill="#f20c0c"/>
<circle cx="378.7" cy="47.3" r="0.95" fill="#f20c0c"/>
<circle cx="385.8" cy="44.2" r="0.95" fill="#f20c0c"/>
<circle cx="383.2" cy="62.1" r="0.95" fill="#f20c0c"/>
<circle cx="382.2" cy="48.0" r="0.95" fill="#f20c0c"/>
<circle cx="385.9" cy="40.7" r="0.95" fill="#f20c0c"/>
<circle cx="383.6" cy="51.4" r="0.95" fill="#f20c0c"/>
<circle cx="378.4" cy="43.8" r="0.95" fill="#f20c0c"/>
<circle cx="387.1" cy="46.0" r="0.95" fill="#f20c0c"/>
<circle cx="387.6" cy="43.8" r="0.95" fill="#f20c0c"/>
<circle cx="383.1" cy="46.4" r="0.95" fill="#f20c0c"/>
<circle cx="379.9" cy="43.9" r="0.95" fill="#f20c0c"/>
<circle cx="379.9" cy="44.1" r="0.95" fill="#f20c0c"/>
<circle cx="383.0" cy="41.1" r="0.95" fill="#f20c0c"/>
<circle cx="383.8" cy="60.3" r="0.95" fill="#f20c0c"/>
<circle cx="383.7" cy="42.4" r="0.95" fill="#f20c0c"/>
<circle cx="383.1" cy="43.7" r="0.95" fill="#f20c0c"/>
<circle cx="383.4" cy="45.3" r="0.95" fill="#f20c0c"/>
<circle cx="385.7" cy="40.1" r="0.95" fill="#f20c0c"/>
<circle cx="379.5" cy="42.9" r="0.95" fill="#f20c0c"/>
<circle cx="378.1" cy="45.4" r="0.95" fill="#f20c0c"/>
<circle cx="387.3" cy="47.8" r="0.95" fill="#f20c0c"/>
<circle cx="378.7" cy="47.1" r="0.95" fill="#f20c0c"/>
<circle cx="379.5" cy="44.9" r="0.95" fill="#f20c0c"/>
<circle cx="385.2" cy="49.3" r="0.95" fill="#f20c0c"/>
<circle cx="382.4" cy="50.7" r="0.95" fill="#f20c0c"/>
<circle cx="380.5" cy="43.4" r="0.95" fill="#f20c0c"/>
<circle cx="387.5" cy="43.1" r="0.95" fill="#f20c0c"/>
<circle cx="384.1" cy="48.2" r="0.95" fill="#f20c0c"/>
<circle cx="379.9" cy="45.5" r="0.95" fill="#f20c0c"/>
<circle cx="381.3" cy="53.0" r="0.95" fill="#f20c0c"/>
<circle cx="382.7" cy="35.3" r="0.95" fill="#f20c0c"/>
<circle cx="387.1" cy="47.1" r="0.95" fill="#f20c0c"/>
<circle cx="385.9" cy="44.5" r="0.95" fill="#f20c0c"/>
<circle cx="382.5" cy="42.4" r="0.95" fill="#f20c0c"/>
<circle cx="383.0" cy="54.6" r="0.95" fill="#f20c0c"/>
<circle cx="384.9" cy="42.7" r="0.95" fill="#f20c0c"/>
<circle cx="381.4" cy="51.8" r="0.95" fill="#f20c0c"/>
<circle cx="383.4" cy="30.4" r="0.95" fill="#f20c0c"/>
<line x1="348.50" y1="23.60" x2="348.50" y2="98.20" stroke="#444" stroke-width="1.4" />
<line x1="347.90" y1="97.60" x2="398.00" y2="97.60" stroke="#444" stroke-width="1.4" />
<line x1="346.20" y1="97.60" x2="348.50" y2="97.60" stroke="#444" stroke-width="0.9" />
<text x="345.20" y="99.55" font-size="5.4" font-weight="bold" text-anchor="end" fill="#333" stroke="#333" stroke-width="0.3" >0</text>
<line x1="346.20" y1="73.10" x2="348.50" y2="73.10" stroke="#444" stroke-width="0.9" />
<text x="345.20" y="75.05" font-size="5.4" font-weight="bold" text-anchor="end" fill="#333" stroke="#333" stroke-width="0.3" >5</text>
<line x1="346.20" y1="48.60" x2="348.50" y2="48.60" stroke="#444" stroke-width="0.9" />
<text x="345.20" y="50.55" font-size="5.4" font-weight="bold" text-anchor="end" fill="#333" stroke="#333" stroke-width="0.3" >10</text>
<line x1="346.20" y1="24.10" x2="348.50" y2="24.10" stroke="#444" stroke-width="0.9" />
<text x="345.20" y="26.05" font-size="5.4" font-weight="bold" text-anchor="end" fill="#333" stroke="#333" stroke-width="0.3" >15</text>
<line x1="362.40" y1="97.60" x2="362.40" y2="99.90" stroke="#444" stroke-width="0.9" />
<line x1="383.40" y1="97.60" x2="383.40" y2="99.90" stroke="#444" stroke-width="0.9" />
<text x="336.30" y="61.50" font-size="7.4" font-weight="bold" text-anchor="middle" fill="#111" stroke="#111" stroke-width="0.4" textLength="21.1" lengthAdjust="spacingAndGlyphs" transform="rotate(-90 336.30 61.50)" >SIRPA</text>
<text x="358.50" y="25.60" font-size="5.4" font-weight="bold" text-anchor="start" fill="#222" stroke="#222" stroke-width="0.3" textLength="26.3" lengthAdjust="spacingAndGlyphs" >p=7.34x10</text>
<text x="385.30" y="23.90" font-size="2.9" font-weight="bold" text-anchor="start" fill="#555" stroke="#555" stroke-width="0.1" >-10</text>
<line x1="355.00" y1="27.20" x2="391.00" y2="27.20" stroke="#c8c8c8" stroke-width="1.0" />
<text x="358.30" y="108.50" font-size="6.6" font-weight="normal" text-anchor="middle" fill="#222" stroke="#222" stroke-width="0.22" textLength="28.4" lengthAdjust="spacingAndGlyphs" >Non-Basal</text>
<text x="358.30" y="114.50" font-size="6.6" font-weight="normal" text-anchor="middle" fill="#222" stroke="#222" stroke-width="0.22" textLength="21" lengthAdjust="spacingAndGlyphs" >(n=489)</text>
<text x="385.50" y="108.50" font-size="6.6" font-weight="normal" text-anchor="middle" fill="#222" stroke="#222" stroke-width="0.22" textLength="15.5" lengthAdjust="spacingAndGlyphs" >Basal</text>
<text x="385.50" y="114.50" font-size="6.6" font-weight="normal" text-anchor="middle" fill="#222" stroke="#222" stroke-width="0.22" textLength="21" lengthAdjust="spacingAndGlyphs" >(n=170)</text>
<rect x="430.30" y="53.47" width="14.40" height="41.33" fill="#d3d3d3" stroke="#bdbdbd" stroke-width="0.6"/>
<rect x="451.00" y="58.93" width="14.80" height="35.87" fill="#d3d3d3" stroke="#bdbdbd" stroke-width="0.6"/>
<circle cx="433.6" cy="53.9" r="0.95" fill="#0c0cf2"/>
<circle cx="437.5" cy="73.8" r="0.95" fill="#0c0cf2"/>
<circle cx="435.7" cy="65.7" r="0.95" fill="#0c0cf2"/>
<circle cx="435.5" cy="41.7" r="0.95" fill="#0c0cf2"/>
<circle cx="436.5" cy="50.5" r="0.95" fill="#0c0cf2"/>
<circle cx="438.2" cy="53.2" r="0.95" fill="#0c0cf2"/>
<circle cx="443.3" cy="51.7" r="0.95" fill="#0c0cf2"/>
<circle cx="435.2" cy="43.8" r="0.95" fill="#0c0cf2"/>
<circle cx="437.9" cy="46.3" r="0.95" fill="#0c0cf2"/>
<circle cx="431.3" cy="54.5" r="0.95" fill="#0c0cf2"/>
<circle cx="442.0" cy="59.6" r="0.95" fill="#0c0cf2"/>
<circle cx="436.1" cy="59.4" r="0.95" fill="#0c0cf2"/>
<circle cx="440.8" cy="58.1" r="0.95" fill="#0c0cf2"/>
<circle cx="435.8" cy="58.2" r="0.95" fill="#0c0cf2"/>
<circle cx="437.5" cy="34.9" r="0.95" fill="#0c0cf2"/>
<circle cx="436.8" cy="47.2" r="0.95" fill="#0c0cf2"/>
<circle cx="436.1" cy="50.0" r="0.95" fill="#0c0cf2"/>
<circle cx="440.9" cy="48.3" r="0.95" fill="#0c0cf2"/>
<circle cx="439.3" cy="51.2" r="0.95" fill="#0c0cf2"/>
<circle cx="437.6" cy="51.6" r="0.95" fill="#0c0cf2"/>
<circle cx="436.8" cy="50.2" r="0.95" fill="#0c0cf2"/>
<circle cx="437.3" cy="35.0" r="0.95" fill="#0c0cf2"/>
<circle cx="434.7" cy="64.6" r="0.95" fill="#0c0cf2"/>
<circle cx="438.1" cy="69.3" r="0.95" fill="#0c0cf2"/>
<circle cx="439.9" cy="56.4" r="0.95" fill="#0c0cf2"/>
<circle cx="437.4" cy="48.6" r="0.95" fill="#0c0cf2"/>
<circle cx="440.4" cy="52.7" r="0.95" fill="#0c0cf2"/>
<circle cx="438.0" cy="66.5" r="0.95" fill="#0c0cf2"/>
<circle cx="432.2" cy="56.1" r="0.95" fill="#0c0cf2"/>
<circle cx="442.3" cy="58.9" r="0.95" fill="#0c0cf2"/>
<circle cx="441.5" cy="58.8" r="0.95" fill="#0c0cf2"/>
<circle cx="437.6" cy="71.4" r="0.95" fill="#0c0cf2"/>
<circle cx="439.4" cy="57.5" r="0.95" fill="#0c0cf2"/>
<circle cx="439.2" cy="43.6" r="0.95" fill="#0c0cf2"/>
<circle cx="435.1" cy="53.8" r="0.95" fill="#0c0cf2"/>
<circle cx="435.3" cy="67.1" r="0.95" fill="#0c0cf2"/>
<circle cx="438.1" cy="44.7" r="0.95" fill="#0c0cf2"/>
<circle cx="436.6" cy="40.3" r="0.95" fill="#0c0cf2"/>
<circle cx="436.7" cy="40.1" r="0.95" fill="#0c0cf2"/>
<circle cx="437.1" cy="41.5" r="0.95" fill="#0c0cf2"/>
<circle cx="437.8" cy="45.6" r="0.95" fill="#0c0cf2"/>
<circle cx="434.6" cy="61.0" r="0.95" fill="#0c0cf2"/>
<circle cx="434.5" cy="56.2" r="0.95" fill="#0c0cf2"/>
<circle cx="440.0" cy="59.8" r="0.95" fill="#0c0cf2"/>
<circle cx="440.2" cy="55.2" r="0.95" fill="#0c0cf2"/>
<circle cx="442.0" cy="50.7" r="0.95" fill="#0c0cf2"/>
<circle cx="441.4" cy="61.5" r="0.95" fill="#0c0cf2"/>
<circle cx="437.8" cy="45.9" r="0.95" fill="#0c0cf2"/>
<circle cx="435.8" cy="50.6" r="0.95" fill="#0c0cf2"/>
<circle cx="431.1" cy="51.9" r="0.95" fill="#0c0cf2"/>
<circle cx="435.7" cy="58.4" r="0.95" fill="#0c0cf2"/>
<circle cx="439.4" cy="60.8" r="0.95" fill="#0c0cf2"/>
<circle cx="432.0" cy="55.4" r="0.95" fill="#0c0cf2"/>
<circle cx="435.6" cy="56.4" r="0.95" fill="#0c0cf2"/>
<circle cx="440.0" cy="48.9" r="0.95" fill="#0c0cf2"/>
<circle cx="440.1" cy="56.0" r="0.95" fill="#0c0cf2"/>
<circle cx="439.6" cy="63.5" r="0.95" fill="#0c0cf2"/>
<circle cx="442.6" cy="52.6" r="0.95" fill="#0c0cf2"/>
<circle cx="436.4" cy="60.5" r="0.95" fill="#0c0cf2"/>
<circle cx="438.1" cy="54.1" r="0.95" fill="#0c0cf2"/>
<circle cx="437.9" cy="54.0" r="0.95" fill="#0c0cf2"/>
<circle cx="439.4" cy="56.5" r="0.95" fill="#0c0cf2"/>
<circle cx="433.5" cy="45.0" r="0.95" fill="#0c0cf2"/>
<circle cx="442.0" cy="47.3" r="0.95" fill="#0c0cf2"/>
<circle cx="441.3" cy="46.1" r="0.95" fill="#0c0cf2"/>
<circle cx="435.5" cy="54.5" r="0.95" fill="#0c0cf2"/>
<circle cx="439.1" cy="57.9" r="0.95" fill="#0c0cf2"/>
<circle cx="441.6" cy="59.2" r="0.95" fill="#0c0cf2"/>
<circle cx="440.1" cy="46.8" r="0.95" fill="#0c0cf2"/>
<circle cx="433.6" cy="50.0" r="0.95" fill="#0c0cf2"/>
<circle cx="437.5" cy="45.3" r="0.95" fill="#0c0cf2"/>
<circle cx="435.9" cy="57.4" r="0.95" fill="#0c0cf2"/>
<circle cx="441.9" cy="52.0" r="0.95" fill="#0c0cf2"/>
<circle cx="438.5" cy="48.6" r="0.95" fill="#0c0cf2"/>
<circle cx="441.9" cy="47.4" r="0.95" fill="#0c0cf2"/>
<circle cx="439.1" cy="68.5" r="0.95" fill="#0c0cf2"/>
<circle cx="440.6" cy="53.4" r="0.95" fill="#0c0cf2"/>
<circle cx="437.3" cy="72.7" r="0.95" fill="#0c0cf2"/>
<circle cx="433.4" cy="49.7" r="0.95" fill="#0c0cf2"/>
<circle cx="432.9" cy="47.1" r="0.95" fill="#0c0cf2"/>
<circle cx="438.8" cy="59.2" r="0.95" fill="#0c0cf2"/>
<circle cx="437.7" cy="66.6" r="0.95" fill="#0c0cf2"/>
<circle cx="441.3" cy="45.7" r="0.95" fill="#0c0cf2"/>
<circle cx="435.7" cy="64.4" r="0.95" fill="#0c0cf2"/>
<circle cx="443.0" cy="55.9" r="0.95" fill="#0c0cf2"/>
<circle cx="438.5" cy="66.2" r="0.95" fill="#0c0cf2"/>
<circle cx="438.0" cy="68.5" r="0.95" fill="#0c0cf2"/>
<circle cx="440.5" cy="52.2" r="0.95" fill="#0c0cf2"/>
<circle cx="439.2" cy="68.1" r="0.95" fill="#0c0cf2"/>
<circle cx="435.7" cy="46.3" r="0.95" fill="#0c0cf2"/>
<circle cx="439.7" cy="52.6" r="0.95" fill="#0c0cf2"/>
<circle cx="439.1" cy="52.6" r="0.95" fill="#0c0cf2"/>
<circle cx="435.6" cy="48.0" r="0.95" fill="#0c0cf2"/>
<circle cx="434.5" cy="53.5" r="0.95" fill="#0c0cf2"/>
<circle cx="440.6" cy="60.5" r="0.95" fill="#0c0cf2"/>
<circle cx="435.3" cy="43.7" r="0.95" fill="#0c0cf2"/>
<circle cx="442.3" cy="53.3" r="0.95" fill="#0c0cf2"/>
<circle cx="439.8" cy="54.4" r="0.95" fill="#0c0cf2"/>
<circle cx="441.9" cy="46.8" r="0.95" fill="#0c0cf2"/>
<circle cx="441.9" cy="57.3" r="0.95" fill="#0c0cf2"/>
<circle cx="442.6" cy="48.2" r="0.95" fill="#0c0cf2"/>
<circle cx="432.1" cy="55.5" r="0.95" fill="#0c0cf2"/>
<circle cx="433.1" cy="55.5" r="0.95" fill="#0c0cf2"/>
<circle cx="433.2" cy="60.5" r="0.95" fill="#0c0cf2"/>
<circle cx="435.7" cy="67.9" r="0.95" fill="#0c0cf2"/>
<circle cx="436.7" cy="67.3" r="0.95" fill="#0c0cf2"/>
<circle cx="434.3" cy="54.0" r="0.95" fill="#0c0cf2"/>
<circle cx="442.8" cy="48.5" r="0.95" fill="#0c0cf2"/>
<circle cx="439.8" cy="47.8" r="0.95" fill="#0c0cf2"/>
<circle cx="439.7" cy="61.4" r="0.95" fill="#0c0cf2"/>
<circle cx="434.1" cy="60.8" r="0.95" fill="#0c0cf2"/>
<circle cx="436.8" cy="62.0" r="0.95" fill="#0c0cf2"/>
<circle cx="440.8" cy="63.2" r="0.95" fill="#0c0cf2"/>
<circle cx="433.7" cy="55.3" r="0.95" fill="#0c0cf2"/>
<circle cx="439.8" cy="65.8" r="0.95" fill="#0c0cf2"/>
<circle cx="436.8" cy="57.8" r="0.95" fill="#0c0cf2"/>
<circle cx="438.4" cy="57.0" r="0.95" fill="#0c0cf2"/>
<circle cx="433.7" cy="63.5" r="0.95" fill="#0c0cf2"/>
<circle cx="442.5" cy="57.6" r="0.95" fill="#0c0cf2"/>
<circle cx="436.8" cy="60.9" r="0.95" fill="#0c0cf2"/>
<circle cx="436.9" cy="67.6" r="0.95" fill="#0c0cf2"/>
<circle cx="442.0" cy="51.4" r="0.95" fill="#0c0cf2"/>
<circle cx="438.6" cy="60.4" r="0.95" fill="#0c0cf2"/>
<circle cx="439.7" cy="49.1" r="0.95" fill="#0c0cf2"/>
<circle cx="441.0" cy="53.5" r="0.95" fill="#0c0cf2"/>
<circle cx="440.1" cy="64.8" r="0.95" fill="#0c0cf2"/>
<circle cx="438.1" cy="70.6" r="0.95" fill="#0c0cf2"/>
<circle cx="438.0" cy="68.6" r="0.95" fill="#0c0cf2"/>
<circle cx="438.1" cy="60.6" r="0.95" fill="#0c0cf2"/>
<circle cx="435.1" cy="63.8" r="0.95" fill="#0c0cf2"/>
<circle cx="440.0" cy="65.3" r="0.95" fill="#0c0cf2"/>
<circle cx="437.2" cy="56.4" r="0.95" fill="#0c0cf2"/>
<circle cx="436.4" cy="48.0" r="0.95" fill="#0c0cf2"/>
<circle cx="437.3" cy="35.9" r="0.95" fill="#0c0cf2"/>
<circle cx="441.1" cy="60.7" r="0.95" fill="#0c0cf2"/>
<circle cx="439.8" cy="60.8" r="0.95" fill="#0c0cf2"/>
<circle cx="441.1" cy="59.8" r="0.95" fill="#0c0cf2"/>
<circle cx="432.3" cy="55.7" r="0.95" fill="#0c0cf2"/>
<circle cx="441.7" cy="57.7" r="0.95" fill="#0c0cf2"/>
<circle cx="441.9" cy="59.5" r="0.95" fill="#0c0cf2"/>
<circle cx="438.4" cy="54.4" r="0.95" fill="#0c0cf2"/>
<circle cx="435.1" cy="57.7" r="0.95" fill="#0c0cf2"/>
<circle cx="436.5" cy="47.6" r="0.95" fill="#0c0cf2"/>
<circle cx="440.9" cy="54.7" r="0.95" fill="#0c0cf2"/>
<circle cx="432.7" cy="56.9" r="0.95" fill="#0c0cf2"/>
<circle cx="441.3" cy="55.3" r="0.95" fill="#0c0cf2"/>
<circle cx="433.0" cy="48.3" r="0.95" fill="#0c0cf2"/>
<circle cx="437.3" cy="44.3" r="0.95" fill="#0c0cf2"/>
<circle cx="442.1" cy="57.5" r="0.95" fill="#0c0cf2"/>
<circle cx="440.2" cy="43.7" r="0.95" fill="#0c0cf2"/>
<circle cx="437.8" cy="61.9" r="0.95" fill="#0c0cf2"/>
<circle cx="439.2" cy="46.3" r="0.95" fill="#0c0cf2"/>
<circle cx="437.2" cy="61.0" r="0.95" fill="#0c0cf2"/>
<circle cx="431.3" cy="50.4" r="0.95" fill="#0c0cf2"/>
<circle cx="439.3" cy="66.2" r="0.95" fill="#0c0cf2"/>
<circle cx="432.8" cy="47.6" r="0.95" fill="#0c0cf2"/>
<circle cx="439.2" cy="45.5" r="0.95" fill="#0c0cf2"/>
<circle cx="436.0" cy="58.2" r="0.95" fill="#0c0cf2"/>
<circle cx="433.1" cy="61.2" r="0.95" fill="#0c0cf2"/>
<circle cx="434.1" cy="50.4" r="0.95" fill="#0c0cf2"/>
<circle cx="438.0" cy="53.2" r="0.95" fill="#0c0cf2"/>
<circle cx="441.4" cy="57.8" r="0.95" fill="#0c0cf2"/>
<circle cx="440.7" cy="49.3" r="0.95" fill="#0c0cf2"/>
<circle cx="437.3" cy="51.3" r="0.95" fill="#0c0cf2"/>
<circle cx="441.2" cy="55.3" r="0.95" fill="#0c0cf2"/>
<circle cx="438.5" cy="49.2" r="0.95" fill="#0c0cf2"/>
<circle cx="434.0" cy="45.2" r="0.95" fill="#0c0cf2"/>
<circle cx="438.3" cy="66.4" r="0.95" fill="#0c0cf2"/>
<circle cx="436.5" cy="44.3" r="0.95" fill="#0c0cf2"/>
<circle cx="437.6" cy="72.2" r="0.95" fill="#0c0cf2"/>
<circle cx="437.0" cy="63.7" r="0.95" fill="#0c0cf2"/>
<circle cx="440.1" cy="52.6" r="0.95" fill="#0c0cf2"/>
<circle cx="437.7" cy="64.4" r="0.95" fill="#0c0cf2"/>
<circle cx="436.2" cy="41.3" r="0.95" fill="#0c0cf2"/>
<circle cx="441.2" cy="55.1" r="0.95" fill="#0c0cf2"/>
<circle cx="436.5" cy="50.5" r="0.95" fill="#0c0cf2"/>
<circle cx="432.6" cy="49.4" r="0.95" fill="#0c0cf2"/>
<circle cx="435.8" cy="65.8" r="0.95" fill="#0c0cf2"/>
<circle cx="437.9" cy="38.7" r="0.95" fill="#0c0cf2"/>
<circle cx="439.2" cy="64.5" r="0.95" fill="#0c0cf2"/>
<circle cx="437.5" cy="42.2" r="0.95" fill="#0c0cf2"/>
<circle cx="433.2" cy="58.1" r="0.95" fill="#0c0cf2"/>
<circle cx="431.5" cy="49.0" r="0.95" fill="#0c0cf2"/>
<circle cx="433.2" cy="54.5" r="0.95" fill="#0c0cf2"/>
<circle cx="437.0" cy="67.3" r="0.95" fill="#0c0cf2"/>
<circle cx="439.4" cy="62.0" r="0.95" fill="#0c0cf2"/>
<circle cx="439.2" cy="43.2" r="0.95" fill="#0c0cf2"/>
<circle cx="438.4" cy="49.5" r="0.95" fill="#0c0cf2"/>
<circle cx="435.8" cy="53.5" r="0.95" fill="#0c0cf2"/>
<circle cx="436.2" cy="59.5" r="0.95" fill="#0c0cf2"/>
<circle cx="437.4" cy="34.1" r="0.95" fill="#0c0cf2"/>
<circle cx="440.2" cy="64.5" r="0.95" fill="#0c0cf2"/>
<circle cx="436.5" cy="63.6" r="0.95" fill="#0c0cf2"/>
<circle cx="437.5" cy="69.3" r="0.95" fill="#0c0cf2"/>
<circle cx="440.8" cy="47.0" r="0.95" fill="#0c0cf2"/>
<circle cx="442.5" cy="47.2" r="0.95" fill="#0c0cf2"/>
<circle cx="440.9" cy="63.2" r="0.95" fill="#0c0cf2"/>
<circle cx="433.6" cy="54.2" r="0.95" fill="#0c0cf2"/>
<circle cx="440.5" cy="48.0" r="0.95" fill="#0c0cf2"/>
<circle cx="436.9" cy="35.9" r="0.95" fill="#0c0cf2"/>
<circle cx="440.4" cy="47.2" r="0.95" fill="#0c0cf2"/>
<circle cx="432.1" cy="58.1" r="0.95" fill="#0c0cf2"/>
<circle cx="441.8" cy="59.9" r="0.95" fill="#0c0cf2"/>
<circle cx="441.3" cy="50.6" r="0.95" fill="#0c0cf2"/>
<circle cx="437.6" cy="66.9" r="0.95" fill="#0c0cf2"/>
<circle cx="440.6" cy="54.1" r="0.95" fill="#0c0cf2"/>
<circle cx="433.4" cy="54.2" r="0.95" fill="#0c0cf2"/>
<circle cx="438.7" cy="51.5" r="0.95" fill="#0c0cf2"/>
<circle cx="436.2" cy="51.8" r="0.95" fill="#0c0cf2"/>
<circle cx="432.3" cy="50.6" r="0.95" fill="#0c0cf2"/>
<circle cx="434.5" cy="62.7" r="0.95" fill="#0c0cf2"/>
<circle cx="443.4" cy="52.5" r="0.95" fill="#0c0cf2"/>
<circle cx="433.5" cy="47.5" r="0.95" fill="#0c0cf2"/>
<circle cx="434.7" cy="52.4" r="0.95" fill="#0c0cf2"/>
<circle cx="439.3" cy="67.1" r="0.95" fill="#0c0cf2"/>
<circle cx="436.6" cy="57.1" r="0.95" fill="#0c0cf2"/>
<circle cx="439.1" cy="43.6" r="0.95" fill="#0c0cf2"/>
<circle cx="438.5" cy="52.1" r="0.95" fill="#0c0cf2"/>
<circle cx="431.8" cy="53.0" r="0.95" fill="#0c0cf2"/>
<circle cx="437.3" cy="35.6" r="0.95" fill="#0c0cf2"/>
<circle cx="436.3" cy="69.5" r="0.95" fill="#0c0cf2"/>
<circle cx="436.2" cy="66.7" r="0.95" fill="#0c0cf2"/>
<circle cx="436.4" cy="43.4" r="0.95" fill="#0c0cf2"/>
<circle cx="436.8" cy="55.1" r="0.95" fill="#0c0cf2"/>
<circle cx="437.3" cy="49.6" r="0.95" fill="#0c0cf2"/>
<circle cx="441.8" cy="47.0" r="0.95" fill="#0c0cf2"/>
<circle cx="441.7" cy="48.7" r="0.95" fill="#0c0cf2"/>
<circle cx="438.3" cy="40.4" r="0.95" fill="#0c0cf2"/>
<circle cx="436.0" cy="58.5" r="0.95" fill="#0c0cf2"/>
<circle cx="432.0" cy="50.7" r="0.95" fill="#0c0cf2"/>
<circle cx="434.2" cy="58.7" r="0.95" fill="#0c0cf2"/>
<circle cx="437.5" cy="62.5" r="0.95" fill="#0c0cf2"/>
<circle cx="431.7" cy="55.5" r="0.95" fill="#0c0cf2"/>
<circle cx="430.9" cy="50.1" r="0.95" fill="#0c0cf2"/>
<circle cx="435.7" cy="44.8" r="0.95" fill="#0c0cf2"/>
<circle cx="433.5" cy="57.5" r="0.95" fill="#0c0cf2"/>
<circle cx="442.5" cy="58.2" r="0.95" fill="#0c0cf2"/>
<circle cx="433.4" cy="61.4" r="0.95" fill="#0c0cf2"/>
<circle cx="437.4" cy="44.7" r="0.95" fill="#0c0cf2"/>
<circle cx="438.2" cy="39.8" r="0.95" fill="#0c0cf2"/>
<circle cx="439.8" cy="65.2" r="0.95" fill="#0c0cf2"/>
<circle cx="437.4" cy="56.2" r="0.95" fill="#0c0cf2"/>
<circle cx="435.7" cy="43.0" r="0.95" fill="#0c0cf2"/>
<circle cx="437.9" cy="59.1" r="0.95" fill="#0c0cf2"/>
<circle cx="436.1" cy="40.8" r="0.95" fill="#0c0cf2"/>
<circle cx="433.5" cy="56.9" r="0.95" fill="#0c0cf2"/>
<circle cx="435.0" cy="54.9" r="0.95" fill="#0c0cf2"/>
<circle cx="441.8" cy="59.3" r="0.95" fill="#0c0cf2"/>
<circle cx="437.2" cy="42.9" r="0.95" fill="#0c0cf2"/>
<circle cx="435.7" cy="66.4" r="0.95" fill="#0c0cf2"/>
<circle cx="437.6" cy="68.0" r="0.95" fill="#0c0cf2"/>
<circle cx="436.9" cy="71.8" r="0.95" fill="#0c0cf2"/>
<circle cx="433.0" cy="60.8" r="0.95" fill="#0c0cf2"/>
<circle cx="431.4" cy="49.6" r="0.95" fill="#0c0cf2"/>
<circle cx="438.3" cy="71.1" r="0.95" fill="#0c0cf2"/>
<circle cx="432.0" cy="56.5" r="0.95" fill="#0c0cf2"/>
<circle cx="438.6" cy="59.4" r="0.95" fill="#0c0cf2"/>
<circle cx="434.3" cy="57.7" r="0.95" fill="#0c0cf2"/>
<circle cx="438.3" cy="47.0" r="0.95" fill="#0c0cf2"/>
<circle cx="438.1" cy="64.0" r="0.95" fill="#0c0cf2"/>
<circle cx="437.5" cy="57.5" r="0.95" fill="#0c0cf2"/>
<circle cx="438.6" cy="47.3" r="0.95" fill="#0c0cf2"/>
<circle cx="432.0" cy="51.1" r="0.95" fill="#0c0cf2"/>
<circle cx="434.1" cy="45.2" r="0.95" fill="#0c0cf2"/>
<circle cx="436.4" cy="52.3" r="0.95" fill="#0c0cf2"/>
<circle cx="437.3" cy="72.6" r="0.95" fill="#0c0cf2"/>
<circle cx="436.9" cy="51.2" r="0.95" fill="#0c0cf2"/>
<circle cx="440.9" cy="51.4" r="0.95" fill="#0c0cf2"/>
<circle cx="437.3" cy="62.3" r="0.95" fill="#0c0cf2"/>
<circle cx="438.4" cy="42.6" r="0.95" fill="#0c0cf2"/>
<circle cx="435.1" cy="44.2" r="0.95" fill="#0c0cf2"/>
<circle cx="439.8" cy="60.4" r="0.95" fill="#0c0cf2"/>
<circle cx="436.1" cy="44.7" r="0.95" fill="#0c0cf2"/>
<circle cx="441.9" cy="56.5" r="0.95" fill="#0c0cf2"/>
<circle cx="435.6" cy="62.7" r="0.95" fill="#0c0cf2"/>
<circle cx="442.9" cy="55.2" r="0.95" fill="#0c0cf2"/>
<circle cx="435.2" cy="42.3" r="0.95" fill="#0c0cf2"/>
<circle cx="437.9" cy="46.9" r="0.95" fill="#0c0cf2"/>
<circle cx="436.9" cy="54.6" r="0.95" fill="#0c0cf2"/>
<circle cx="435.8" cy="69.1" r="0.95" fill="#0c0cf2"/>
<circle cx="441.5" cy="57.5" r="0.95" fill="#0c0cf2"/>
<circle cx="433.3" cy="58.7" r="0.95" fill="#0c0cf2"/>
<circle cx="439.4" cy="56.1" r="0.95" fill="#0c0cf2"/>
<circle cx="442.0" cy="49.8" r="0.95" fill="#0c0cf2"/>
<circle cx="431.4" cy="56.3" r="0.95" fill="#0c0cf2"/>
<circle cx="437.4" cy="34.9" r="0.95" fill="#0c0cf2"/>
<circle cx="438.3" cy="51.8" r="0.95" fill="#0c0cf2"/>
<circle cx="435.8" cy="62.3" r="0.95" fill="#0c0cf2"/>
<circle cx="440.9" cy="46.9" r="0.95" fill="#0c0cf2"/>
<circle cx="432.4" cy="57.3" r="0.95" fill="#0c0cf2"/>
<circle cx="435.4" cy="59.3" r="0.95" fill="#0c0cf2"/>
<circle cx="439.1" cy="45.5" r="0.95" fill="#0c0cf2"/>
<circle cx="439.9" cy="64.3" r="0.95" fill="#0c0cf2"/>
<circle cx="439.3" cy="48.0" r="0.95" fill="#0c0cf2"/>
<circle cx="437.8" cy="69.7" r="0.95" fill="#0c0cf2"/>
<circle cx="443.6" cy="50.4" r="0.95" fill="#0c0cf2"/>
<circle cx="439.0" cy="56.4" r="0.95" fill="#0c0cf2"/>
<circle cx="436.2" cy="68.6" r="0.95" fill="#0c0cf2"/>
<circle cx="436.6" cy="62.9" r="0.95" fill="#0c0cf2"/>
<circle cx="433.5" cy="53.5" r="0.95" fill="#0c0cf2"/>
<circle cx="432.4" cy="46.7" r="0.95" fill="#0c0cf2"/>
<circle cx="442.6" cy="56.6" r="0.95" fill="#0c0cf2"/>
<circle cx="439.3" cy="55.9" r="0.95" fill="#0c0cf2"/>
<circle cx="436.7" cy="41.3" r="0.95" fill="#0c0cf2"/>
<circle cx="435.8" cy="51.2" r="0.95" fill="#0c0cf2"/>
<circle cx="437.5" cy="67.0" r="0.95" fill="#0c0cf2"/>
<circle cx="440.3" cy="54.6" r="0.95" fill="#0c0cf2"/>
<circle cx="433.7" cy="46.3" r="0.95" fill="#0c0cf2"/>
<circle cx="436.4" cy="57.4" r="0.95" fill="#0c0cf2"/>
<circle cx="438.1" cy="52.8" r="0.95" fill="#0c0cf2"/>
<circle cx="434.8" cy="66.7" r="0.95" fill="#0c0cf2"/>
<circle cx="434.4" cy="53.5" r="0.95" fill="#0c0cf2"/>
<circle cx="437.6" cy="37.1" r="0.95" fill="#0c0cf2"/>
<circle cx="433.7" cy="45.5" r="0.95" fill="#0c0cf2"/>
<circle cx="433.2" cy="46.1" r="0.95" fill="#0c0cf2"/>
<circle cx="436.7" cy="68.9" r="0.95" fill="#0c0cf2"/>
<circle cx="438.6" cy="50.6" r="0.95" fill="#0c0cf2"/>
<circle cx="434.4" cy="50.5" r="0.95" fill="#0c0cf2"/>
<circle cx="437.0" cy="70.9" r="0.95" fill="#0c0cf2"/>
<circle cx="441.9" cy="47.1" r="0.95" fill="#0c0cf2"/>
<circle cx="431.9" cy="56.7" r="0.95" fill="#0c0cf2"/>
<circle cx="436.6" cy="68.5" r="0.95" fill="#0c0cf2"/>
<circle cx="438.3" cy="66.5" r="0.95" fill="#0c0cf2"/>
<circle cx="436.3" cy="45.6" r="0.95" fill="#0c0cf2"/>
<circle cx="443.1" cy="53.2" r="0.95" fill="#0c0cf2"/>
<circle cx="431.6" cy="48.1" r="0.95" fill="#0c0cf2"/>
<circle cx="440.5" cy="58.8" r="0.95" fill="#0c0cf2"/>
<circle cx="439.6" cy="48.0" r="0.95" fill="#0c0cf2"/>
<circle cx="440.3" cy="46.1" r="0.95" fill="#0c0cf2"/>
<circle cx="435.1" cy="48.6" r="0.95" fill="#0c0cf2"/>
<circle cx="436.6" cy="44.4" r="0.95" fill="#0c0cf2"/>
<circle cx="441.5" cy="59.2" r="0.95" fill="#0c0cf2"/>
<circle cx="434.5" cy="48.9" r="0.95" fill="#0c0cf2"/>
<circle cx="436.9" cy="51.6" r="0.95" fill="#0c0cf2"/>
<circle cx="443.0" cy="48.7" r="0.95" fill="#0c0cf2"/>
<circle cx="438.8" cy="51.0" r="0.95" fill="#0c0cf2"/>
<circle cx="443.3" cy="49.4" r="0.95" fill="#0c0cf2"/>
<circle cx="439.3" cy="50.5" r="0.95" fill="#0c0cf2"/>
<circle cx="437.7" cy="59.0" r="0.95" fill="#0c0cf2"/>
<circle cx="439.4" cy="46.2" r="0.95" fill="#0c0cf2"/>
<circle cx="442.4" cy="58.4" r="0.95" fill="#0c0cf2"/>
<circle cx="438.4" cy="50.3" r="0.95" fill="#0c0cf2"/>
<circle cx="437.8" cy="43.1" r="0.95" fill="#0c0cf2"/>
<circle cx="436.8" cy="44.0" r="0.95" fill="#0c0cf2"/>
<circle cx="436.7" cy="66.1" r="0.95" fill="#0c0cf2"/>
<circle cx="437.1" cy="39.0" r="0.95" fill="#0c0cf2"/>
<circle cx="432.3" cy="48.6" r="0.95" fill="#0c0cf2"/>
<circle cx="437.4" cy="64.3" r="0.95" fill="#0c0cf2"/>
<circle cx="435.8" cy="42.2" r="0.95" fill="#0c0cf2"/>
<circle cx="438.5" cy="47.1" r="0.95" fill="#0c0cf2"/>
<circle cx="433.0" cy="48.7" r="0.95" fill="#0c0cf2"/>
<circle cx="435.5" cy="63.3" r="0.95" fill="#0c0cf2"/>
<circle cx="436.9" cy="44.0" r="0.95" fill="#0c0cf2"/>
<circle cx="437.6" cy="68.5" r="0.95" fill="#0c0cf2"/>
<circle cx="438.2" cy="44.2" r="0.95" fill="#0c0cf2"/>
<circle cx="441.0" cy="55.3" r="0.95" fill="#0c0cf2"/>
<circle cx="439.7" cy="61.0" r="0.95" fill="#0c0cf2"/>
<circle cx="434.3" cy="55.2" r="0.95" fill="#0c0cf2"/>
<circle cx="432.2" cy="54.1" r="0.95" fill="#0c0cf2"/>
<circle cx="434.3" cy="52.2" r="0.95" fill="#0c0cf2"/>
<circle cx="438.9" cy="48.2" r="0.95" fill="#0c0cf2"/>
<circle cx="437.4" cy="72.8" r="0.95" fill="#0c0cf2"/>
<circle cx="443.9" cy="51.8" r="0.95" fill="#0c0cf2"/>
<circle cx="435.1" cy="57.2" r="0.95" fill="#0c0cf2"/>
<circle cx="441.1" cy="55.7" r="0.95" fill="#0c0cf2"/>
<circle cx="438.6" cy="69.7" r="0.95" fill="#0c0cf2"/>
<circle cx="435.4" cy="48.0" r="0.95" fill="#0c0cf2"/>
<circle cx="439.8" cy="45.4" r="0.95" fill="#0c0cf2"/>
<circle cx="437.7" cy="66.1" r="0.95" fill="#0c0cf2"/>
<circle cx="439.5" cy="54.0" r="0.95" fill="#0c0cf2"/>
<circle cx="438.1" cy="57.2" r="0.95" fill="#0c0cf2"/>
<circle cx="432.7" cy="56.8" r="0.95" fill="#0c0cf2"/>
<circle cx="435.3" cy="61.4" r="0.95" fill="#0c0cf2"/>
<circle cx="440.8" cy="63.3" r="0.95" fill="#0c0cf2"/>
<circle cx="436.2" cy="59.0" r="0.95" fill="#0c0cf2"/>
<circle cx="436.9" cy="34.3" r="0.95" fill="#0c0cf2"/>
<circle cx="440.2" cy="63.3" r="0.95" fill="#0c0cf2"/>
<circle cx="437.8" cy="39.4" r="0.95" fill="#0c0cf2"/>
<circle cx="437.8" cy="64.1" r="0.95" fill="#0c0cf2"/>
<circle cx="437.0" cy="33.3" r="0.95" fill="#0c0cf2"/>
<circle cx="433.0" cy="61.3" r="0.95" fill="#0c0cf2"/>
<circle cx="432.8" cy="57.0" r="0.95" fill="#0c0cf2"/>
<circle cx="437.5" cy="37.2" r="0.95" fill="#0c0cf2"/>
<circle cx="436.5" cy="60.5" r="0.95" fill="#0c0cf2"/>
<circle cx="433.8" cy="55.8" r="0.95" fill="#0c0cf2"/>
<circle cx="438.3" cy="44.1" r="0.95" fill="#0c0cf2"/>
<circle cx="437.7" cy="64.9" r="0.95" fill="#0c0cf2"/>
<circle cx="431.6" cy="55.9" r="0.95" fill="#0c0cf2"/>
<circle cx="440.6" cy="53.0" r="0.95" fill="#0c0cf2"/>
<circle cx="435.9" cy="68.4" r="0.95" fill="#0c0cf2"/>
<circle cx="434.6" cy="47.0" r="0.95" fill="#0c0cf2"/>
<circle cx="436.0" cy="46.0" r="0.95" fill="#0c0cf2"/>
<circle cx="435.7" cy="65.6" r="0.95" fill="#0c0cf2"/>
<circle cx="433.5" cy="45.7" r="0.95" fill="#0c0cf2"/>
<circle cx="437.6" cy="62.8" r="0.95" fill="#0c0cf2"/>
<circle cx="433.6" cy="46.9" r="0.95" fill="#0c0cf2"/>
<circle cx="437.8" cy="62.6" r="0.95" fill="#0c0cf2"/>
<circle cx="434.5" cy="51.7" r="0.95" fill="#0c0cf2"/>
<circle cx="440.0" cy="56.8" r="0.95" fill="#0c0cf2"/>
<circle cx="442.3" cy="56.4" r="0.95" fill="#0c0cf2"/>
<circle cx="435.1" cy="51.4" r="0.95" fill="#0c0cf2"/>
<circle cx="436.5" cy="54.3" r="0.95" fill="#0c0cf2"/>
<circle cx="440.7" cy="57.5" r="0.95" fill="#0c0cf2"/>
<circle cx="440.4" cy="44.9" r="0.95" fill="#0c0cf2"/>
<circle cx="437.0" cy="66.8" r="0.95" fill="#0c0cf2"/>
<circle cx="435.2" cy="62.9" r="0.95" fill="#0c0cf2"/>
<circle cx="434.2" cy="46.9" r="0.95" fill="#0c0cf2"/>
<circle cx="442.4" cy="47.5" r="0.95" fill="#0c0cf2"/>
<circle cx="434.2" cy="51.5" r="0.95" fill="#0c0cf2"/>
<circle cx="436.0" cy="61.1" r="0.95" fill="#0c0cf2"/>
<circle cx="437.1" cy="54.3" r="0.95" fill="#0c0cf2"/>
<circle cx="434.5" cy="49.5" r="0.95" fill="#0c0cf2"/>
<circle cx="436.1" cy="60.8" r="0.95" fill="#0c0cf2"/>
<circle cx="436.9" cy="46.6" r="0.95" fill="#0c0cf2"/>
<circle cx="441.6" cy="59.2" r="0.95" fill="#0c0cf2"/>
<circle cx="438.0" cy="60.5" r="0.95" fill="#0c0cf2"/>
<circle cx="435.3" cy="43.4" r="0.95" fill="#0c0cf2"/>
<circle cx="431.9" cy="55.5" r="0.95" fill="#0c0cf2"/>
<circle cx="439.0" cy="55.9" r="0.95" fill="#0c0cf2"/>
<circle cx="438.2" cy="70.3" r="0.95" fill="#0c0cf2"/>
<circle cx="437.6" cy="49.3" r="0.95" fill="#0c0cf2"/>
<circle cx="432.4" cy="53.0" r="0.95" fill="#0c0cf2"/>
<circle cx="437.3" cy="67.8" r="0.95" fill="#0c0cf2"/>
<circle cx="434.0" cy="44.7" r="0.95" fill="#0c0cf2"/>
<circle cx="439.8" cy="65.9" r="0.95" fill="#0c0cf2"/>
<circle cx="440.0" cy="50.6" r="0.95" fill="#0c0cf2"/>
<circle cx="435.5" cy="50.3" r="0.95" fill="#0c0cf2"/>
<circle cx="437.8" cy="73.2" r="0.95" fill="#0c0cf2"/>
<circle cx="436.7" cy="51.3" r="0.95" fill="#0c0cf2"/>
<circle cx="431.7" cy="48.0" r="0.95" fill="#0c0cf2"/>
<circle cx="432.5" cy="47.1" r="0.95" fill="#0c0cf2"/>
<circle cx="442.1" cy="58.8" r="0.95" fill="#0c0cf2"/>
<circle cx="441.8" cy="57.2" r="0.95" fill="#0c0cf2"/>
<circle cx="435.0" cy="47.8" r="0.95" fill="#0c0cf2"/>
<circle cx="439.7" cy="53.7" r="0.95" fill="#0c0cf2"/>
<circle cx="440.9" cy="48.9" r="0.95" fill="#0c0cf2"/>
<circle cx="437.4" cy="63.3" r="0.95" fill="#0c0cf2"/>
<circle cx="434.4" cy="50.5" r="0.95" fill="#0c0cf2"/>
<circle cx="440.4" cy="56.7" r="0.95" fill="#0c0cf2"/>
<circle cx="438.8" cy="66.5" r="0.95" fill="#0c0cf2"/>
<circle cx="439.7" cy="47.9" r="0.95" fill="#0c0cf2"/>
<circle cx="436.5" cy="69.0" r="0.95" fill="#0c0cf2"/>
<circle cx="435.7" cy="53.6" r="0.95" fill="#0c0cf2"/>
<circle cx="439.6" cy="57.3" r="0.95" fill="#0c0cf2"/>
<circle cx="442.1" cy="48.5" r="0.95" fill="#0c0cf2"/>
<circle cx="434.3" cy="58.8" r="0.95" fill="#0c0cf2"/>
<circle cx="432.5" cy="59.4" r="0.95" fill="#0c0cf2"/>
<circle cx="432.3" cy="56.0" r="0.95" fill="#0c0cf2"/>
<circle cx="438.9" cy="64.3" r="0.95" fill="#0c0cf2"/>
<circle cx="434.5" cy="53.1" r="0.95" fill="#0c0cf2"/>
<circle cx="436.8" cy="35.5" r="0.95" fill="#0c0cf2"/>
<circle cx="435.3" cy="66.7" r="0.95" fill="#0c0cf2"/>
<circle cx="431.5" cy="55.6" r="0.95" fill="#0c0cf2"/>
<circle cx="433.6" cy="56.5" r="0.95" fill="#0c0cf2"/>
<circle cx="440.3" cy="56.3" r="0.95" fill="#0c0cf2"/>
<circle cx="436.5" cy="38.9" r="0.95" fill="#0c0cf2"/>
<circle cx="440.4" cy="48.9" r="0.95" fill="#0c0cf2"/>
<circle cx="438.0" cy="42.9" r="0.95" fill="#0c0cf2"/>
<circle cx="436.9" cy="57.5" r="0.95" fill="#0c0cf2"/>
<circle cx="434.5" cy="64.1" r="0.95" fill="#0c0cf2"/>
<circle cx="440.3" cy="57.9" r="0.95" fill="#0c0cf2"/>
<circle cx="435.2" cy="62.5" r="0.95" fill="#0c0cf2"/>
<circle cx="443.6" cy="49.9" r="0.95" fill="#0c0cf2"/>
<circle cx="437.7" cy="38.0" r="0.95" fill="#0c0cf2"/>
<circle cx="436.7" cy="51.8" r="0.95" fill="#0c0cf2"/>
<circle cx="439.1" cy="46.0" r="0.95" fill="#0c0cf2"/>
<circle cx="439.7" cy="49.4" r="0.95" fill="#0c0cf2"/>
<circle cx="436.1" cy="47.7" r="0.95" fill="#0c0cf2"/>
<circle cx="437.1" cy="46.4" r="0.95" fill="#0c0cf2"/>
<circle cx="437.9" cy="58.5" r="0.95" fill="#0c0cf2"/>
<circle cx="433.8" cy="56.3" r="0.95" fill="#0c0cf2"/>
<circle cx="436.9" cy="62.9" r="0.95" fill="#0c0cf2"/>
<circle cx="436.5" cy="71.7" r="0.95" fill="#0c0cf2"/>
<circle cx="433.6" cy="47.8" r="0.95" fill="#0c0cf2"/>
<circle cx="437.0" cy="68.0" r="0.95" fill="#0c0cf2"/>
<circle cx="440.7" cy="60.9" r="0.95" fill="#0c0cf2"/>
<circle cx="438.1" cy="55.1" r="0.95" fill="#0c0cf2"/>
<circle cx="436.5" cy="70.5" r="0.95" fill="#0c0cf2"/>
<circle cx="442.1" cy="54.1" r="0.95" fill="#0c0cf2"/>
<circle cx="437.6" cy="37.4" r="0.95" fill="#0c0cf2"/>
<circle cx="437.4" cy="44.2" r="0.95" fill="#0c0cf2"/>
<circle cx="431.6" cy="49.5" r="0.95" fill="#0c0cf2"/>
<circle cx="436.1" cy="58.8" r="0.95" fill="#0c0cf2"/>
<circle cx="433.6" cy="55.2" r="0.95" fill="#0c0cf2"/>
<circle cx="441.9" cy="58.5" r="0.95" fill="#0c0cf2"/>
<circle cx="437.0" cy="36.1" r="0.95" fill="#0c0cf2"/>
<circle cx="431.9" cy="48.2" r="0.95" fill="#0c0cf2"/>
<circle cx="431.1" cy="55.1" r="0.95" fill="#0c0cf2"/>
<circle cx="435.5" cy="57.4" r="0.95" fill="#0c0cf2"/>
<circle cx="456.7" cy="56.5" r="0.95" fill="#f20c0c"/>
<circle cx="459.5" cy="42.9" r="0.95" fill="#f20c0c"/>
<circle cx="461.1" cy="53.1" r="0.95" fill="#f20c0c"/>
<circle cx="458.6" cy="84.9" r="0.95" fill="#f20c0c"/>
<circle cx="460.2" cy="68.0" r="0.95" fill="#f20c0c"/>
<circle cx="459.7" cy="45.8" r="0.95" fill="#f20c0c"/>
<circle cx="459.3" cy="74.7" r="0.95" fill="#f20c0c"/>
<circle cx="452.4" cy="56.8" r="0.95" fill="#f20c0c"/>
<circle cx="458.3" cy="85.8" r="0.95" fill="#f20c0c"/>
<circle cx="453.6" cy="53.7" r="0.95" fill="#f20c0c"/>
<circle cx="459.1" cy="53.5" r="0.95" fill="#f20c0c"/>
<circle cx="455.3" cy="63.5" r="0.95" fill="#f20c0c"/>
<circle cx="460.4" cy="57.2" r="0.95" fill="#f20c0c"/>
<circle cx="461.2" cy="52.7" r="0.95" fill="#f20c0c"/>
<circle cx="455.9" cy="58.2" r="0.95" fill="#f20c0c"/>
<circle cx="456.4" cy="62.1" r="0.95" fill="#f20c0c"/>
<circle cx="456.7" cy="53.4" r="0.95" fill="#f20c0c"/>
<circle cx="457.2" cy="71.0" r="0.95" fill="#f20c0c"/>
<circle cx="457.0" cy="66.9" r="0.95" fill="#f20c0c"/>
<circle cx="459.1" cy="66.9" r="0.95" fill="#f20c0c"/>
<circle cx="456.8" cy="62.7" r="0.95" fill="#f20c0c"/>
<circle cx="455.8" cy="51.6" r="0.95" fill="#f20c0c"/>
<circle cx="456.3" cy="64.8" r="0.95" fill="#f20c0c"/>
<circle cx="454.7" cy="50.2" r="0.95" fill="#f20c0c"/>
<circle cx="462.2" cy="49.2" r="0.95" fill="#f20c0c"/>
<circle cx="463.0" cy="57.7" r="0.95" fill="#f20c0c"/>
<circle cx="455.2" cy="50.1" r="0.95" fill="#f20c0c"/>
<circle cx="460.4" cy="48.7" r="0.95" fill="#f20c0c"/>
<circle cx="459.6" cy="60.2" r="0.95" fill="#f20c0c"/>
<circle cx="458.9" cy="83.9" r="0.95" fill="#f20c0c"/>
<circle cx="457.4" cy="45.7" r="0.95" fill="#f20c0c"/>
<circle cx="458.8" cy="56.2" r="0.95" fill="#f20c0c"/>
<circle cx="458.6" cy="47.4" r="0.95" fill="#f20c0c"/>
<circle cx="458.5" cy="58.7" r="0.95" fill="#f20c0c"/>
<circle cx="459.0" cy="59.6" r="0.95" fill="#f20c0c"/>
<circle cx="459.4" cy="57.3" r="0.95" fill="#f20c0c"/>
<circle cx="457.2" cy="44.9" r="0.95" fill="#f20c0c"/>
<circle cx="455.6" cy="64.5" r="0.95" fill="#f20c0c"/>
<circle cx="456.0" cy="57.6" r="0.95" fill="#f20c0c"/>
<circle cx="461.6" cy="59.8" r="0.95" fill="#f20c0c"/>
<circle cx="458.4" cy="63.2" r="0.95" fill="#f20c0c"/>
<circle cx="458.2" cy="77.1" r="0.95" fill="#f20c0c"/>
<circle cx="460.8" cy="55.9" r="0.95" fill="#f20c0c"/>
<circle cx="458.7" cy="77.8" r="0.95" fill="#f20c0c"/>
<circle cx="461.0" cy="50.3" r="0.95" fill="#f20c0c"/>
<circle cx="452.7" cy="56.6" r="0.95" fill="#f20c0c"/>
<circle cx="459.1" cy="50.4" r="0.95" fill="#f20c0c"/>
<circle cx="459.8" cy="54.9" r="0.95" fill="#f20c0c"/>
<circle cx="457.8" cy="76.9" r="0.95" fill="#f20c0c"/>
<circle cx="458.4" cy="84.0" r="0.95" fill="#f20c0c"/>
<circle cx="454.9" cy="57.1" r="0.95" fill="#f20c0c"/>
<circle cx="459.5" cy="52.8" r="0.95" fill="#f20c0c"/>
<circle cx="459.9" cy="53.6" r="0.95" fill="#f20c0c"/>
<circle cx="458.1" cy="76.7" r="0.95" fill="#f20c0c"/>
<circle cx="459.5" cy="56.1" r="0.95" fill="#f20c0c"/>
<circle cx="462.3" cy="50.9" r="0.95" fill="#f20c0c"/>
<circle cx="460.0" cy="71.8" r="0.95" fill="#f20c0c"/>
<circle cx="460.3" cy="58.0" r="0.95" fill="#f20c0c"/>
<circle cx="458.8" cy="55.9" r="0.95" fill="#f20c0c"/>
<circle cx="458.5" cy="76.7" r="0.95" fill="#f20c0c"/>
<circle cx="458.5" cy="66.6" r="0.95" fill="#f20c0c"/>
<circle cx="456.4" cy="43.7" r="0.95" fill="#f20c0c"/>
<circle cx="457.6" cy="83.0" r="0.95" fill="#f20c0c"/>
<circle cx="454.8" cy="56.5" r="0.95" fill="#f20c0c"/>
<circle cx="458.1" cy="50.1" r="0.95" fill="#f20c0c"/>
<circle cx="457.3" cy="77.4" r="0.95" fill="#f20c0c"/>
<circle cx="454.9" cy="55.8" r="0.95" fill="#f20c0c"/>
<circle cx="459.0" cy="63.9" r="0.95" fill="#f20c0c"/>
<circle cx="456.2" cy="66.8" r="0.95" fill="#f20c0c"/>
<circle cx="454.4" cy="50.8" r="0.95" fill="#f20c0c"/>
<circle cx="458.3" cy="85.0" r="0.95" fill="#f20c0c"/>
<circle cx="454.9" cy="59.4" r="0.95" fill="#f20c0c"/>
<circle cx="455.8" cy="45.8" r="0.95" fill="#f20c0c"/>
<circle cx="460.2" cy="58.6" r="0.95" fill="#f20c0c"/>
<circle cx="458.3" cy="43.7" r="0.95" fill="#f20c0c"/>
<circle cx="458.6" cy="84.3" r="0.95" fill="#f20c0c"/>
<circle cx="456.2" cy="63.0" r="0.95" fill="#f20c0c"/>
<circle cx="464.7" cy="54.9" r="0.95" fill="#f20c0c"/>
<circle cx="457.9" cy="69.6" r="0.95" fill="#f20c0c"/>
<circle cx="457.7" cy="69.3" r="0.95" fill="#f20c0c"/>
<circle cx="460.6" cy="64.3" r="0.95" fill="#f20c0c"/>
<circle cx="461.5" cy="51.6" r="0.95" fill="#f20c0c"/>
<circle cx="455.6" cy="47.5" r="0.95" fill="#f20c0c"/>
<circle cx="459.1" cy="73.2" r="0.95" fill="#f20c0c"/>
<circle cx="458.1" cy="75.5" r="0.95" fill="#f20c0c"/>
<circle cx="456.8" cy="54.2" r="0.95" fill="#f20c0c"/>
<circle cx="456.9" cy="55.0" r="0.95" fill="#f20c0c"/>
<circle cx="455.1" cy="55.3" r="0.95" fill="#f20c0c"/>
<circle cx="460.1" cy="52.7" r="0.95" fill="#f20c0c"/>
<circle cx="458.8" cy="80.0" r="0.95" fill="#f20c0c"/>
<circle cx="462.0" cy="58.5" r="0.95" fill="#f20c0c"/>
<circle cx="457.3" cy="64.9" r="0.95" fill="#f20c0c"/>
<circle cx="460.0" cy="60.6" r="0.95" fill="#f20c0c"/>
<circle cx="456.2" cy="47.3" r="0.95" fill="#f20c0c"/>
<circle cx="460.7" cy="46.5" r="0.95" fill="#f20c0c"/>
<circle cx="456.7" cy="49.4" r="0.95" fill="#f20c0c"/>
<circle cx="457.2" cy="57.6" r="0.95" fill="#f20c0c"/>
<circle cx="455.3" cy="61.4" r="0.95" fill="#f20c0c"/>
<circle cx="457.9" cy="86.8" r="0.95" fill="#f20c0c"/>
<circle cx="457.1" cy="76.7" r="0.95" fill="#f20c0c"/>
<circle cx="457.2" cy="66.2" r="0.95" fill="#f20c0c"/>
<circle cx="452.7" cy="55.0" r="0.95" fill="#f20c0c"/>
<circle cx="461.7" cy="54.3" r="0.95" fill="#f20c0c"/>
<circle cx="456.2" cy="64.3" r="0.95" fill="#f20c0c"/>
<circle cx="463.2" cy="54.4" r="0.95" fill="#f20c0c"/>
<circle cx="457.6" cy="67.7" r="0.95" fill="#f20c0c"/>
<circle cx="456.1" cy="65.6" r="0.95" fill="#f20c0c"/>
<circle cx="455.4" cy="48.5" r="0.95" fill="#f20c0c"/>
<circle cx="458.9" cy="69.9" r="0.95" fill="#f20c0c"/>
<circle cx="458.8" cy="47.4" r="0.95" fill="#f20c0c"/>
<circle cx="463.5" cy="53.6" r="0.95" fill="#f20c0c"/>
<circle cx="458.6" cy="83.8" r="0.95" fill="#f20c0c"/>
<circle cx="458.1" cy="62.3" r="0.95" fill="#f20c0c"/>
<circle cx="458.0" cy="73.2" r="0.95" fill="#f20c0c"/>
<circle cx="458.2" cy="78.8" r="0.95" fill="#f20c0c"/>
<circle cx="457.9" cy="52.6" r="0.95" fill="#f20c0c"/>
<circle cx="458.5" cy="69.4" r="0.95" fill="#f20c0c"/>
<circle cx="452.0" cy="55.0" r="0.95" fill="#f20c0c"/>
<circle cx="458.4" cy="46.2" r="0.95" fill="#f20c0c"/>
<circle cx="461.0" cy="47.9" r="0.95" fill="#f20c0c"/>
<circle cx="458.2" cy="48.5" r="0.95" fill="#f20c0c"/>
<circle cx="461.6" cy="61.7" r="0.95" fill="#f20c0c"/>
<circle cx="456.2" cy="62.2" r="0.95" fill="#f20c0c"/>
<circle cx="456.8" cy="72.5" r="0.95" fill="#f20c0c"/>
<circle cx="463.5" cy="53.1" r="0.95" fill="#f20c0c"/>
<circle cx="459.7" cy="67.6" r="0.95" fill="#f20c0c"/>
<circle cx="458.1" cy="52.5" r="0.95" fill="#f20c0c"/>
<circle cx="462.2" cy="53.6" r="0.95" fill="#f20c0c"/>
<circle cx="456.2" cy="62.5" r="0.95" fill="#f20c0c"/>
<circle cx="453.3" cy="55.3" r="0.95" fill="#f20c0c"/>
<circle cx="457.9" cy="87.2" r="0.95" fill="#f20c0c"/>
<circle cx="454.7" cy="53.8" r="0.95" fill="#f20c0c"/>
<circle cx="457.5" cy="51.7" r="0.95" fill="#f20c0c"/>
<circle cx="459.6" cy="75.0" r="0.95" fill="#f20c0c"/>
<circle cx="459.4" cy="74.5" r="0.95" fill="#f20c0c"/>
<circle cx="462.7" cy="49.9" r="0.95" fill="#f20c0c"/>
<circle cx="458.0" cy="54.0" r="0.95" fill="#f20c0c"/>
<circle cx="457.1" cy="57.7" r="0.95" fill="#f20c0c"/>
<circle cx="456.3" cy="46.2" r="0.95" fill="#f20c0c"/>
<circle cx="455.3" cy="54.9" r="0.95" fill="#f20c0c"/>
<circle cx="456.5" cy="67.8" r="0.95" fill="#f20c0c"/>
<circle cx="459.5" cy="67.6" r="0.95" fill="#f20c0c"/>
<circle cx="458.5" cy="49.4" r="0.95" fill="#f20c0c"/>
<circle cx="464.0" cy="53.4" r="0.95" fill="#f20c0c"/>
<circle cx="458.0" cy="52.6" r="0.95" fill="#f20c0c"/>
<circle cx="460.9" cy="63.8" r="0.95" fill="#f20c0c"/>
<circle cx="461.3" cy="48.9" r="0.95" fill="#f20c0c"/>
<circle cx="458.8" cy="85.2" r="0.95" fill="#f20c0c"/>
<circle cx="457.1" cy="48.4" r="0.95" fill="#f20c0c"/>
<circle cx="462.6" cy="58.4" r="0.95" fill="#f20c0c"/>
<circle cx="459.6" cy="64.7" r="0.95" fill="#f20c0c"/>
<circle cx="459.0" cy="81.0" r="0.95" fill="#f20c0c"/>
<circle cx="455.2" cy="61.2" r="0.95" fill="#f20c0c"/>
<circle cx="457.1" cy="73.0" r="0.95" fill="#f20c0c"/>
<circle cx="454.1" cy="58.4" r="0.95" fill="#f20c0c"/>
<circle cx="462.8" cy="51.4" r="0.95" fill="#f20c0c"/>
<circle cx="452.2" cy="56.0" r="0.95" fill="#f20c0c"/>
<circle cx="455.6" cy="60.9" r="0.95" fill="#f20c0c"/>
<circle cx="453.9" cy="58.5" r="0.95" fill="#f20c0c"/>
<circle cx="457.5" cy="68.4" r="0.95" fill="#f20c0c"/>
<circle cx="459.8" cy="58.5" r="0.95" fill="#f20c0c"/>
<circle cx="461.3" cy="55.0" r="0.95" fill="#f20c0c"/>
<circle cx="458.0" cy="58.1" r="0.95" fill="#f20c0c"/>
<circle cx="463.3" cy="58.1" r="0.95" fill="#f20c0c"/>
<circle cx="459.9" cy="43.3" r="0.95" fill="#f20c0c"/>
<circle cx="452.0" cy="54.0" r="0.95" fill="#f20c0c"/>
<circle cx="460.1" cy="59.6" r="0.95" fill="#f20c0c"/>
<circle cx="460.3" cy="64.9" r="0.95" fill="#f20c0c"/>
<circle cx="461.7" cy="56.1" r="0.95" fill="#f20c0c"/>
<circle cx="458.8" cy="66.8" r="0.95" fill="#f20c0c"/>
<line x1="423.20" y1="20.50" x2="423.20" y2="95.40" stroke="#444" stroke-width="1.4" />
<line x1="422.60" y1="94.80" x2="473.00" y2="94.80" stroke="#444" stroke-width="1.4" />
<line x1="420.90" y1="94.80" x2="423.20" y2="94.80" stroke="#444" stroke-width="0.9" />
<text x="419.90" y="96.75" font-size="5.4" font-weight="bold" text-anchor="end" fill="#333" stroke="#333" stroke-width="0.3" >8</text>
<line x1="420.90" y1="80.04" x2="423.20" y2="80.04" stroke="#444" stroke-width="0.9" />
<text x="419.90" y="81.99" font-size="5.4" font-weight="bold" text-anchor="end" fill="#333" stroke="#333" stroke-width="0.3" >10</text>
<line x1="420.90" y1="65.28" x2="423.20" y2="65.28" stroke="#444" stroke-width="0.9" />
<text x="419.90" y="67.23" font-size="5.4" font-weight="bold" text-anchor="end" fill="#333" stroke="#333" stroke-width="0.3" >12</text>
<line x1="420.90" y1="50.52" x2="423.20" y2="50.52" stroke="#444" stroke-width="0.9" />
<text x="419.90" y="52.47" font-size="5.4" font-weight="bold" text-anchor="end" fill="#333" stroke="#333" stroke-width="0.3" >14</text>
<line x1="420.90" y1="35.76" x2="423.20" y2="35.76" stroke="#444" stroke-width="0.9" />
<text x="419.90" y="37.71" font-size="5.4" font-weight="bold" text-anchor="end" fill="#333" stroke="#333" stroke-width="0.3" >16</text>
<line x1="420.90" y1="21.00" x2="423.20" y2="21.00" stroke="#444" stroke-width="0.9" />
<text x="419.90" y="22.95" font-size="5.4" font-weight="bold" text-anchor="end" fill="#333" stroke="#333" stroke-width="0.3" >18</text>
<line x1="437.50" y1="94.80" x2="437.50" y2="97.10" stroke="#444" stroke-width="0.9" />
<line x1="458.40" y1="94.80" x2="458.40" y2="97.10" stroke="#444" stroke-width="0.9" />
<text x="411.70" y="57.80" font-size="7.4" font-weight="bold" text-anchor="middle" fill="#111" stroke="#111" stroke-width="0.4" textLength="24.1" lengthAdjust="spacingAndGlyphs" transform="rotate(-90 411.70 57.80)" >THBS1</text>
<text x="436.00" y="28.40" font-size="5.4" font-weight="bold" text-anchor="start" fill="#222" stroke="#222" stroke-width="0.3" textLength="26.3" lengthAdjust="spacingAndGlyphs" >p=6.34x10</text>
<text x="462.80" y="26.70" font-size="2.9" font-weight="bold" text-anchor="start" fill="#555" stroke="#555" stroke-width="0.1" >-6</text>
<line x1="433.00" y1="30.20" x2="466.50" y2="30.20" stroke="#c8c8c8" stroke-width="1.0" />
<text x="433.70" y="105.70" font-size="6.6" font-weight="normal" text-anchor="middle" fill="#222" stroke="#222" stroke-width="0.22" textLength="28.4" lengthAdjust="spacingAndGlyphs" >Non-Basal</text>
<text x="433.70" y="111.70" font-size="6.6" font-weight="normal" text-anchor="middle" fill="#222" stroke="#222" stroke-width="0.22" textLength="21" lengthAdjust="spacingAndGlyphs" >(n=489)</text>
<text x="460.70" y="105.70" font-size="6.6" font-weight="normal" text-anchor="middle" fill="#222" stroke="#222" stroke-width="0.22" textLength="15.5" lengthAdjust="spacingAndGlyphs" >Basal</text>
<text x="460.70" y="111.70" font-size="6.6" font-weight="normal" text-anchor="middle" fill="#222" stroke="#222" stroke-width="0.22" textLength="21" lengthAdjust="spacingAndGlyphs" >(n=170)</text>
<text x="157.90" y="117.50" font-size="10.5" font-weight="bold" text-anchor="start" fill="#000" stroke="#000" stroke-width="0.15" >C</text>
<text x="6.70" y="340.00" font-size="10.5" font-weight="bold" text-anchor="start" fill="#000" stroke="#000" stroke-width="0.15" >D</text>
<line x1="188.00" y1="124.90" x2="188.00" y2="198.40" stroke="#c8c8c8" stroke-width="0.9" />
<line x1="188.00" y1="198.40" x2="304.00" y2="198.40" stroke="#c8c8c8" stroke-width="0.9" />
<line x1="186.20" y1="198.40" x2="188.00" y2="198.40" stroke="#c8c8c8" stroke-width="0.8" />
<text x="183.40" y="200.28" font-size="6.6" font-weight="bold" text-anchor="end" fill="#111" stroke="#111" stroke-width="0.22" >-2</text>
<line x1="186.20" y1="183.80" x2="188.00" y2="183.80" stroke="#c8c8c8" stroke-width="0.8" />
<text x="183.40" y="185.68" font-size="6.6" font-weight="bold" text-anchor="end" fill="#111" stroke="#111" stroke-width="0.22" >-1</text>
<line x1="186.20" y1="169.20" x2="188.00" y2="169.20" stroke="#c8c8c8" stroke-width="0.8" />
<text x="183.40" y="170.78" font-size="6.6" font-weight="bold" text-anchor="end" fill="#111" stroke="#111" stroke-width="0.22" >0</text>
<line x1="186.20" y1="154.60" x2="188.00" y2="154.60" stroke="#c8c8c8" stroke-width="0.8" />
<text x="183.40" y="152.78" font-size="6.6" font-weight="bold" text-anchor="end" fill="#111" stroke="#111" stroke-width="0.22" >1</text>
<line x1="186.20" y1="140.00" x2="188.00" y2="140.00" stroke="#c8c8c8" stroke-width="0.8" />
<text x="183.40" y="138.48" font-size="6.6" font-weight="bold" text-anchor="end" fill="#111" stroke="#111" stroke-width="0.22" >2</text>
<line x1="186.20" y1="125.40" x2="188.00" y2="125.40" stroke="#c8c8c8" stroke-width="0.8" />
<text x="183.40" y="124.68" font-size="6.6" font-weight="bold" text-anchor="end" fill="#111" stroke="#111" stroke-width="0.22" >3</text>
<line x1="195.80" y1="169.20" x2="209.50" y2="169.20" stroke="#5a5a5a" stroke-width="1.2" />
<line x1="231.45" y1="149.20" x2="231.45" y2="190.52" stroke="#8a8a8a" stroke-width="0.8" />
<line x1="227.82" y1="149.20" x2="235.07" y2="149.20" stroke="#8a8a8a" stroke-width="0.9" />
<line x1="227.82" y1="190.52" x2="235.07" y2="190.52" stroke="#8a8a8a" stroke-width="0.9" />
<rect x="224.20" y="163.07" width="14.50" height="18.10" fill="#f48e1e" />
<line x1="224.20" y1="171.39" x2="238.70" y2="171.39" stroke="#73400f" stroke-width="1.6" />
<line x1="260.25" y1="149.64" x2="260.25" y2="185.84" stroke="#8a8a8a" stroke-width="0.8" />
<line x1="256.77" y1="149.64" x2="263.73" y2="149.64" stroke="#8a8a8a" stroke-width="0.9" />
<line x1="256.77" y1="185.84" x2="263.73" y2="185.84" stroke="#8a8a8a" stroke-width="0.9" />
<rect x="253.30" y="154.60" width="13.90" height="14.60" fill="#bb7333" />
<line x1="253.30" y1="166.28" x2="267.20" y2="166.28" stroke="#5e3614" stroke-width="1.6" />
<line x1="289.10" y1="129.78" x2="289.10" y2="190.08" stroke="#8a8a8a" stroke-width="0.8" />
<line x1="285.55" y1="129.78" x2="292.65" y2="129.78" stroke="#8a8a8a" stroke-width="0.9" />
<line x1="285.55" y1="190.08" x2="292.65" y2="190.08" stroke="#8a8a8a" stroke-width="0.9" />
<rect x="282.00" y="138.54" width="14.20" height="31.24" fill="#aed81a" />
<line x1="282.00" y1="155.91" x2="296.20" y2="155.91" stroke="#4c5c0a" stroke-width="1.6" />
<text x="176.60" y="162.80" font-size="5.8" font-weight="bold" text-anchor="middle" fill="#111" stroke="#111" stroke-width="0.35" textLength="42.3" lengthAdjust="spacingAndGlyphs" transform="rotate(-90 176.60 162.80)" >Kaiso (Z-score)</text>
<text x="204.90" y="205.50" font-size="7.1" font-weight="bold" text-anchor="middle" fill="#1a1a1a" stroke="#1a1a1a" stroke-width="0.12" textLength="21.3" lengthAdjust="spacingAndGlyphs" >Normal</text>
<text x="204.90" y="214.00" font-size="7.1" font-weight="bold" text-anchor="middle" fill="#1a1a1a" stroke="#1a1a1a" stroke-width="0.12" textLength="18.9" lengthAdjust="spacingAndGlyphs" >(n=18)</text>
<text x="232.50" y="205.50" font-size="7.1" font-weight="bold" text-anchor="middle" fill="#1a1a1a" stroke="#1a1a1a" stroke-width="0.12" textLength="23.2" lengthAdjust="spacingAndGlyphs" >Luminal</text>
<text x="232.50" y="214.00" font-size="7.1" font-weight="bold" text-anchor="middle" fill="#1a1a1a" stroke="#1a1a1a" stroke-width="0.12" textLength="18.9" lengthAdjust="spacingAndGlyphs" >(n=64)</text>
<text x="258.40" y="205.50" font-size="7.1" font-weight="bold" text-anchor="middle" fill="#1a1a1a" stroke="#1a1a1a" stroke-width="0.12" textLength="13.6" lengthAdjust="spacingAndGlyphs" >Her2</text>
<text x="258.40" y="214.00" font-size="7.1" font-weight="bold" text-anchor="middle" fill="#1a1a1a" stroke="#1a1a1a" stroke-width="0.12" textLength="22.8" lengthAdjust="spacingAndGlyphs" >Positive</text>
<text x="258.40" y="222.50" font-size="7.1" font-weight="bold" text-anchor="middle" fill="#1a1a1a" stroke="#1a1a1a" stroke-width="0.12" textLength="18.9" lengthAdjust="spacingAndGlyphs" >(n=10)</text>
<text x="287.00" y="205.50" font-size="7.1" font-weight="bold" text-anchor="middle" fill="#1a1a1a" stroke="#1a1a1a" stroke-width="0.12" textLength="15" lengthAdjust="spacingAndGlyphs" >TNBC</text>
<text x="287.00" y="214.00" font-size="7.1" font-weight="bold" text-anchor="middle" fill="#1a1a1a" stroke="#1a1a1a" stroke-width="0.12" textLength="18.5" lengthAdjust="spacingAndGlyphs" >(n=16)</text>
<line x1="344.70" y1="125.80" x2="344.70" y2="200.10" stroke="#c8c8c8" stroke-width="0.9" />
<line x1="344.70" y1="200.10" x2="463.00" y2="200.10" stroke="#c8c8c8" stroke-width="0.9" />
<line x1="342.90" y1="200.10" x2="344.70" y2="200.10" stroke="#c8c8c8" stroke-width="0.8" />
<text x="340.10" y="202.48" font-size="6.6" font-weight="bold" text-anchor="end" fill="#111" stroke="#111" stroke-width="0.22" >-3</text>
<line x1="342.90" y1="187.80" x2="344.70" y2="187.80" stroke="#c8c8c8" stroke-width="0.8" />
<text x="340.10" y="190.18" font-size="6.6" font-weight="bold" text-anchor="end" fill="#111" stroke="#111" stroke-width="0.22" >-2</text>
<line x1="342.90" y1="175.50" x2="344.70" y2="175.50" stroke="#c8c8c8" stroke-width="0.8" />
<text x="340.10" y="177.88" font-size="6.6" font-weight="bold" text-anchor="end" fill="#111" stroke="#111" stroke-width="0.22" >-1</text>
<line x1="342.90" y1="163.20" x2="344.70" y2="163.20" stroke="#c8c8c8" stroke-width="0.8" />
<text x="340.10" y="165.58" font-size="6.6" font-weight="bold" text-anchor="end" fill="#111" stroke="#111" stroke-width="0.22" >0</text>
<line x1="342.90" y1="150.90" x2="344.70" y2="150.90" stroke="#c8c8c8" stroke-width="0.8" />
<text x="340.10" y="153.28" font-size="6.6" font-weight="bold" text-anchor="end" fill="#111" stroke="#111" stroke-width="0.22" >1</text>
<line x1="342.90" y1="138.60" x2="344.70" y2="138.60" stroke="#c8c8c8" stroke-width="0.8" />
<text x="340.10" y="140.98" font-size="6.6" font-weight="bold" text-anchor="end" fill="#111" stroke="#111" stroke-width="0.22" >2</text>
<line x1="342.90" y1="126.30" x2="344.70" y2="126.30" stroke="#c8c8c8" stroke-width="0.8" />
<text x="340.10" y="128.68" font-size="6.6" font-weight="bold" text-anchor="end" fill="#111" stroke="#111" stroke-width="0.22" >3</text>
<line x1="359.35" y1="146.10" x2="359.35" y2="160.00" stroke="#8a8a8a" stroke-width="0.8" />
<line x1="355.68" y1="146.10" x2="363.03" y2="146.10" stroke="#8a8a8a" stroke-width="0.9" />
<line x1="355.68" y1="160.00" x2="363.03" y2="160.00" stroke="#8a8a8a" stroke-width="0.9" />
<rect x="352.00" y="148.56" width="14.70" height="8.73" fill="#5366e6" />
<line x1="352.00" y1="150.90" x2="366.70" y2="150.90" stroke="#22308a" stroke-width="1.6" />
<line x1="389.15" y1="133.06" x2="389.15" y2="190.14" stroke="#8a8a8a" stroke-width="0.8" />
<line x1="385.57" y1="133.06" x2="392.72" y2="133.06" stroke="#8a8a8a" stroke-width="0.9" />
<line x1="385.57" y1="190.14" x2="392.72" y2="190.14" stroke="#8a8a8a" stroke-width="0.9" />
<rect x="382.00" y="156.07" width="14.30" height="18.20" fill="#f48e1e" />
<line x1="382.00" y1="164.18" x2="396.30" y2="164.18" stroke="#73400f" stroke-width="1.6" />
<line x1="418.55" y1="153.48" x2="418.55" y2="164.68" stroke="#8a8a8a" stroke-width="0.8" />
<line x1="414.93" y1="153.48" x2="422.18" y2="153.48" stroke="#8a8a8a" stroke-width="0.9" />
<line x1="414.93" y1="164.68" x2="422.18" y2="164.68" stroke="#8a8a8a" stroke-width="0.9" />
<rect x="411.30" y="158.89" width="14.50" height="2.83" fill="#bb7333" />
<line x1="411.30" y1="160.49" x2="425.80" y2="160.49" stroke="#5e3614" stroke-width="1.6" />
<line x1="448.15" y1="141.18" x2="448.15" y2="182.88" stroke="#8a8a8a" stroke-width="0.8" />
<line x1="444.47" y1="141.18" x2="451.82" y2="141.18" stroke="#8a8a8a" stroke-width="0.9" />
<line x1="444.47" y1="182.88" x2="451.82" y2="182.88" stroke="#8a8a8a" stroke-width="0.9" />
<rect x="440.80" y="150.28" width="14.70" height="15.62" fill="#aed81a" />
<line x1="440.80" y1="159.76" x2="455.50" y2="159.76" stroke="#4c5c0a" stroke-width="1.6" />
<text x="333.60" y="164.70" font-size="5.8" font-weight="bold" text-anchor="middle" fill="#111" stroke="#111" stroke-width="0.35" textLength="41.8" lengthAdjust="spacingAndGlyphs" transform="rotate(-90 333.60 164.70)" >CD47 (Z-score)</text>
<text x="359.30" y="206.60" font-size="7.1" font-weight="bold" text-anchor="middle" fill="#1a1a1a" stroke="#1a1a1a" stroke-width="0.12" textLength="21.3" lengthAdjust="spacingAndGlyphs" >Normal</text>
<text x="359.30" y="214.90" font-size="7.1" font-weight="bold" text-anchor="middle" fill="#1a1a1a" stroke="#1a1a1a" stroke-width="0.12" textLength="18.9" lengthAdjust="spacingAndGlyphs" >(n=18)</text>
<text x="387.50" y="206.60" font-size="7.1" font-weight="bold" text-anchor="middle" fill="#1a1a1a" stroke="#1a1a1a" stroke-width="0.12" textLength="23.2" lengthAdjust="spacingAndGlyphs" >Luminal</text>
<text x="387.50" y="214.90" font-size="7.1" font-weight="bold" text-anchor="middle" fill="#1a1a1a" stroke="#1a1a1a" stroke-width="0.12" textLength="18.9" lengthAdjust="spacingAndGlyphs" >(n=64)</text>
<text x="417.80" y="206.60" font-size="7.1" font-weight="bold" text-anchor="middle" fill="#1a1a1a" stroke="#1a1a1a" stroke-width="0.12" textLength="13.6" lengthAdjust="spacingAndGlyphs" >Her2</text>
<text x="417.80" y="214.90" font-size="7.1" font-weight="bold" text-anchor="middle" fill="#1a1a1a" stroke="#1a1a1a" stroke-width="0.12" textLength="22.8" lengthAdjust="spacingAndGlyphs" >Positive</text>
<text x="417.80" y="223.20" font-size="7.1" font-weight="bold" text-anchor="middle" fill="#1a1a1a" stroke="#1a1a1a" stroke-width="0.12" textLength="18.9" lengthAdjust="spacingAndGlyphs" >(n=10)</text>
<text x="448.50" y="206.60" font-size="7.1" font-weight="bold" text-anchor="middle" fill="#1a1a1a" stroke="#1a1a1a" stroke-width="0.12" textLength="15" lengthAdjust="spacingAndGlyphs" >TNBC</text>
<text x="448.50" y="214.90" font-size="7.1" font-weight="bold" text-anchor="middle" fill="#1a1a1a" stroke="#1a1a1a" stroke-width="0.12" textLength="18.5" lengthAdjust="spacingAndGlyphs" >(n=16)</text>
<line x1="187.00" y1="229.90" x2="187.00" y2="305.20" stroke="#c8c8c8" stroke-width="0.9" />
<line x1="187.00" y1="305.20" x2="306.50" y2="305.20" stroke="#c8c8c8" stroke-width="0.9" />
<line x1="185.20" y1="305.20" x2="187.00" y2="305.20" stroke="#c8c8c8" stroke-width="0.8" />
<text x="182.40" y="307.58" font-size="6.6" font-weight="bold" text-anchor="end" fill="#111" stroke="#111" stroke-width="0.22" >-2</text>
<line x1="185.20" y1="286.50" x2="187.00" y2="286.50" stroke="#c8c8c8" stroke-width="0.8" />
<text x="182.40" y="288.88" font-size="6.6" font-weight="bold" text-anchor="end" fill="#111" stroke="#111" stroke-width="0.22" >-1</text>
<line x1="185.20" y1="267.80" x2="187.00" y2="267.80" stroke="#c8c8c8" stroke-width="0.8" />
<text x="182.40" y="270.18" font-size="6.6" font-weight="bold" text-anchor="end" fill="#111" stroke="#111" stroke-width="0.22" >0</text>
<line x1="185.20" y1="249.10" x2="187.00" y2="249.10" stroke="#c8c8c8" stroke-width="0.8" />
<text x="182.40" y="251.48" font-size="6.6" font-weight="bold" text-anchor="end" fill="#111" stroke="#111" stroke-width="0.22" >1</text>
<line x1="185.20" y1="230.40" x2="187.00" y2="230.40" stroke="#c8c8c8" stroke-width="0.8" />
<text x="182.40" y="232.78" font-size="6.6" font-weight="bold" text-anchor="end" fill="#111" stroke="#111" stroke-width="0.22" >2</text>
<line x1="202.75" y1="248.73" x2="202.75" y2="270.04" stroke="#8a8a8a" stroke-width="0.8" />
<line x1="199.12" y1="248.73" x2="206.38" y2="248.73" stroke="#8a8a8a" stroke-width="0.9" />
<line x1="199.12" y1="270.04" x2="206.38" y2="270.04" stroke="#8a8a8a" stroke-width="0.9" />
<rect x="195.50" y="255.83" width="14.50" height="7.85" fill="#5366e6" />
<line x1="195.50" y1="259.57" x2="210.00" y2="259.57" stroke="#22308a" stroke-width="1.6" />
<line x1="232.65" y1="238.63" x2="232.65" y2="297.16" stroke="#8a8a8a" stroke-width="0.8" />
<line x1="228.98" y1="238.63" x2="236.32" y2="238.63" stroke="#8a8a8a" stroke-width="0.9" />
<line x1="228.98" y1="297.16" x2="236.32" y2="297.16" stroke="#8a8a8a" stroke-width="0.9" />
<rect x="225.30" y="262.75" width="14.70" height="16.83" fill="#f48e1e" />
<line x1="225.30" y1="272.48" x2="240.00" y2="272.48" stroke="#73400f" stroke-width="1.6" />
<line x1="262.50" y1="248.17" x2="262.50" y2="267.99" stroke="#8a8a8a" stroke-width="0.8" />
<line x1="258.75" y1="248.17" x2="266.25" y2="248.17" stroke="#8a8a8a" stroke-width="0.9" />
<line x1="258.75" y1="267.99" x2="266.25" y2="267.99" stroke="#8a8a8a" stroke-width="0.9" />
<rect x="255.00" y="256.39" width="15.00" height="8.23" fill="#bb7333" />
<line x1="255.00" y1="261.63" x2="270.00" y2="261.63" stroke="#5e3614" stroke-width="1.6" />
<line x1="292.50" y1="234.14" x2="292.50" y2="268.36" stroke="#8a8a8a" stroke-width="0.8" />
<line x1="288.75" y1="234.14" x2="296.25" y2="234.14" stroke="#8a8a8a" stroke-width="0.9" />
<line x1="288.75" y1="268.36" x2="296.25" y2="268.36" stroke="#8a8a8a" stroke-width="0.9" />
<rect x="285.00" y="244.24" width="15.00" height="11.97" fill="#aed81a" />
<line x1="285.00" y1="245.92" x2="300.00" y2="245.92" stroke="#4c5c0a" stroke-width="1.6" />
<text x="172.00" y="269.30" font-size="5.8" font-weight="bold" text-anchor="middle" fill="#111" stroke="#111" stroke-width="0.35" textLength="42.6" lengthAdjust="spacingAndGlyphs" transform="rotate(-90 172.00 269.30)" >SIRPA (Z-score)</text>
<text x="204.40" y="312.80" font-size="7.1" font-weight="bold" text-anchor="middle" fill="#1a1a1a" stroke="#1a1a1a" stroke-width="0.12" textLength="21.3" lengthAdjust="spacingAndGlyphs" >Normal</text>
<text x="204.40" y="321.40" font-size="7.1" font-weight="bold" text-anchor="middle" fill="#1a1a1a" stroke="#1a1a1a" stroke-width="0.12" textLength="18.9" lengthAdjust="spacingAndGlyphs" >(n=18)</text>
<text x="232.00" y="312.80" font-size="7.1" font-weight="bold" text-anchor="middle" fill="#1a1a1a" stroke="#1a1a1a" stroke-width="0.12" textLength="23.2" lengthAdjust="spacingAndGlyphs" >Luminal</text>
<text x="232.00" y="321.40" font-size="7.1" font-weight="bold" text-anchor="middle" fill="#1a1a1a" stroke="#1a1a1a" stroke-width="0.12" textLength="18.9" lengthAdjust="spacingAndGlyphs" >(n=64)</text>
<text x="259.50" y="312.80" font-size="7.1" font-weight="bold" text-anchor="middle" fill="#1a1a1a" stroke="#1a1a1a" stroke-width="0.12" textLength="13.6" lengthAdjust="spacingAndGlyphs" >Her2</text>
<text x="259.50" y="321.40" font-size="7.1" font-weight="bold" text-anchor="middle" fill="#1a1a1a" stroke="#1a1a1a" stroke-width="0.12" textLength="22.8" lengthAdjust="spacingAndGlyphs" >Positive</text>
<text x="259.50" y="330.00" font-size="7.1" font-weight="bold" text-anchor="middle" fill="#1a1a1a" stroke="#1a1a1a" stroke-width="0.12" textLength="18.9" lengthAdjust="spacingAndGlyphs" >(n=10)</text>
<text x="290.00" y="312.80" font-size="7.1" font-weight="bold" text-anchor="middle" fill="#1a1a1a" stroke="#1a1a1a" stroke-width="0.12" textLength="15" lengthAdjust="spacingAndGlyphs" >TNBC</text>
<text x="290.00" y="321.40" font-size="7.1" font-weight="bold" text-anchor="middle" fill="#1a1a1a" stroke="#1a1a1a" stroke-width="0.12" textLength="18.5" lengthAdjust="spacingAndGlyphs" >(n=16)</text>
<line x1="345.50" y1="228.60" x2="345.50" y2="303.20" stroke="#c8c8c8" stroke-width="0.9" />
<line x1="345.50" y1="303.20" x2="463.00" y2="303.20" stroke="#c8c8c8" stroke-width="0.9" />
<line x1="343.70" y1="303.20" x2="345.50" y2="303.20" stroke="#c8c8c8" stroke-width="0.8" />
<text x="340.90" y="305.58" font-size="6.6" font-weight="bold" text-anchor="end" fill="#111" stroke="#111" stroke-width="0.22" >-2</text>
<line x1="343.70" y1="290.85" x2="345.50" y2="290.85" stroke="#c8c8c8" stroke-width="0.8" />
<text x="340.90" y="293.23" font-size="6.6" font-weight="bold" text-anchor="end" fill="#111" stroke="#111" stroke-width="0.22" >-1</text>
<line x1="343.70" y1="278.50" x2="345.50" y2="278.50" stroke="#c8c8c8" stroke-width="0.8" />
<text x="340.90" y="280.88" font-size="6.6" font-weight="bold" text-anchor="end" fill="#111" stroke="#111" stroke-width="0.22" >0</text>
<line x1="343.70" y1="266.15" x2="345.50" y2="266.15" stroke="#c8c8c8" stroke-width="0.8" />
<text x="340.90" y="268.53" font-size="6.6" font-weight="bold" text-anchor="end" fill="#111" stroke="#111" stroke-width="0.22" >1</text>
<line x1="343.70" y1="253.80" x2="345.50" y2="253.80" stroke="#c8c8c8" stroke-width="0.8" />
<text x="340.90" y="256.18" font-size="6.6" font-weight="bold" text-anchor="end" fill="#111" stroke="#111" stroke-width="0.22" >2</text>
<line x1="343.70" y1="241.45" x2="345.50" y2="241.45" stroke="#c8c8c8" stroke-width="0.8" />
<text x="340.90" y="243.83" font-size="6.6" font-weight="bold" text-anchor="end" fill="#111" stroke="#111" stroke-width="0.22" >3</text>
<line x1="343.70" y1="229.10" x2="345.50" y2="229.10" stroke="#c8c8c8" stroke-width="0.8" />
<text x="340.90" y="231.48" font-size="6.6" font-weight="bold" text-anchor="end" fill="#111" stroke="#111" stroke-width="0.22" >4</text>
<line x1="361.05" y1="278.01" x2="361.05" y2="286.53" stroke="#8a8a8a" stroke-width="0.8" />
<line x1="357.43" y1="278.01" x2="364.68" y2="278.01" stroke="#8a8a8a" stroke-width="0.9" />
<line x1="357.43" y1="286.53" x2="364.68" y2="286.53" stroke="#8a8a8a" stroke-width="0.9" />
<rect x="353.80" y="280.97" width="14.50" height="4.08" fill="#5366e6" />
<line x1="353.80" y1="282.82" x2="368.30" y2="282.82" stroke="#22308a" stroke-width="1.6" />
<line x1="390.40" y1="242.07" x2="390.40" y2="295.30" stroke="#8a8a8a" stroke-width="0.8" />
<line x1="386.70" y1="242.07" x2="394.10" y2="242.07" stroke="#8a8a8a" stroke-width="0.9" />
<line x1="386.70" y1="295.30" x2="394.10" y2="295.30" stroke="#8a8a8a" stroke-width="0.9" />
<rect x="383.00" y="263.68" width="14.80" height="21.00" fill="#f48e1e" />
<line x1="383.00" y1="277.26" x2="397.80" y2="277.26" stroke="#73400f" stroke-width="1.6" />
<line x1="419.60" y1="268.25" x2="419.60" y2="285.91" stroke="#8a8a8a" stroke-width="0.8" />
<line x1="415.90" y1="268.25" x2="423.30" y2="268.25" stroke="#8a8a8a" stroke-width="0.9" />
<line x1="415.90" y1="285.91" x2="423.30" y2="285.91" stroke="#8a8a8a" stroke-width="0.9" />
<rect x="412.20" y="275.04" width="14.80" height="8.77" fill="#bb7333" />
<line x1="412.20" y1="278.01" x2="427.00" y2="278.01" stroke="#5e3614" stroke-width="1.6" />
<line x1="449.00" y1="264.42" x2="449.00" y2="293.94" stroke="#8a8a8a" stroke-width="0.8" />
<line x1="445.35" y1="264.42" x2="452.65" y2="264.42" stroke="#8a8a8a" stroke-width="0.9" />
<line x1="445.35" y1="293.94" x2="452.65" y2="293.94" stroke="#8a8a8a" stroke-width="0.9" />
<rect x="441.70" y="273.81" width="14.60" height="10.00" fill="#aed81a" />
<line x1="441.70" y1="279.24" x2="456.30" y2="279.24" stroke="#4c5c0a" stroke-width="1.6" />
<text x="330.40" y="276.00" font-size="5.8" font-weight="bold" text-anchor="middle" fill="#111" stroke="#111" stroke-width="0.35" textLength="44.2" lengthAdjust="spacingAndGlyphs" transform="rotate(-90 330.40 276.00)" >THBS1 (Z-score)</text>
<text x="361.90" y="308.50" font-size="7.1" font-weight="bold" text-anchor="middle" fill="#1a1a1a" stroke="#1a1a1a" stroke-width="0.12" textLength="21.3" lengthAdjust="spacingAndGlyphs" >Normal</text>
<text x="361.90" y="317.30" font-size="7.1" font-weight="bold" text-anchor="middle" fill="#1a1a1a" stroke="#1a1a1a" stroke-width="0.12" textLength="18.9" lengthAdjust="spacingAndGlyphs" >(n=18)</text>
<text x="389.60" y="308.50" font-size="7.1" font-weight="bold" text-anchor="middle" fill="#1a1a1a" stroke="#1a1a1a" stroke-width="0.12" textLength="23.2" lengthAdjust="spacingAndGlyphs" >Luminal</text>
<text x="389.60" y="317.30" font-size="7.1" font-weight="bold" text-anchor="middle" fill="#1a1a1a" stroke="#1a1a1a" stroke-width="0.12" textLength="18.9" lengthAdjust="spacingAndGlyphs" >(n=64)</text>
<text x="416.00" y="308.50" font-size="7.1" font-weight="bold" text-anchor="middle" fill="#1a1a1a" stroke="#1a1a1a" stroke-width="0.12" textLength="13.6" lengthAdjust="spacingAndGlyphs" >Her2</text>
<text x="416.00" y="317.30" font-size="7.1" font-weight="bold" text-anchor="middle" fill="#1a1a1a" stroke="#1a1a1a" stroke-width="0.12" textLength="22.8" lengthAdjust="spacingAndGlyphs" >Positive</text>
<text x="416.00" y="326.10" font-size="7.1" font-weight="bold" text-anchor="middle" fill="#1a1a1a" stroke="#1a1a1a" stroke-width="0.12" textLength="18.9" lengthAdjust="spacingAndGlyphs" >(n=10)</text>
<text x="443.30" y="308.50" font-size="7.1" font-weight="bold" text-anchor="middle" fill="#1a1a1a" stroke="#1a1a1a" stroke-width="0.12" textLength="15" lengthAdjust="spacingAndGlyphs" >TNBC</text>
<text x="443.30" y="317.30" font-size="7.1" font-weight="bold" text-anchor="middle" fill="#1a1a1a" stroke="#1a1a1a" stroke-width="0.12" textLength="18.5" lengthAdjust="spacingAndGlyphs" >(n=16)</text>
<line x1="30.60" y1="343.10" x2="119.00" y2="343.10" stroke="#e2e2e2" stroke-width="0.8" />
<line x1="119.00" y1="343.10" x2="119.00" y2="415.20" stroke="#e2e2e2" stroke-width="0.8" />
<line x1="30.60" y1="346.45" x2="30.60" y2="415.20" stroke="#c8c8c8" stroke-width="0.9" />
<line x1="30.60" y1="415.20" x2="119.00" y2="415.20" stroke="#c8c8c8" stroke-width="0.9" />
<line x1="28.80" y1="415.20" x2="30.60" y2="415.20" stroke="#c8c8c8" stroke-width="0.8" />
<text x="26.30" y="418.37" font-size="8.8" font-weight="bold" text-anchor="end" fill="#111" stroke="#111" stroke-width="0.22" >-2</text>
<line x1="28.80" y1="401.55" x2="30.60" y2="401.55" stroke="#c8c8c8" stroke-width="0.8" />
<text x="26.30" y="404.72" font-size="8.8" font-weight="bold" text-anchor="end" fill="#111" stroke="#111" stroke-width="0.22" >-1</text>
<line x1="28.80" y1="387.90" x2="30.60" y2="387.90" stroke="#c8c8c8" stroke-width="0.8" />
<text x="26.30" y="391.07" font-size="8.8" font-weight="bold" text-anchor="end" fill="#111" stroke="#111" stroke-width="0.22" >0</text>
<line x1="28.80" y1="374.25" x2="30.60" y2="374.25" stroke="#c8c8c8" stroke-width="0.8" />
<text x="26.30" y="377.42" font-size="8.8" font-weight="bold" text-anchor="end" fill="#111" stroke="#111" stroke-width="0.22" >1</text>
<line x1="28.80" y1="360.60" x2="30.60" y2="360.60" stroke="#c8c8c8" stroke-width="0.8" />
<text x="26.30" y="363.77" font-size="8.8" font-weight="bold" text-anchor="end" fill="#111" stroke="#111" stroke-width="0.22" >2</text>
<line x1="28.80" y1="346.95" x2="30.60" y2="346.95" stroke="#c8c8c8" stroke-width="0.8" />
<text x="26.30" y="350.12" font-size="8.8" font-weight="bold" text-anchor="end" fill="#111" stroke="#111" stroke-width="0.22" >3</text>
<line x1="46.30" y1="351.04" x2="46.30" y2="411.79" stroke="#8a8a8a" stroke-width="0.8" />
<line x1="42.80" y1="351.04" x2="49.80" y2="351.04" stroke="#8a8a8a" stroke-width="0.9" />
<line x1="42.80" y1="411.79" x2="49.80" y2="411.79" stroke="#8a8a8a" stroke-width="0.9" />
<rect x="39.30" y="376.43" width="14.00" height="21.29" fill="#f48e1e" />
<line x1="39.30" y1="387.49" x2="53.30" y2="387.49" stroke="#73400f" stroke-width="1.6" />
<line x1="74.70" y1="352.41" x2="74.70" y2="403.46" stroke="#8a8a8a" stroke-width="0.8" />
<line x1="71.10" y1="352.41" x2="78.30" y2="352.41" stroke="#8a8a8a" stroke-width="0.9" />
<line x1="71.10" y1="403.46" x2="78.30" y2="403.46" stroke="#8a8a8a" stroke-width="0.9" />
<rect x="67.50" y="367.15" width="14.40" height="22.39" fill="#bb7333" />
<line x1="67.50" y1="384.76" x2="81.90" y2="384.76" stroke="#5e3614" stroke-width="1.6" />
<line x1="103.55" y1="368.52" x2="103.55" y2="409.47" stroke="#8a8a8a" stroke-width="0.8" />
<line x1="100.03" y1="368.52" x2="107.07" y2="368.52" stroke="#8a8a8a" stroke-width="0.9" />
<line x1="100.03" y1="409.47" x2="107.07" y2="409.47" stroke="#8a8a8a" stroke-width="0.9" />
<rect x="96.50" y="376.98" width="14.10" height="17.20" fill="#aed81a" />
<line x1="96.50" y1="388.31" x2="110.60" y2="388.31" stroke="#4c5c0a" stroke-width="1.6" />
<text x="17.80" y="380.70" font-size="7.4" font-weight="bold" text-anchor="middle" fill="#111" stroke="#111" stroke-width="0.35" textLength="53.8" lengthAdjust="spacingAndGlyphs" transform="rotate(-90 17.80 380.70)" >Kaiso (Z-score)</text>
<text x="46.00" y="423.30" font-size="8.3" font-weight="bold" text-anchor="middle" fill="#1a1a1a" stroke="#1a1a1a" stroke-width="0.12" textLength="20.4" lengthAdjust="spacingAndGlyphs" >White</text>
<text x="46.00" y="432.70" font-size="8.3" font-weight="bold" text-anchor="middle" fill="#1a1a1a" stroke="#1a1a1a" stroke-width="0.12" textLength="21" lengthAdjust="spacingAndGlyphs" >(n=80)</text>
<text x="74.80" y="423.30" font-size="8.3" font-weight="bold" text-anchor="middle" fill="#1a1a1a" stroke="#1a1a1a" stroke-width="0.12" textLength="18.6" lengthAdjust="spacingAndGlyphs" >Black</text>
<text x="74.80" y="432.70" font-size="8.3" font-weight="bold" text-anchor="middle" fill="#1a1a1a" stroke="#1a1a1a" stroke-width="0.12" textLength="21" lengthAdjust="spacingAndGlyphs" >(n=18)</text>
<text x="103.30" y="423.30" font-size="8.3" font-weight="bold" text-anchor="middle" fill="#1a1a1a" stroke="#1a1a1a" stroke-width="0.12" textLength="19.6" lengthAdjust="spacingAndGlyphs" >Asian</text>
<text x="103.30" y="432.70" font-size="8.3" font-weight="bold" text-anchor="middle" fill="#1a1a1a" stroke="#1a1a1a" stroke-width="0.12" textLength="21" lengthAdjust="spacingAndGlyphs" >(n=20)</text>
<line x1="155.40" y1="345.50" x2="243.60" y2="345.50" stroke="#e2e2e2" stroke-width="0.8" />
<line x1="243.60" y1="345.50" x2="243.60" y2="417.00" stroke="#e2e2e2" stroke-width="0.8" />
<line x1="155.40" y1="347.75" x2="155.40" y2="417.00" stroke="#c8c8c8" stroke-width="0.9" />
<line x1="155.40" y1="417.00" x2="243.60" y2="417.00" stroke="#c8c8c8" stroke-width="0.9" />
<line x1="153.60" y1="417.00" x2="155.40" y2="417.00" stroke="#c8c8c8" stroke-width="0.8" />
<text x="151.10" y="420.17" font-size="8.8" font-weight="bold" text-anchor="end" fill="#111" stroke="#111" stroke-width="0.22" >-2</text>
<line x1="153.60" y1="403.25" x2="155.40" y2="403.25" stroke="#c8c8c8" stroke-width="0.8" />
<text x="151.10" y="406.42" font-size="8.8" font-weight="bold" text-anchor="end" fill="#111" stroke="#111" stroke-width="0.22" >-1</text>
<line x1="153.60" y1="389.50" x2="155.40" y2="389.50" stroke="#c8c8c8" stroke-width="0.8" />
<text x="151.10" y="392.67" font-size="8.8" font-weight="bold" text-anchor="end" fill="#111" stroke="#111" stroke-width="0.22" >0</text>
<line x1="153.60" y1="375.75" x2="155.40" y2="375.75" stroke="#c8c8c8" stroke-width="0.8" />
<text x="151.10" y="378.92" font-size="8.8" font-weight="bold" text-anchor="end" fill="#111" stroke="#111" stroke-width="0.22" >1</text>
<line x1="153.60" y1="362.00" x2="155.40" y2="362.00" stroke="#c8c8c8" stroke-width="0.8" />
<text x="151.10" y="365.17" font-size="8.8" font-weight="bold" text-anchor="end" fill="#111" stroke="#111" stroke-width="0.22" >2</text>
<line x1="153.60" y1="348.25" x2="155.40" y2="348.25" stroke="#c8c8c8" stroke-width="0.8" />
<text x="151.10" y="351.42" font-size="8.8" font-weight="bold" text-anchor="end" fill="#111" stroke="#111" stroke-width="0.22" >3</text>
<line x1="172.12" y1="354.30" x2="172.12" y2="404.49" stroke="#8a8a8a" stroke-width="0.8" />
<line x1="168.56" y1="354.30" x2="175.69" y2="354.30" stroke="#8a8a8a" stroke-width="0.9" />
<line x1="168.56" y1="404.49" x2="175.69" y2="404.49" stroke="#8a8a8a" stroke-width="0.9" />
<rect x="165.00" y="373.27" width="14.25" height="14.16" fill="#f48e1e" />
<line x1="165.00" y1="379.05" x2="179.25" y2="379.05" stroke="#73400f" stroke-width="1.6" />
<line x1="200.12" y1="360.49" x2="200.12" y2="395.82" stroke="#8a8a8a" stroke-width="0.8" />
<line x1="196.69" y1="360.49" x2="203.56" y2="360.49" stroke="#8a8a8a" stroke-width="0.9" />
<line x1="196.69" y1="395.82" x2="203.56" y2="395.82" stroke="#8a8a8a" stroke-width="0.9" />
<rect x="193.25" y="371.21" width="13.75" height="12.10" fill="#bb7333" />
<line x1="193.25" y1="377.54" x2="207.00" y2="377.54" stroke="#5e3614" stroke-width="1.6" />
<line x1="228.38" y1="366.54" x2="228.38" y2="381.25" stroke="#8a8a8a" stroke-width="0.8" />
<line x1="225.06" y1="366.54" x2="231.69" y2="366.54" stroke="#8a8a8a" stroke-width="0.9" />
<line x1="225.06" y1="381.25" x2="231.69" y2="381.25" stroke="#8a8a8a" stroke-width="0.9" />
<rect x="221.75" y="372.04" width="13.25" height="4.12" fill="#aed81a" />
<line x1="221.75" y1="374.10" x2="235.00" y2="374.10" stroke="#4c5c0a" stroke-width="1.6" />
<text x="143.40" y="381.00" font-size="7.4" font-weight="bold" text-anchor="middle" fill="#111" stroke="#111" stroke-width="0.35" textLength="53" lengthAdjust="spacingAndGlyphs" transform="rotate(-90 143.40 381.00)" >CD47 (Z-score)</text>
<text x="172.00" y="424.60" font-size="8.3" font-weight="bold" text-anchor="middle" fill="#1a1a1a" stroke="#1a1a1a" stroke-width="0.12" textLength="20.4" lengthAdjust="spacingAndGlyphs" >White</text>
<text x="172.00" y="434.00" font-size="8.3" font-weight="bold" text-anchor="middle" fill="#1a1a1a" stroke="#1a1a1a" stroke-width="0.12" textLength="21" lengthAdjust="spacingAndGlyphs" >(n=80)</text>
<text x="200.00" y="424.60" font-size="8.3" font-weight="bold" text-anchor="middle" fill="#1a1a1a" stroke="#1a1a1a" stroke-width="0.12" textLength="18.6" lengthAdjust="spacingAndGlyphs" >Black</text>
<text x="200.00" y="434.00" font-size="8.3" font-weight="bold" text-anchor="middle" fill="#1a1a1a" stroke="#1a1a1a" stroke-width="0.12" textLength="21" lengthAdjust="spacingAndGlyphs" >(n=18)</text>
<text x="229.60" y="424.60" font-size="8.3" font-weight="bold" text-anchor="middle" fill="#1a1a1a" stroke="#1a1a1a" stroke-width="0.12" textLength="19.6" lengthAdjust="spacingAndGlyphs" >Asian</text>
<text x="229.60" y="434.00" font-size="8.3" font-weight="bold" text-anchor="middle" fill="#1a1a1a" stroke="#1a1a1a" stroke-width="0.12" textLength="21" lengthAdjust="spacingAndGlyphs" >(n=20)</text>
<line x1="26.80" y1="450.30" x2="122.30" y2="450.30" stroke="#e2e2e2" stroke-width="0.8" />
<line x1="122.30" y1="450.30" x2="122.30" y2="527.00" stroke="#e2e2e2" stroke-width="0.8" />
<line x1="26.80" y1="454.00" x2="26.80" y2="527.00" stroke="#c8c8c8" stroke-width="0.9" />
<line x1="26.80" y1="527.00" x2="121.50" y2="527.00" stroke="#c8c8c8" stroke-width="0.9" />
<line x1="25.00" y1="527.00" x2="26.80" y2="527.00" stroke="#c8c8c8" stroke-width="0.8" />
<text x="22.50" y="530.17" font-size="8.8" font-weight="bold" text-anchor="end" fill="#111" stroke="#111" stroke-width="0.22" >-2</text>
<line x1="25.00" y1="512.50" x2="26.80" y2="512.50" stroke="#c8c8c8" stroke-width="0.8" />
<text x="22.50" y="515.67" font-size="8.8" font-weight="bold" text-anchor="end" fill="#111" stroke="#111" stroke-width="0.22" >-1</text>
<line x1="25.00" y1="498.00" x2="26.80" y2="498.00" stroke="#c8c8c8" stroke-width="0.8" />
<text x="22.50" y="501.17" font-size="8.8" font-weight="bold" text-anchor="end" fill="#111" stroke="#111" stroke-width="0.22" >0</text>
<line x1="25.00" y1="483.50" x2="26.80" y2="483.50" stroke="#c8c8c8" stroke-width="0.8" />
<text x="22.50" y="486.67" font-size="8.8" font-weight="bold" text-anchor="end" fill="#111" stroke="#111" stroke-width="0.22" >1</text>
<line x1="25.00" y1="469.00" x2="26.80" y2="469.00" stroke="#c8c8c8" stroke-width="0.8" />
<text x="22.50" y="472.17" font-size="8.8" font-weight="bold" text-anchor="end" fill="#111" stroke="#111" stroke-width="0.22" >2</text>
<line x1="25.00" y1="454.50" x2="26.80" y2="454.50" stroke="#c8c8c8" stroke-width="0.8" />
<text x="22.50" y="457.67" font-size="8.8" font-weight="bold" text-anchor="end" fill="#111" stroke="#111" stroke-width="0.22" >3</text>
<line x1="44.38" y1="471.32" x2="44.38" y2="520.48" stroke="#8a8a8a" stroke-width="0.8" />
<line x1="40.69" y1="471.32" x2="48.06" y2="471.32" stroke="#8a8a8a" stroke-width="0.9" />
<line x1="40.69" y1="520.48" x2="48.06" y2="520.48" stroke="#8a8a8a" stroke-width="0.9" />
<rect x="37.00" y="491.76" width="14.75" height="13.92" fill="#f48e1e" />
<line x1="37.00" y1="499.16" x2="51.75" y2="499.16" stroke="#73400f" stroke-width="1.6" />
<line x1="74.75" y1="470.01" x2="74.75" y2="514.53" stroke="#8a8a8a" stroke-width="0.8" />
<line x1="71.12" y1="470.01" x2="78.38" y2="470.01" stroke="#8a8a8a" stroke-width="0.9" />
<line x1="71.12" y1="514.53" x2="78.38" y2="514.53" stroke="#8a8a8a" stroke-width="0.9" />
<rect x="67.50" y="479.30" width="14.50" height="16.53" fill="#bb7333" />
<line x1="67.50" y1="485.53" x2="82.00" y2="485.53" stroke="#5e3614" stroke-width="1.6" />
<line x1="105.00" y1="474.94" x2="105.00" y2="524.53" stroke="#8a8a8a" stroke-width="0.8" />
<line x1="101.25" y1="474.94" x2="108.75" y2="474.94" stroke="#8a8a8a" stroke-width="0.9" />
<line x1="101.25" y1="524.53" x2="108.75" y2="524.53" stroke="#8a8a8a" stroke-width="0.9" />
<rect x="97.50" y="486.69" width="15.00" height="20.88" fill="#aed81a" />
<line x1="97.50" y1="497.56" x2="112.50" y2="497.56" stroke="#4c5c0a" stroke-width="1.6" />
<text x="13.70" y="490.00" font-size="7.4" font-weight="bold" text-anchor="middle" fill="#111" stroke="#111" stroke-width="0.35" textLength="55.2" lengthAdjust="spacingAndGlyphs" transform="rotate(-90 13.70 490.00)" >SIRPA (Z-score)</text>
<text x="42.00" y="535.50" font-size="8.3" font-weight="bold" text-anchor="middle" fill="#1a1a1a" stroke="#1a1a1a" stroke-width="0.12" textLength="20.4" lengthAdjust="spacingAndGlyphs" >White</text>
<text x="42.00" y="544.90" font-size="8.3" font-weight="bold" text-anchor="middle" fill="#1a1a1a" stroke="#1a1a1a" stroke-width="0.12" textLength="21" lengthAdjust="spacingAndGlyphs" >(n=80)</text>
<text x="71.25" y="535.50" font-size="8.3" font-weight="bold" text-anchor="middle" fill="#1a1a1a" stroke="#1a1a1a" stroke-width="0.12" textLength="18.6" lengthAdjust="spacingAndGlyphs" >Black</text>
<text x="71.25" y="544.90" font-size="8.3" font-weight="bold" text-anchor="middle" fill="#1a1a1a" stroke="#1a1a1a" stroke-width="0.12" textLength="21" lengthAdjust="spacingAndGlyphs" >(n=18)</text>
<text x="101.25" y="535.50" font-size="8.3" font-weight="bold" text-anchor="middle" fill="#1a1a1a" stroke="#1a1a1a" stroke-width="0.12" textLength="19.6" lengthAdjust="spacingAndGlyphs" >Asian</text>
<text x="101.25" y="544.90" font-size="8.3" font-weight="bold" text-anchor="middle" fill="#1a1a1a" stroke="#1a1a1a" stroke-width="0.12" textLength="21" lengthAdjust="spacingAndGlyphs" >(n=20)</text>
<line x1="154.30" y1="452.40" x2="251.60" y2="452.40" stroke="#e2e2e2" stroke-width="0.8" />
<line x1="251.60" y1="452.40" x2="251.60" y2="526.80" stroke="#e2e2e2" stroke-width="0.8" />
<line x1="154.30" y1="455.20" x2="154.30" y2="526.80" stroke="#c8c8c8" stroke-width="0.9" />
<line x1="154.30" y1="526.80" x2="251.60" y2="526.80" stroke="#c8c8c8" stroke-width="0.9" />
<line x1="152.50" y1="526.80" x2="154.30" y2="526.80" stroke="#c8c8c8" stroke-width="0.8" />
<text x="150.00" y="529.97" font-size="8.8" font-weight="bold" text-anchor="end" fill="#111" stroke="#111" stroke-width="0.22" >-3</text>
<line x1="152.50" y1="514.95" x2="154.30" y2="514.95" stroke="#c8c8c8" stroke-width="0.8" />
<text x="150.00" y="518.12" font-size="8.8" font-weight="bold" text-anchor="end" fill="#111" stroke="#111" stroke-width="0.22" >-2</text>
<line x1="152.50" y1="503.10" x2="154.30" y2="503.10" stroke="#c8c8c8" stroke-width="0.8" />
<text x="150.00" y="506.27" font-size="8.8" font-weight="bold" text-anchor="end" fill="#111" stroke="#111" stroke-width="0.22" >-1</text>
<line x1="152.50" y1="491.25" x2="154.30" y2="491.25" stroke="#c8c8c8" stroke-width="0.8" />
<text x="150.00" y="494.42" font-size="8.8" font-weight="bold" text-anchor="end" fill="#111" stroke="#111" stroke-width="0.22" >0</text>
<line x1="152.50" y1="479.40" x2="154.30" y2="479.40" stroke="#c8c8c8" stroke-width="0.8" />
<text x="150.00" y="482.57" font-size="8.8" font-weight="bold" text-anchor="end" fill="#111" stroke="#111" stroke-width="0.22" >1</text>
<line x1="152.50" y1="467.55" x2="154.30" y2="467.55" stroke="#c8c8c8" stroke-width="0.8" />
<text x="150.00" y="470.72" font-size="8.8" font-weight="bold" text-anchor="end" fill="#111" stroke="#111" stroke-width="0.22" >2</text>
<line x1="152.50" y1="455.70" x2="154.30" y2="455.70" stroke="#c8c8c8" stroke-width="0.8" />
<text x="150.00" y="458.87" font-size="8.8" font-weight="bold" text-anchor="end" fill="#111" stroke="#111" stroke-width="0.22" >3</text>
<line x1="175.25" y1="468.74" x2="175.25" y2="519.45" stroke="#8a8a8a" stroke-width="0.8" />
<line x1="171.62" y1="468.74" x2="178.88" y2="468.74" stroke="#8a8a8a" stroke-width="0.9" />
<line x1="171.62" y1="519.45" x2="178.88" y2="519.45" stroke="#8a8a8a" stroke-width="0.9" />
<rect x="168.00" y="491.25" width="14.50" height="17.54" fill="#f48e1e" />
<line x1="168.00" y1="501.20" x2="182.50" y2="501.20" stroke="#73400f" stroke-width="1.6" />
<line x1="204.75" y1="481.30" x2="204.75" y2="517.56" stroke="#8a8a8a" stroke-width="0.8" />
<line x1="201.12" y1="481.30" x2="208.38" y2="481.30" stroke="#8a8a8a" stroke-width="0.9" />
<line x1="201.12" y1="517.56" x2="208.38" y2="517.56" stroke="#8a8a8a" stroke-width="0.9" />
<rect x="197.50" y="495.04" width="14.50" height="12.44" fill="#bb7333" />
<line x1="197.50" y1="499.19" x2="212.00" y2="499.19" stroke="#5e3614" stroke-width="1.6" />
<line x1="234.30" y1="494.21" x2="234.30" y2="514.95" stroke="#8a8a8a" stroke-width="0.8" />
<line x1="230.65" y1="494.21" x2="237.95" y2="494.21" stroke="#8a8a8a" stroke-width="0.9" />
<line x1="230.65" y1="514.95" x2="237.95" y2="514.95" stroke="#8a8a8a" stroke-width="0.9" />
<rect x="227.00" y="502.98" width="14.60" height="6.99" fill="#aed81a" />
<line x1="227.00" y1="505.94" x2="241.60" y2="505.94" stroke="#4c5c0a" stroke-width="1.6" />
<text x="142.00" y="491.00" font-size="7.4" font-weight="bold" text-anchor="middle" fill="#111" stroke="#111" stroke-width="0.35" textLength="56.3" lengthAdjust="spacingAndGlyphs" transform="rotate(-90 142.00 491.00)" >THBS1 (Z-score)</text>
<text x="175.50" y="535.30" font-size="8.3" font-weight="bold" text-anchor="middle" fill="#1a1a1a" stroke="#1a1a1a" stroke-width="0.12" textLength="20.4" lengthAdjust="spacingAndGlyphs" >White</text>
<text x="175.50" y="544.70" font-size="8.3" font-weight="bold" text-anchor="middle" fill="#1a1a1a" stroke="#1a1a1a" stroke-width="0.12" textLength="21" lengthAdjust="spacingAndGlyphs" >(n=80)</text>
<text x="205.00" y="535.30" font-size="8.3" font-weight="bold" text-anchor="middle" fill="#1a1a1a" stroke="#1a1a1a" stroke-width="0.12" textLength="18.6" lengthAdjust="spacingAndGlyphs" >Black</text>
<text x="205.00" y="544.70" font-size="8.3" font-weight="bold" text-anchor="middle" fill="#1a1a1a" stroke="#1a1a1a" stroke-width="0.12" textLength="21" lengthAdjust="spacingAndGlyphs" >(n=18)</text>
<text x="234.00" y="535.30" font-size="8.3" font-weight="bold" text-anchor="middle" fill="#1a1a1a" stroke="#1a1a1a" stroke-width="0.12" textLength="19.6" lengthAdjust="spacingAndGlyphs" >Asian</text>
<text x="234.00" y="544.70" font-size="8.3" font-weight="bold" text-anchor="middle" fill="#1a1a1a" stroke="#1a1a1a" stroke-width="0.12" textLength="21" lengthAdjust="spacingAndGlyphs" >(n=20)</text>
<text x="257.60" y="342.90" font-size="10.5" font-weight="bold" text-anchor="start" fill="#000" stroke="#000" stroke-width="0.15" >E</text>
<line x1="303.60" y1="370.50" x2="303.60" y2="473.30" stroke="#7a7a7a" stroke-width="0.9" />
<line x1="303.60" y1="473.30" x2="456.60" y2="473.30" stroke="#7a7a7a" stroke-width="0.9" />
<line x1="300.60" y1="473.30" x2="303.60" y2="473.30" stroke="#7a7a7a" stroke-width="0.7" />
<line x1="301.80" y1="468.67" x2="303.60" y2="468.67" stroke="#7a7a7a" stroke-width="0.7" />
<line x1="301.80" y1="464.04" x2="303.60" y2="464.04" stroke="#7a7a7a" stroke-width="0.7" />
<line x1="301.80" y1="459.42" x2="303.60" y2="459.42" stroke="#7a7a7a" stroke-width="0.7" />
<line x1="301.80" y1="454.79" x2="303.60" y2="454.79" stroke="#7a7a7a" stroke-width="0.7" />
<line x1="301.80" y1="450.16" x2="303.60" y2="450.16" stroke="#7a7a7a" stroke-width="0.7" />
<line x1="301.80" y1="445.53" x2="303.60" y2="445.53" stroke="#7a7a7a" stroke-width="0.7" />
<line x1="301.80" y1="440.90" x2="303.60" y2="440.90" stroke="#7a7a7a" stroke-width="0.7" />
<line x1="301.80" y1="436.28" x2="303.60" y2="436.28" stroke="#7a7a7a" stroke-width="0.7" />
<line x1="301.80" y1="431.65" x2="303.60" y2="431.65" stroke="#7a7a7a" stroke-width="0.7" />
<line x1="300.60" y1="427.02" x2="303.60" y2="427.02" stroke="#7a7a7a" stroke-width="0.7" />
<line x1="301.80" y1="422.39" x2="303.60" y2="422.39" stroke="#7a7a7a" stroke-width="0.7" />
<line x1="301.80" y1="417.76" x2="303.60" y2="417.76" stroke="#7a7a7a" stroke-width="0.7" />
<line x1="301.80" y1="413.14" x2="303.60" y2="413.14" stroke="#7a7a7a" stroke-width="0.7" />
<line x1="301.80" y1="408.51" x2="303.60" y2="408.51" stroke="#7a7a7a" stroke-width="0.7" />
<line x1="301.80" y1="403.88" x2="303.60" y2="403.88" stroke="#7a7a7a" stroke-width="0.7" />
<line x1="301.80" y1="399.25" x2="303.60" y2="399.25" stroke="#7a7a7a" stroke-width="0.7" />
<line x1="301.80" y1="394.62" x2="303.60" y2="394.62" stroke="#7a7a7a" stroke-width="0.7" />
<line x1="301.80" y1="390.00" x2="303.60" y2="390.00" stroke="#7a7a7a" stroke-width="0.7" />
<line x1="301.80" y1="385.37" x2="303.60" y2="385.37" stroke="#7a7a7a" stroke-width="0.7" />
<line x1="300.60" y1="380.74" x2="303.60" y2="380.74" stroke="#7a7a7a" stroke-width="0.7" />
<line x1="303.60" y1="473.30" x2="303.60" y2="476.30" stroke="#7a7a7a" stroke-width="0.8" />
<text x="303.60" y="485.90" font-size="7.5" font-weight="normal" text-anchor="middle" fill="#222" stroke="#222" stroke-width="0.22" >0</text>
<line x1="334.14" y1="473.30" x2="334.14" y2="476.30" stroke="#7a7a7a" stroke-width="0.8" />
<text x="334.14" y="485.90" font-size="7.5" font-weight="normal" text-anchor="middle" fill="#222" stroke="#222" stroke-width="0.22" >2000</text>
<line x1="364.68" y1="473.30" x2="364.68" y2="476.30" stroke="#7a7a7a" stroke-width="0.8" />
<text x="364.68" y="485.90" font-size="7.5" font-weight="normal" text-anchor="middle" fill="#222" stroke="#222" stroke-width="0.22" >4000</text>
<line x1="395.22" y1="473.30" x2="395.22" y2="476.30" stroke="#7a7a7a" stroke-width="0.8" />
<text x="395.22" y="485.90" font-size="7.5" font-weight="normal" text-anchor="middle" fill="#222" stroke="#222" stroke-width="0.22" >6000</text>
<line x1="425.76" y1="473.30" x2="425.76" y2="476.30" stroke="#7a7a7a" stroke-width="0.8" />
<text x="425.76" y="485.90" font-size="7.5" font-weight="normal" text-anchor="middle" fill="#222" stroke="#222" stroke-width="0.22" >8000</text>
<line x1="456.30" y1="473.30" x2="456.30" y2="476.30" stroke="#7a7a7a" stroke-width="0.8" />
<text x="456.30" y="485.90" font-size="7.5" font-weight="normal" text-anchor="middle" fill="#222" stroke="#222" stroke-width="0.22" >10000</text>
<text x="299.80" y="476.25" font-size="8.2" font-weight="normal" text-anchor="end" fill="#222" stroke="#222" stroke-width="0.22" >0</text>
<text x="299.80" y="429.97" font-size="8.2" font-weight="normal" text-anchor="end" fill="#222" stroke="#222" stroke-width="0.22" >50</text>
<text x="299.80" y="383.69" font-size="8.2" font-weight="normal" text-anchor="end" fill="#222" stroke="#222" stroke-width="0.22" >100</text>
<text x="380.50" y="497.00" font-size="8.4" font-weight="normal" text-anchor="middle" fill="#222" stroke="#222" stroke-width="0.22" textLength="51" lengthAdjust="spacingAndGlyphs" >Days elapsed</text>
<text x="281.60" y="420.00" font-size="8.5" font-weight="normal" text-anchor="middle" fill="#222" stroke="#222" stroke-width="0.22" textLength="83" lengthAdjust="spacingAndGlyphs" transform="rotate(-90 281.60 420.00)" >Probability of Survival</text>
<text x="316.40" y="460.40" font-size="8.3" font-weight="normal" text-anchor="start" fill="#222" stroke="#222" stroke-width="0.22" textLength="25.5" lengthAdjust="spacingAndGlyphs" >p=0.09</text>
<text x="406.30" y="433.30" font-size="8.3" font-weight="normal" text-anchor="start" fill="#222" stroke="#222" stroke-width="0.22" textLength="18.7" lengthAdjust="spacingAndGlyphs" >n=90</text>
<text x="427.20" y="456.20" font-size="8.3" font-weight="normal" text-anchor="start" fill="#222" stroke="#222" stroke-width="0.22" textLength="18.7" lengthAdjust="spacingAndGlyphs" >n=90</text>
<path d="M303.60,379.00 L311.30,379.00 L313.00,380.60 L321.60,391.00" fill="none" stroke="#000" stroke-width="1.7"/>
<path d="M304.30,380.90 L307.50,383.60 L310.50,385.80 L313.00,387.40 L316.50,388.80 L319.00,390.00 L320.50,392.50 L322.00,394.60" fill="none" stroke="#000" stroke-width="1.5"/>
<path d="M325.50,391.20 L339.50,391.20" fill="none" stroke="#000" stroke-width="1.6" stroke-dasharray="1.1,1.0"/>
<path d="M340.70,392.50 L340.70,402.50" fill="none" stroke="#000" stroke-width="1.3" stroke-dasharray="1.5,1.0"/>
<path d="M322.50,396.50 L330.50,396.50" fill="none" stroke="#000" stroke-width="1.2" stroke-dasharray="1,1.3"/>
<path d="M333.50,401.60 L342.50,401.60" fill="none" stroke="#000" stroke-width="1.4" stroke-dasharray="1.2,0.8"/>
<line x1="343.50" y1="402.60" x2="343.50" y2="405.00" stroke="#000" stroke-width="1.1" />
<line x1="345.20" y1="401.00" x2="345.20" y2="403.40" stroke="#000" stroke-width="1.1" />
<line x1="348.70" y1="409.00" x2="348.70" y2="411.40" stroke="#000" stroke-width="1.1" />
<line x1="352.00" y1="409.00" x2="352.00" y2="411.40" stroke="#000" stroke-width="1.1" />
<line x1="355.80" y1="409.00" x2="355.80" y2="411.40" stroke="#000" stroke-width="1.1" />
<line x1="357.80" y1="417.10" x2="357.80" y2="419.50" stroke="#000" stroke-width="1.1" />
<line x1="360.20" y1="417.10" x2="360.20" y2="419.50" stroke="#000" stroke-width="1.1" />
<line x1="364.30" y1="427.30" x2="364.30" y2="429.70" stroke="#000" stroke-width="1.1" />
<line x1="364.30" y1="430.80" x2="364.30" y2="433.20" stroke="#000" stroke-width="1.1" />
<line x1="399.60" y1="429.20" x2="399.60" y2="431.60" stroke="#000" stroke-width="1.1" />
<line x1="412.00" y1="452.80" x2="412.00" y2="455.20" stroke="#000" stroke-width="1.1" />
<line x1="421.80" y1="452.80" x2="421.80" y2="455.20" stroke="#000" stroke-width="1.1" />
<path d="M303.60,380.30 L305.50,380.30 L305.50,382.50 L307.50,382.50 L307.50,385.00 L309.50,385.00 L309.50,386.50 L312.00,386.50 L312.00,388.30 L316.50,388.30 L316.50,390.20 L319.50,390.20 L319.50,394.00 L321.50,394.00 L321.50,395.50 L324.50,395.50 L324.50,397.50 L333.00,397.50 L333.00,402.50 L341.00,402.50 L341.00,411.20 L356.50,411.20 L356.50,431.40 L399.80,431.40" fill="none" stroke="#1e1eea" stroke-width="1.6"/>
<path d="M303.60,380.30 L310.80,380.30 L310.80,381.50 L312.50,381.50 L312.50,383.20 L314.00,383.20 L314.00,385.00 L315.50,385.00 L315.50,386.80 L317.00,386.80 L317.00,388.50 L318.50,388.50 L318.50,390.30 L320.00,390.30 L320.00,391.50 L321.50,391.50 L321.50,392.40 L339.80,392.40 L339.80,403.00 L347.50,403.00 L347.50,411.40 L356.50,411.40 L356.50,419.30 L363.60,419.30 L363.60,446.60 L402.00,446.60 L402.00,455.10 L422.00,455.10" fill="none" stroke="#ee1e1e" stroke-width="1.6"/>
<line x1="342.20" y1="373.60" x2="352.70" y2="373.60" stroke="#ee1a1a" stroke-width="1.5" />
<line x1="343.00" y1="386.70" x2="353.00" y2="386.70" stroke="#1a1aee" stroke-width="1.5" />
<line x1="348.00" y1="385.20" x2="348.00" y2="386.70" stroke="#000" stroke-width="0.9" />
<text x="358.70" y="376.40" font-size="6.9" font-weight="normal" text-anchor="start" fill="#222" stroke="#222" stroke-width="0.22" textLength="69" lengthAdjust="spacingAndGlyphs" >(Kaiso+CD47+SIRPA)</text>
<text x="436.50" y="376.40" font-size="6.9" font-weight="normal" text-anchor="start" fill="#222" stroke="#222" stroke-width="0.22" textLength="25.5" lengthAdjust="spacingAndGlyphs" >+THBS1</text>
<text x="360.10" y="389.50" font-size="6.9" font-weight="normal" text-anchor="start" fill="#222" stroke="#222" stroke-width="0.22" textLength="68.5" lengthAdjust="spacingAndGlyphs" >(Kaiso+CD47+SIRPA)</text>
<text x="438.20" y="389.50" font-size="6.9" font-weight="normal" text-anchor="start" fill="#222" stroke="#222" stroke-width="0.22" textLength="25.5" lengthAdjust="spacingAndGlyphs" >+ THBS1</text>
<line x1="430.60" y1="368.00" x2="430.60" y2="378.30" stroke="#999" stroke-width="0.6" />
<path d="M428 372.4 L430.9 365.4 L433.8 372.4 Z" fill="#000"/>
<line x1="463.60" y1="365.00" x2="463.60" y2="375.00" stroke="#999" stroke-width="0.6" />
<path d="M460.6 371.6 L463.6 377.6 L466.6 371.6 Z" fill="#000"/>
<line x1="432.50" y1="381.50" x2="432.50" y2="391.00" stroke="#999" stroke-width="0.6" />
<path d="M429.5 387 L432.5 393.8 L435.5 387 Z" fill="#000"/>
<line x1="466.00" y1="383.00" x2="466.00" y2="395.00" stroke="#999" stroke-width="0.6" />
<path d="M463 388.4 L466 381.8 L469 388.4 Z" fill="#000"/>
</svg></body></html>
